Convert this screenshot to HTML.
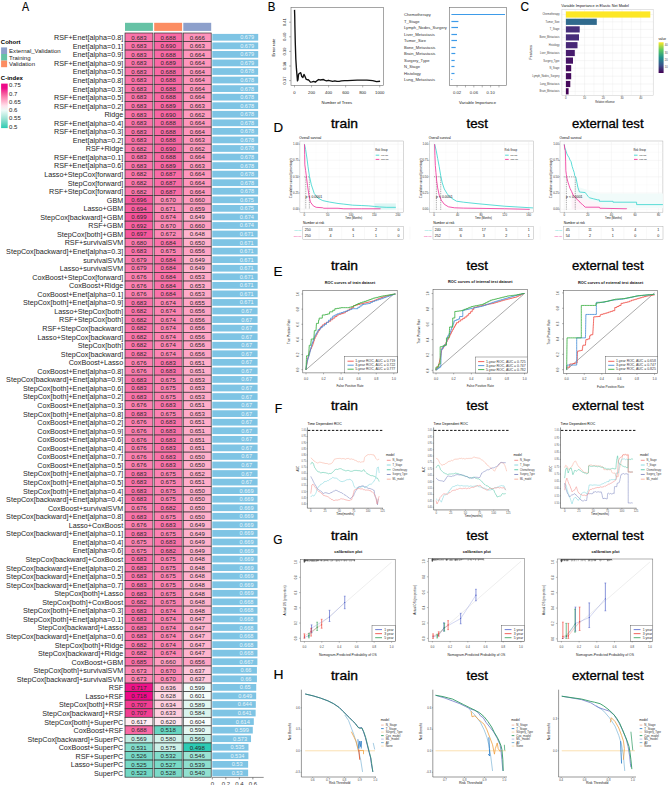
<!DOCTYPE html><html><head><meta charset="utf-8"><style>html,body{margin:0;padding:0;background:#fff;width:669px;height:785px;overflow:hidden}svg{display:block;font-family:"Liberation Sans",sans-serif}</style></head><body>
<svg width="669" height="785" viewBox="0 0 669 785">
<rect x="0.00" y="0.00" width="669.00" height="785.00" fill="#ffffff"/>
<text transform="translate(22.00,10.80) scale(0.789,1)" font-size="13.5" fill="#000" stroke="#000" stroke-width="0.15">A</text>
<text x="0.80" y="43.90" font-size="6" font-weight="bold" fill="#000">Cohort</text>
<rect x="1.10" y="47.40" width="6.00" height="6.60" fill="#8da0cb"/>
<rect x="1.10" y="54.00" width="6.00" height="6.60" fill="#66c2a5"/>
<rect x="1.10" y="60.60" width="6.00" height="6.60" fill="#fc8d62"/>
<text x="9.10" y="52.80" font-size="6" fill="#222" textLength="51.60" lengthAdjust="spacingAndGlyphs">External_Validation</text>
<text x="9.10" y="59.50" font-size="6" fill="#222">Training</text>
<text x="9.10" y="66.20" font-size="6" fill="#222">Validation</text>
<text x="0.80" y="80.40" font-size="6" font-weight="bold" fill="#000">C-index</text>
<defs><linearGradient id="cg" x1="0" y1="0" x2="0" y2="1">
<stop offset="0.00" stop-color="#ee0a88"/>
<stop offset="0.10" stop-color="#ee0a88"/>
<stop offset="0.20" stop-color="#f44a97"/>
<stop offset="0.30" stop-color="#fc82b1"/>
<stop offset="0.40" stop-color="#ffb2cd"/>
<stop offset="0.50" stop-color="#ffe2ec"/>
<stop offset="0.60" stop-color="#edfaf7"/>
<stop offset="0.70" stop-color="#c3eee4"/>
<stop offset="0.80" stop-color="#97e1d2"/>
<stop offset="0.90" stop-color="#63d4c0"/>
<stop offset="1.00" stop-color="#2ccbb4"/>
</linearGradient></defs>
<rect x="1.10" y="83.60" width="6.60" height="44.50" fill="url(#cg)"/>
<text x="9.10" y="87.10" font-size="6" fill="#222">0.75</text>
<text x="9.10" y="95.80" font-size="6" fill="#222">0.7</text>
<text x="9.10" y="103.50" font-size="6" fill="#222">0.65</text>
<text x="9.10" y="112.00" font-size="6" fill="#222">0.6</text>
<text x="9.10" y="120.40" font-size="6" fill="#222">0.55</text>
<text x="9.10" y="128.80" font-size="6" fill="#222">0.5</text>
<rect x="125.00" y="22.80" width="27.90" height="8.10" fill="#66c2a5"/>
<rect x="154.20" y="22.80" width="27.90" height="8.10" fill="#fc8d62"/>
<rect x="183.30" y="22.80" width="27.90" height="8.10" fill="#8da0cb"/>
<text x="123.20" y="40.18" font-size="7.2" text-anchor="end" fill="#262626">RSF+Enet[alpha=0.8]</text>
<rect x="125.00" y="33.00" width="27.90" height="8.55" fill="#fa74aa" stroke="#333" stroke-width="0.7"/>
<text x="138.95" y="39.53" font-size="6.1" text-anchor="middle" fill="#2a2a2a">0.683</text>
<rect x="154.20" y="33.00" width="27.90" height="8.55" fill="#f96aa5" stroke="#333" stroke-width="0.7"/>
<text x="168.15" y="39.53" font-size="6.1" text-anchor="middle" fill="#2a2a2a">0.688</text>
<rect x="183.30" y="33.00" width="27.90" height="8.55" fill="#fe93bb" stroke="#333" stroke-width="0.7"/>
<text x="197.25" y="39.53" font-size="6.1" text-anchor="middle" fill="#2a2a2a">0.666</text>
<rect x="212.30" y="33.90" width="45.90" height="6.75" fill="#7ec4e4"/>
<text x="247.20" y="39.28" font-size="5.6" text-anchor="middle" fill="#eaf6fb">0.679</text>
<text x="123.20" y="48.73" font-size="7.2" text-anchor="end" fill="#262626">Enet[alpha=0.1]</text>
<rect x="125.00" y="41.55" width="27.90" height="8.55" fill="#fa74aa" stroke="#333" stroke-width="0.7"/>
<text x="138.95" y="48.08" font-size="6.1" text-anchor="middle" fill="#2a2a2a">0.683</text>
<rect x="154.20" y="41.55" width="27.90" height="8.55" fill="#f866a3" stroke="#333" stroke-width="0.7"/>
<text x="168.15" y="48.08" font-size="6.1" text-anchor="middle" fill="#2a2a2a">0.690</text>
<rect x="183.30" y="41.55" width="27.90" height="8.55" fill="#ff99be" stroke="#333" stroke-width="0.7"/>
<text x="197.25" y="48.08" font-size="6.1" text-anchor="middle" fill="#2a2a2a">0.663</text>
<rect x="212.30" y="42.45" width="45.90" height="6.75" fill="#7ec4e4"/>
<text x="247.20" y="47.83" font-size="5.6" text-anchor="middle" fill="#eaf6fb">0.679</text>
<text x="123.20" y="57.29" font-size="7.2" text-anchor="end" fill="#262626">Enet[alpha=0.9]</text>
<rect x="125.00" y="50.11" width="27.90" height="8.55" fill="#fa74aa" stroke="#333" stroke-width="0.7"/>
<text x="138.95" y="56.64" font-size="6.1" text-anchor="middle" fill="#2a2a2a">0.683</text>
<rect x="154.20" y="50.11" width="27.90" height="8.55" fill="#f96aa5" stroke="#333" stroke-width="0.7"/>
<text x="168.15" y="56.64" font-size="6.1" text-anchor="middle" fill="#2a2a2a">0.688</text>
<rect x="183.30" y="50.11" width="27.90" height="8.55" fill="#ff97bd" stroke="#333" stroke-width="0.7"/>
<text x="197.25" y="56.64" font-size="6.1" text-anchor="middle" fill="#2a2a2a">0.664</text>
<rect x="212.30" y="51.01" width="45.90" height="6.75" fill="#7ec4e4"/>
<text x="247.20" y="56.39" font-size="5.6" text-anchor="middle" fill="#eaf6fb">0.679</text>
<text x="123.20" y="65.84" font-size="7.2" text-anchor="end" fill="#262626">RSF+Enet[alpha=0.9]</text>
<rect x="125.00" y="58.66" width="27.90" height="8.55" fill="#fa74aa" stroke="#333" stroke-width="0.7"/>
<text x="138.95" y="65.19" font-size="6.1" text-anchor="middle" fill="#2a2a2a">0.683</text>
<rect x="154.20" y="58.66" width="27.90" height="8.55" fill="#f968a4" stroke="#333" stroke-width="0.7"/>
<text x="168.15" y="65.19" font-size="6.1" text-anchor="middle" fill="#2a2a2a">0.689</text>
<rect x="183.30" y="58.66" width="27.90" height="8.55" fill="#ff97bd" stroke="#333" stroke-width="0.7"/>
<text x="197.25" y="65.19" font-size="6.1" text-anchor="middle" fill="#2a2a2a">0.664</text>
<rect x="212.30" y="59.56" width="45.90" height="6.75" fill="#7ec4e4"/>
<text x="247.20" y="64.94" font-size="5.6" text-anchor="middle" fill="#eaf6fb">0.679</text>
<text x="123.20" y="74.39" font-size="7.2" text-anchor="end" fill="#262626">Enet[alpha=0.5]</text>
<rect x="125.00" y="67.22" width="27.90" height="8.55" fill="#fa74aa" stroke="#333" stroke-width="0.7"/>
<text x="138.95" y="73.74" font-size="6.1" text-anchor="middle" fill="#2a2a2a">0.683</text>
<rect x="154.20" y="67.22" width="27.90" height="8.55" fill="#f96aa5" stroke="#333" stroke-width="0.7"/>
<text x="168.15" y="73.74" font-size="6.1" text-anchor="middle" fill="#2a2a2a">0.688</text>
<rect x="183.30" y="67.22" width="27.90" height="8.55" fill="#ff97bd" stroke="#333" stroke-width="0.7"/>
<text x="197.25" y="73.74" font-size="6.1" text-anchor="middle" fill="#2a2a2a">0.664</text>
<rect x="212.30" y="68.12" width="45.83" height="6.75" fill="#7ec4e4"/>
<text x="247.13" y="73.49" font-size="5.6" text-anchor="middle" fill="#eaf6fb">0.678</text>
<text x="123.20" y="82.95" font-size="7.2" text-anchor="end" fill="#262626">Enet[alpha=0.8]</text>
<rect x="125.00" y="75.77" width="27.90" height="8.55" fill="#fa74aa" stroke="#333" stroke-width="0.7"/>
<text x="138.95" y="82.30" font-size="6.1" text-anchor="middle" fill="#2a2a2a">0.683</text>
<rect x="154.20" y="75.77" width="27.90" height="8.55" fill="#f96aa5" stroke="#333" stroke-width="0.7"/>
<text x="168.15" y="82.30" font-size="6.1" text-anchor="middle" fill="#2a2a2a">0.688</text>
<rect x="183.30" y="75.77" width="27.90" height="8.55" fill="#ff97bd" stroke="#333" stroke-width="0.7"/>
<text x="197.25" y="82.30" font-size="6.1" text-anchor="middle" fill="#2a2a2a">0.664</text>
<rect x="212.30" y="76.67" width="45.83" height="6.75" fill="#7ec4e4"/>
<text x="247.13" y="82.05" font-size="5.6" text-anchor="middle" fill="#eaf6fb">0.678</text>
<text x="123.20" y="91.50" font-size="7.2" text-anchor="end" fill="#262626">Enet[alpha=0.3]</text>
<rect x="125.00" y="84.32" width="27.90" height="8.55" fill="#fa74aa" stroke="#333" stroke-width="0.7"/>
<text x="138.95" y="90.85" font-size="6.1" text-anchor="middle" fill="#2a2a2a">0.683</text>
<rect x="154.20" y="84.32" width="27.90" height="8.55" fill="#f96aa5" stroke="#333" stroke-width="0.7"/>
<text x="168.15" y="90.85" font-size="6.1" text-anchor="middle" fill="#2a2a2a">0.688</text>
<rect x="183.30" y="84.32" width="27.90" height="8.55" fill="#ff97bd" stroke="#333" stroke-width="0.7"/>
<text x="197.25" y="90.85" font-size="6.1" text-anchor="middle" fill="#2a2a2a">0.664</text>
<rect x="212.30" y="85.22" width="45.83" height="6.75" fill="#7ec4e4"/>
<text x="247.13" y="90.60" font-size="5.6" text-anchor="middle" fill="#eaf6fb">0.678</text>
<text x="123.20" y="100.06" font-size="7.2" text-anchor="end" fill="#262626">RSF+Enet[alpha=0.5]</text>
<rect x="125.00" y="92.88" width="27.90" height="8.55" fill="#fa74aa" stroke="#333" stroke-width="0.7"/>
<text x="138.95" y="99.41" font-size="6.1" text-anchor="middle" fill="#2a2a2a">0.683</text>
<rect x="154.20" y="92.88" width="27.90" height="8.55" fill="#f96aa5" stroke="#333" stroke-width="0.7"/>
<text x="168.15" y="99.41" font-size="6.1" text-anchor="middle" fill="#2a2a2a">0.688</text>
<rect x="183.30" y="92.88" width="27.90" height="8.55" fill="#ff97bd" stroke="#333" stroke-width="0.7"/>
<text x="197.25" y="99.41" font-size="6.1" text-anchor="middle" fill="#2a2a2a">0.664</text>
<rect x="212.30" y="93.78" width="45.83" height="6.75" fill="#7ec4e4"/>
<text x="247.13" y="99.16" font-size="5.6" text-anchor="middle" fill="#eaf6fb">0.678</text>
<text x="123.20" y="108.61" font-size="7.2" text-anchor="end" fill="#262626">RSF+Enet[alpha=0.2]</text>
<rect x="125.00" y="101.43" width="27.90" height="8.55" fill="#fa74aa" stroke="#333" stroke-width="0.7"/>
<text x="138.95" y="107.96" font-size="6.1" text-anchor="middle" fill="#2a2a2a">0.683</text>
<rect x="154.20" y="101.43" width="27.90" height="8.55" fill="#f968a4" stroke="#333" stroke-width="0.7"/>
<text x="168.15" y="107.96" font-size="6.1" text-anchor="middle" fill="#2a2a2a">0.689</text>
<rect x="183.30" y="101.43" width="27.90" height="8.55" fill="#ff99be" stroke="#333" stroke-width="0.7"/>
<text x="197.25" y="107.96" font-size="6.1" text-anchor="middle" fill="#2a2a2a">0.663</text>
<rect x="212.30" y="102.33" width="45.83" height="6.75" fill="#7ec4e4"/>
<text x="247.13" y="107.71" font-size="5.6" text-anchor="middle" fill="#eaf6fb">0.678</text>
<text x="123.20" y="117.16" font-size="7.2" text-anchor="end" fill="#262626">Ridge</text>
<rect x="125.00" y="109.99" width="27.90" height="8.55" fill="#fa74aa" stroke="#333" stroke-width="0.7"/>
<text x="138.95" y="116.51" font-size="6.1" text-anchor="middle" fill="#2a2a2a">0.683</text>
<rect x="154.20" y="109.99" width="27.90" height="8.55" fill="#f866a3" stroke="#333" stroke-width="0.7"/>
<text x="168.15" y="116.51" font-size="6.1" text-anchor="middle" fill="#2a2a2a">0.690</text>
<rect x="183.30" y="109.99" width="27.90" height="8.55" fill="#ff9bbf" stroke="#333" stroke-width="0.7"/>
<text x="197.25" y="116.51" font-size="6.1" text-anchor="middle" fill="#2a2a2a">0.662</text>
<rect x="212.30" y="110.89" width="45.83" height="6.75" fill="#7ec4e4"/>
<text x="247.13" y="116.26" font-size="5.6" text-anchor="middle" fill="#eaf6fb">0.678</text>
<text x="123.20" y="125.72" font-size="7.2" text-anchor="end" fill="#262626">RSF+Enet[alpha=0.4]</text>
<rect x="125.00" y="118.54" width="27.90" height="8.55" fill="#fa74aa" stroke="#333" stroke-width="0.7"/>
<text x="138.95" y="125.07" font-size="6.1" text-anchor="middle" fill="#2a2a2a">0.683</text>
<rect x="154.20" y="118.54" width="27.90" height="8.55" fill="#f96aa5" stroke="#333" stroke-width="0.7"/>
<text x="168.15" y="125.07" font-size="6.1" text-anchor="middle" fill="#2a2a2a">0.688</text>
<rect x="183.30" y="118.54" width="27.90" height="8.55" fill="#ff97bd" stroke="#333" stroke-width="0.7"/>
<text x="197.25" y="125.07" font-size="6.1" text-anchor="middle" fill="#2a2a2a">0.664</text>
<rect x="212.30" y="119.44" width="45.83" height="6.75" fill="#7ec4e4"/>
<text x="247.13" y="124.82" font-size="5.6" text-anchor="middle" fill="#eaf6fb">0.678</text>
<text x="123.20" y="134.27" font-size="7.2" text-anchor="end" fill="#262626">RSF+Enet[alpha=0.3]</text>
<rect x="125.00" y="127.09" width="27.90" height="8.55" fill="#fa74aa" stroke="#333" stroke-width="0.7"/>
<text x="138.95" y="133.62" font-size="6.1" text-anchor="middle" fill="#2a2a2a">0.683</text>
<rect x="154.20" y="127.09" width="27.90" height="8.55" fill="#f96aa5" stroke="#333" stroke-width="0.7"/>
<text x="168.15" y="133.62" font-size="6.1" text-anchor="middle" fill="#2a2a2a">0.688</text>
<rect x="183.30" y="127.09" width="27.90" height="8.55" fill="#ff97bd" stroke="#333" stroke-width="0.7"/>
<text x="197.25" y="133.62" font-size="6.1" text-anchor="middle" fill="#2a2a2a">0.664</text>
<rect x="212.30" y="127.99" width="45.83" height="6.75" fill="#7ec4e4"/>
<text x="247.13" y="133.37" font-size="5.6" text-anchor="middle" fill="#eaf6fb">0.678</text>
<text x="123.20" y="142.83" font-size="7.2" text-anchor="end" fill="#262626">Enet[alpha=0.2]</text>
<rect x="125.00" y="135.65" width="27.90" height="8.55" fill="#fa74aa" stroke="#333" stroke-width="0.7"/>
<text x="138.95" y="142.18" font-size="6.1" text-anchor="middle" fill="#2a2a2a">0.683</text>
<rect x="154.20" y="135.65" width="27.90" height="8.55" fill="#f96aa5" stroke="#333" stroke-width="0.7"/>
<text x="168.15" y="142.18" font-size="6.1" text-anchor="middle" fill="#2a2a2a">0.688</text>
<rect x="183.30" y="135.65" width="27.90" height="8.55" fill="#ff99be" stroke="#333" stroke-width="0.7"/>
<text x="197.25" y="142.18" font-size="6.1" text-anchor="middle" fill="#2a2a2a">0.663</text>
<rect x="212.30" y="136.55" width="45.83" height="6.75" fill="#7ec4e4"/>
<text x="247.13" y="141.93" font-size="5.6" text-anchor="middle" fill="#eaf6fb">0.678</text>
<text x="123.20" y="151.38" font-size="7.2" text-anchor="end" fill="#262626">RSF+Ridge</text>
<rect x="125.00" y="144.20" width="27.90" height="8.55" fill="#fb76ab" stroke="#333" stroke-width="0.7"/>
<text x="138.95" y="150.73" font-size="6.1" text-anchor="middle" fill="#2a2a2a">0.682</text>
<rect x="154.20" y="144.20" width="27.90" height="8.55" fill="#f866a3" stroke="#333" stroke-width="0.7"/>
<text x="168.15" y="150.73" font-size="6.1" text-anchor="middle" fill="#2a2a2a">0.690</text>
<rect x="183.30" y="144.20" width="27.90" height="8.55" fill="#ff9bbf" stroke="#333" stroke-width="0.7"/>
<text x="197.25" y="150.73" font-size="6.1" text-anchor="middle" fill="#2a2a2a">0.662</text>
<rect x="212.30" y="145.10" width="45.83" height="6.75" fill="#7ec4e4"/>
<text x="247.13" y="150.48" font-size="5.6" text-anchor="middle" fill="#eaf6fb">0.678</text>
<text x="123.20" y="159.93" font-size="7.2" text-anchor="end" fill="#262626">RSF+Enet[alpha=0.1]</text>
<rect x="125.00" y="152.76" width="27.90" height="8.55" fill="#fa74aa" stroke="#333" stroke-width="0.7"/>
<text x="138.95" y="159.28" font-size="6.1" text-anchor="middle" fill="#2a2a2a">0.683</text>
<rect x="154.20" y="152.76" width="27.90" height="8.55" fill="#f96aa5" stroke="#333" stroke-width="0.7"/>
<text x="168.15" y="159.28" font-size="6.1" text-anchor="middle" fill="#2a2a2a">0.688</text>
<rect x="183.30" y="152.76" width="27.90" height="8.55" fill="#ff97bd" stroke="#333" stroke-width="0.7"/>
<text x="197.25" y="159.28" font-size="6.1" text-anchor="middle" fill="#2a2a2a">0.664</text>
<rect x="212.30" y="153.66" width="45.83" height="6.75" fill="#7ec4e4"/>
<text x="247.13" y="159.03" font-size="5.6" text-anchor="middle" fill="#eaf6fb">0.678</text>
<text x="123.20" y="168.49" font-size="7.2" text-anchor="end" fill="#262626">RSF+Enet[alpha=0.6]</text>
<rect x="125.00" y="161.31" width="27.90" height="8.55" fill="#fa74aa" stroke="#333" stroke-width="0.7"/>
<text x="138.95" y="167.84" font-size="6.1" text-anchor="middle" fill="#2a2a2a">0.683</text>
<rect x="154.20" y="161.31" width="27.90" height="8.55" fill="#f968a4" stroke="#333" stroke-width="0.7"/>
<text x="168.15" y="167.84" font-size="6.1" text-anchor="middle" fill="#2a2a2a">0.689</text>
<rect x="183.30" y="161.31" width="27.90" height="8.55" fill="#ff99be" stroke="#333" stroke-width="0.7"/>
<text x="197.25" y="167.84" font-size="6.1" text-anchor="middle" fill="#2a2a2a">0.663</text>
<rect x="212.30" y="162.21" width="45.83" height="6.75" fill="#7ec4e4"/>
<text x="247.13" y="167.59" font-size="5.6" text-anchor="middle" fill="#eaf6fb">0.678</text>
<text x="123.20" y="177.04" font-size="7.2" text-anchor="end" fill="#262626">Lasso+StepCox[forward]</text>
<rect x="125.00" y="169.86" width="27.90" height="8.55" fill="#fb76ab" stroke="#333" stroke-width="0.7"/>
<text x="138.95" y="176.39" font-size="6.1" text-anchor="middle" fill="#2a2a2a">0.682</text>
<rect x="154.20" y="169.86" width="27.90" height="8.55" fill="#f96ca6" stroke="#333" stroke-width="0.7"/>
<text x="168.15" y="176.39" font-size="6.1" text-anchor="middle" fill="#2a2a2a">0.687</text>
<rect x="183.30" y="169.86" width="27.90" height="8.55" fill="#ff97bd" stroke="#333" stroke-width="0.7"/>
<text x="197.25" y="176.39" font-size="6.1" text-anchor="middle" fill="#2a2a2a">0.664</text>
<rect x="212.30" y="170.76" width="45.83" height="6.75" fill="#7ec4e4"/>
<text x="247.13" y="176.14" font-size="5.6" text-anchor="middle" fill="#eaf6fb">0.678</text>
<text x="123.20" y="185.60" font-size="7.2" text-anchor="end" fill="#262626">StepCox[forward]</text>
<rect x="125.00" y="178.42" width="27.90" height="8.55" fill="#fb76ab" stroke="#333" stroke-width="0.7"/>
<text x="138.95" y="184.95" font-size="6.1" text-anchor="middle" fill="#2a2a2a">0.682</text>
<rect x="154.20" y="178.42" width="27.90" height="8.55" fill="#f96ca6" stroke="#333" stroke-width="0.7"/>
<text x="168.15" y="184.95" font-size="6.1" text-anchor="middle" fill="#2a2a2a">0.687</text>
<rect x="183.30" y="178.42" width="27.90" height="8.55" fill="#ff97bd" stroke="#333" stroke-width="0.7"/>
<text x="197.25" y="184.95" font-size="6.1" text-anchor="middle" fill="#2a2a2a">0.664</text>
<rect x="212.30" y="179.32" width="45.83" height="6.75" fill="#7ec4e4"/>
<text x="247.13" y="184.70" font-size="5.6" text-anchor="middle" fill="#eaf6fb">0.678</text>
<text x="123.20" y="194.15" font-size="7.2" text-anchor="end" fill="#262626">RSF+StepCox[forward]</text>
<rect x="125.00" y="186.97" width="27.90" height="8.55" fill="#fb76ab" stroke="#333" stroke-width="0.7"/>
<text x="138.95" y="193.50" font-size="6.1" text-anchor="middle" fill="#2a2a2a">0.682</text>
<rect x="154.20" y="186.97" width="27.90" height="8.55" fill="#f96ca6" stroke="#333" stroke-width="0.7"/>
<text x="168.15" y="193.50" font-size="6.1" text-anchor="middle" fill="#2a2a2a">0.687</text>
<rect x="183.30" y="186.97" width="27.90" height="8.55" fill="#ff97bd" stroke="#333" stroke-width="0.7"/>
<text x="197.25" y="193.50" font-size="6.1" text-anchor="middle" fill="#2a2a2a">0.664</text>
<rect x="212.30" y="187.87" width="45.83" height="6.75" fill="#7ec4e4"/>
<text x="247.13" y="193.25" font-size="5.6" text-anchor="middle" fill="#eaf6fb">0.678</text>
<text x="123.20" y="202.70" font-size="7.2" text-anchor="end" fill="#262626">GBM</text>
<rect x="125.00" y="195.53" width="27.90" height="8.55" fill="#f6599d" stroke="#333" stroke-width="0.7"/>
<text x="138.95" y="202.05" font-size="6.1" text-anchor="middle" fill="#2a2a2a">0.696</text>
<rect x="154.20" y="195.53" width="27.90" height="8.55" fill="#fe8cb7" stroke="#333" stroke-width="0.7"/>
<text x="168.15" y="202.05" font-size="6.1" text-anchor="middle" fill="#2a2a2a">0.670</text>
<rect x="183.30" y="195.53" width="27.90" height="8.55" fill="#ff9ec1" stroke="#333" stroke-width="0.7"/>
<text x="197.25" y="202.05" font-size="6.1" text-anchor="middle" fill="#2a2a2a">0.660</text>
<rect x="212.30" y="196.43" width="45.63" height="6.75" fill="#7ec4e4"/>
<text x="246.93" y="201.80" font-size="5.6" text-anchor="middle" fill="#eaf6fb">0.675</text>
<text x="123.20" y="211.26" font-size="7.2" text-anchor="end" fill="#262626">Lasso+GBM</text>
<rect x="125.00" y="204.08" width="27.90" height="8.55" fill="#f75d9f" stroke="#333" stroke-width="0.7"/>
<text x="138.95" y="210.61" font-size="6.1" text-anchor="middle" fill="#2a2a2a">0.694</text>
<rect x="154.20" y="204.08" width="27.90" height="8.55" fill="#fd8ab6" stroke="#333" stroke-width="0.7"/>
<text x="168.15" y="210.61" font-size="6.1" text-anchor="middle" fill="#2a2a2a">0.671</text>
<rect x="183.30" y="204.08" width="27.90" height="8.55" fill="#ffa0c2" stroke="#333" stroke-width="0.7"/>
<text x="197.25" y="210.61" font-size="6.1" text-anchor="middle" fill="#2a2a2a">0.659</text>
<rect x="212.30" y="204.98" width="45.63" height="6.75" fill="#7ec4e4"/>
<text x="246.93" y="210.36" font-size="5.6" text-anchor="middle" fill="#eaf6fb">0.675</text>
<text x="123.20" y="219.81" font-size="7.2" text-anchor="end" fill="#262626">StepCox[backward]+GBM</text>
<rect x="125.00" y="212.63" width="27.90" height="8.55" fill="#f5529a" stroke="#333" stroke-width="0.7"/>
<text x="138.95" y="219.16" font-size="6.1" text-anchor="middle" fill="#2a2a2a">0.699</text>
<rect x="154.20" y="212.63" width="27.90" height="8.55" fill="#fd85b3" stroke="#333" stroke-width="0.7"/>
<text x="168.15" y="219.16" font-size="6.1" text-anchor="middle" fill="#2a2a2a">0.674</text>
<rect x="183.30" y="212.63" width="27.90" height="8.55" fill="#ffb2cd" stroke="#333" stroke-width="0.7"/>
<text x="197.25" y="219.16" font-size="6.1" text-anchor="middle" fill="#2a2a2a">0.649</text>
<rect x="212.30" y="213.53" width="45.56" height="6.75" fill="#7ec4e4"/>
<text x="246.86" y="218.91" font-size="5.6" text-anchor="middle" fill="#eaf6fb">0.674</text>
<text x="123.20" y="228.37" font-size="7.2" text-anchor="end" fill="#262626">RSF+GBM</text>
<rect x="125.00" y="221.19" width="27.90" height="8.55" fill="#f861a1" stroke="#333" stroke-width="0.7"/>
<text x="138.95" y="227.72" font-size="6.1" text-anchor="middle" fill="#2a2a2a">0.692</text>
<rect x="154.20" y="221.19" width="27.90" height="8.55" fill="#fe8cb7" stroke="#333" stroke-width="0.7"/>
<text x="168.15" y="227.72" font-size="6.1" text-anchor="middle" fill="#2a2a2a">0.670</text>
<rect x="183.30" y="221.19" width="27.90" height="8.55" fill="#ff9ec1" stroke="#333" stroke-width="0.7"/>
<text x="197.25" y="227.72" font-size="6.1" text-anchor="middle" fill="#2a2a2a">0.660</text>
<rect x="212.30" y="222.09" width="45.56" height="6.75" fill="#7ec4e4"/>
<text x="246.86" y="227.47" font-size="5.6" text-anchor="middle" fill="#eaf6fb">0.674</text>
<text x="123.20" y="236.92" font-size="7.2" text-anchor="end" fill="#262626">StepCox[both]+GBM</text>
<rect x="125.00" y="229.74" width="27.90" height="8.55" fill="#f6569c" stroke="#333" stroke-width="0.7"/>
<text x="138.95" y="236.27" font-size="6.1" text-anchor="middle" fill="#2a2a2a">0.697</text>
<rect x="154.20" y="229.74" width="27.90" height="8.55" fill="#fd88b5" stroke="#333" stroke-width="0.7"/>
<text x="168.15" y="236.27" font-size="6.1" text-anchor="middle" fill="#2a2a2a">0.672</text>
<rect x="183.30" y="229.74" width="27.90" height="8.55" fill="#ffb4ce" stroke="#333" stroke-width="0.7"/>
<text x="197.25" y="236.27" font-size="6.1" text-anchor="middle" fill="#2a2a2a">0.648</text>
<rect x="212.30" y="230.64" width="45.36" height="6.75" fill="#7ec4e4"/>
<text x="246.66" y="236.02" font-size="5.6" text-anchor="middle" fill="#eaf6fb">0.671</text>
<text x="123.20" y="245.47" font-size="7.2" text-anchor="end" fill="#262626">RSF+survivalSVM</text>
<rect x="125.00" y="238.30" width="27.90" height="8.55" fill="#fb79ad" stroke="#333" stroke-width="0.7"/>
<text x="138.95" y="244.82" font-size="6.1" text-anchor="middle" fill="#2a2a2a">0.680</text>
<rect x="154.20" y="238.30" width="27.90" height="8.55" fill="#fa72a9" stroke="#333" stroke-width="0.7"/>
<text x="168.15" y="244.82" font-size="6.1" text-anchor="middle" fill="#2a2a2a">0.684</text>
<rect x="183.30" y="238.30" width="27.90" height="8.55" fill="#ffb0cc" stroke="#333" stroke-width="0.7"/>
<text x="197.25" y="244.82" font-size="6.1" text-anchor="middle" fill="#2a2a2a">0.650</text>
<rect x="212.30" y="239.20" width="45.36" height="6.75" fill="#7ec4e4"/>
<text x="246.66" y="244.57" font-size="5.6" text-anchor="middle" fill="#eaf6fb">0.671</text>
<text x="123.20" y="254.03" font-size="7.2" text-anchor="end" fill="#262626">StepCox[backward]+Enet[alpha=0.3]</text>
<rect x="125.00" y="246.85" width="27.90" height="8.55" fill="#fa74aa" stroke="#333" stroke-width="0.7"/>
<text x="138.95" y="253.38" font-size="6.1" text-anchor="middle" fill="#2a2a2a">0.683</text>
<rect x="154.20" y="246.85" width="27.90" height="8.55" fill="#fc83b2" stroke="#333" stroke-width="0.7"/>
<text x="168.15" y="253.38" font-size="6.1" text-anchor="middle" fill="#2a2a2a">0.675</text>
<rect x="183.30" y="246.85" width="27.90" height="8.55" fill="#ffa5c6" stroke="#333" stroke-width="0.7"/>
<text x="197.25" y="253.38" font-size="6.1" text-anchor="middle" fill="#2a2a2a">0.656</text>
<rect x="212.30" y="247.75" width="45.36" height="6.75" fill="#7ec4e4"/>
<text x="246.66" y="253.13" font-size="5.6" text-anchor="middle" fill="#eaf6fb">0.671</text>
<text x="123.20" y="262.58" font-size="7.2" text-anchor="end" fill="#262626">survivalSVM</text>
<rect x="125.00" y="255.40" width="27.90" height="8.55" fill="#fb7bae" stroke="#333" stroke-width="0.7"/>
<text x="138.95" y="261.93" font-size="6.1" text-anchor="middle" fill="#2a2a2a">0.679</text>
<rect x="154.20" y="255.40" width="27.90" height="8.55" fill="#fa72a9" stroke="#333" stroke-width="0.7"/>
<text x="168.15" y="261.93" font-size="6.1" text-anchor="middle" fill="#2a2a2a">0.684</text>
<rect x="183.30" y="255.40" width="27.90" height="8.55" fill="#ffb2cd" stroke="#333" stroke-width="0.7"/>
<text x="197.25" y="261.93" font-size="6.1" text-anchor="middle" fill="#2a2a2a">0.649</text>
<rect x="212.30" y="256.30" width="45.36" height="6.75" fill="#7ec4e4"/>
<text x="246.66" y="261.68" font-size="5.6" text-anchor="middle" fill="#eaf6fb">0.671</text>
<text x="123.20" y="271.14" font-size="7.2" text-anchor="end" fill="#262626">Lasso+survivalSVM</text>
<rect x="125.00" y="263.96" width="27.90" height="8.55" fill="#fb7bae" stroke="#333" stroke-width="0.7"/>
<text x="138.95" y="270.49" font-size="6.1" text-anchor="middle" fill="#2a2a2a">0.679</text>
<rect x="154.20" y="263.96" width="27.90" height="8.55" fill="#fa72a9" stroke="#333" stroke-width="0.7"/>
<text x="168.15" y="270.49" font-size="6.1" text-anchor="middle" fill="#2a2a2a">0.684</text>
<rect x="183.30" y="263.96" width="27.90" height="8.55" fill="#ffb2cd" stroke="#333" stroke-width="0.7"/>
<text x="197.25" y="270.49" font-size="6.1" text-anchor="middle" fill="#2a2a2a">0.649</text>
<rect x="212.30" y="264.86" width="45.36" height="6.75" fill="#7ec4e4"/>
<text x="246.66" y="270.24" font-size="5.6" text-anchor="middle" fill="#eaf6fb">0.671</text>
<text x="123.20" y="279.69" font-size="7.2" text-anchor="end" fill="#262626">CoxBoost+StepCox[forward]</text>
<rect x="125.00" y="272.51" width="27.90" height="8.55" fill="#fc81b1" stroke="#333" stroke-width="0.7"/>
<text x="138.95" y="279.04" font-size="6.1" text-anchor="middle" fill="#2a2a2a">0.676</text>
<rect x="154.20" y="272.51" width="27.90" height="8.55" fill="#fa72a9" stroke="#333" stroke-width="0.7"/>
<text x="168.15" y="279.04" font-size="6.1" text-anchor="middle" fill="#2a2a2a">0.684</text>
<rect x="183.30" y="272.51" width="27.90" height="8.55" fill="#ffabc9" stroke="#333" stroke-width="0.7"/>
<text x="197.25" y="279.04" font-size="6.1" text-anchor="middle" fill="#2a2a2a">0.653</text>
<rect x="212.30" y="273.41" width="45.36" height="6.75" fill="#7ec4e4"/>
<text x="246.66" y="278.79" font-size="5.6" text-anchor="middle" fill="#eaf6fb">0.671</text>
<text x="123.20" y="288.24" font-size="7.2" text-anchor="end" fill="#262626">CoxBoost+Ridge</text>
<rect x="125.00" y="281.07" width="27.90" height="8.55" fill="#fc81b1" stroke="#333" stroke-width="0.7"/>
<text x="138.95" y="287.59" font-size="6.1" text-anchor="middle" fill="#2a2a2a">0.676</text>
<rect x="154.20" y="281.07" width="27.90" height="8.55" fill="#fa72a9" stroke="#333" stroke-width="0.7"/>
<text x="168.15" y="287.59" font-size="6.1" text-anchor="middle" fill="#2a2a2a">0.684</text>
<rect x="183.30" y="281.07" width="27.90" height="8.55" fill="#ffabc9" stroke="#333" stroke-width="0.7"/>
<text x="197.25" y="287.59" font-size="6.1" text-anchor="middle" fill="#2a2a2a">0.653</text>
<rect x="212.30" y="281.97" width="45.36" height="6.75" fill="#7ec4e4"/>
<text x="246.66" y="287.34" font-size="5.6" text-anchor="middle" fill="#eaf6fb">0.671</text>
<text x="123.20" y="296.80" font-size="7.2" text-anchor="end" fill="#262626">CoxBoost+Enet[alpha=0.1]</text>
<rect x="125.00" y="289.62" width="27.90" height="8.55" fill="#fc81b1" stroke="#333" stroke-width="0.7"/>
<text x="138.95" y="296.15" font-size="6.1" text-anchor="middle" fill="#2a2a2a">0.676</text>
<rect x="154.20" y="289.62" width="27.90" height="8.55" fill="#fa72a9" stroke="#333" stroke-width="0.7"/>
<text x="168.15" y="296.15" font-size="6.1" text-anchor="middle" fill="#2a2a2a">0.684</text>
<rect x="183.30" y="289.62" width="27.90" height="8.55" fill="#ffabc9" stroke="#333" stroke-width="0.7"/>
<text x="197.25" y="296.15" font-size="6.1" text-anchor="middle" fill="#2a2a2a">0.653</text>
<rect x="212.30" y="290.52" width="45.36" height="6.75" fill="#7ec4e4"/>
<text x="246.66" y="295.90" font-size="5.6" text-anchor="middle" fill="#eaf6fb">0.671</text>
<text x="123.20" y="305.35" font-size="7.2" text-anchor="end" fill="#262626">StepCox[both]+Enet[alpha=0.9]</text>
<rect x="125.00" y="298.17" width="27.90" height="8.55" fill="#fa74aa" stroke="#333" stroke-width="0.7"/>
<text x="138.95" y="304.70" font-size="6.1" text-anchor="middle" fill="#2a2a2a">0.683</text>
<rect x="154.20" y="298.17" width="27.90" height="8.55" fill="#fd85b3" stroke="#333" stroke-width="0.7"/>
<text x="168.15" y="304.70" font-size="6.1" text-anchor="middle" fill="#2a2a2a">0.674</text>
<rect x="183.30" y="298.17" width="27.90" height="8.55" fill="#ffa7c7" stroke="#333" stroke-width="0.7"/>
<text x="197.25" y="304.70" font-size="6.1" text-anchor="middle" fill="#2a2a2a">0.655</text>
<rect x="212.30" y="299.07" width="45.36" height="6.75" fill="#7ec4e4"/>
<text x="246.66" y="304.45" font-size="5.6" text-anchor="middle" fill="#eaf6fb">0.671</text>
<text x="123.20" y="313.91" font-size="7.2" text-anchor="end" fill="#262626">Lasso+StepCox[both]</text>
<rect x="125.00" y="306.73" width="27.90" height="8.55" fill="#fb76ab" stroke="#333" stroke-width="0.7"/>
<text x="138.95" y="313.26" font-size="6.1" text-anchor="middle" fill="#2a2a2a">0.682</text>
<rect x="154.20" y="306.73" width="27.90" height="8.55" fill="#fd85b3" stroke="#333" stroke-width="0.7"/>
<text x="168.15" y="313.26" font-size="6.1" text-anchor="middle" fill="#2a2a2a">0.674</text>
<rect x="183.30" y="306.73" width="27.90" height="8.55" fill="#ffa5c6" stroke="#333" stroke-width="0.7"/>
<text x="197.25" y="313.26" font-size="6.1" text-anchor="middle" fill="#2a2a2a">0.656</text>
<rect x="212.30" y="307.63" width="45.29" height="6.75" fill="#7ec4e4"/>
<text x="246.59" y="313.01" font-size="5.6" text-anchor="middle" fill="#eaf6fb">0.67</text>
<text x="123.20" y="322.46" font-size="7.2" text-anchor="end" fill="#262626">RSF+StepCox[both]</text>
<rect x="125.00" y="315.28" width="27.90" height="8.55" fill="#fb76ab" stroke="#333" stroke-width="0.7"/>
<text x="138.95" y="321.81" font-size="6.1" text-anchor="middle" fill="#2a2a2a">0.682</text>
<rect x="154.20" y="315.28" width="27.90" height="8.55" fill="#fd85b3" stroke="#333" stroke-width="0.7"/>
<text x="168.15" y="321.81" font-size="6.1" text-anchor="middle" fill="#2a2a2a">0.674</text>
<rect x="183.30" y="315.28" width="27.90" height="8.55" fill="#ffa5c6" stroke="#333" stroke-width="0.7"/>
<text x="197.25" y="321.81" font-size="6.1" text-anchor="middle" fill="#2a2a2a">0.656</text>
<rect x="212.30" y="316.18" width="45.29" height="6.75" fill="#7ec4e4"/>
<text x="246.59" y="321.56" font-size="5.6" text-anchor="middle" fill="#eaf6fb">0.67</text>
<text x="123.20" y="331.01" font-size="7.2" text-anchor="end" fill="#262626">RSF+StepCox[backward]</text>
<rect x="125.00" y="323.84" width="27.90" height="8.55" fill="#fb76ab" stroke="#333" stroke-width="0.7"/>
<text x="138.95" y="330.36" font-size="6.1" text-anchor="middle" fill="#2a2a2a">0.682</text>
<rect x="154.20" y="323.84" width="27.90" height="8.55" fill="#fd85b3" stroke="#333" stroke-width="0.7"/>
<text x="168.15" y="330.36" font-size="6.1" text-anchor="middle" fill="#2a2a2a">0.674</text>
<rect x="183.30" y="323.84" width="27.90" height="8.55" fill="#ffa5c6" stroke="#333" stroke-width="0.7"/>
<text x="197.25" y="330.36" font-size="6.1" text-anchor="middle" fill="#2a2a2a">0.656</text>
<rect x="212.30" y="324.74" width="45.29" height="6.75" fill="#7ec4e4"/>
<text x="246.59" y="330.11" font-size="5.6" text-anchor="middle" fill="#eaf6fb">0.67</text>
<text x="123.20" y="339.57" font-size="7.2" text-anchor="end" fill="#262626">Lasso+StepCox[backward]</text>
<rect x="125.00" y="332.39" width="27.90" height="8.55" fill="#fb76ab" stroke="#333" stroke-width="0.7"/>
<text x="138.95" y="338.92" font-size="6.1" text-anchor="middle" fill="#2a2a2a">0.682</text>
<rect x="154.20" y="332.39" width="27.90" height="8.55" fill="#fd85b3" stroke="#333" stroke-width="0.7"/>
<text x="168.15" y="338.92" font-size="6.1" text-anchor="middle" fill="#2a2a2a">0.674</text>
<rect x="183.30" y="332.39" width="27.90" height="8.55" fill="#ffa5c6" stroke="#333" stroke-width="0.7"/>
<text x="197.25" y="338.92" font-size="6.1" text-anchor="middle" fill="#2a2a2a">0.656</text>
<rect x="212.30" y="333.29" width="45.29" height="6.75" fill="#7ec4e4"/>
<text x="246.59" y="338.67" font-size="5.6" text-anchor="middle" fill="#eaf6fb">0.67</text>
<text x="123.20" y="348.12" font-size="7.2" text-anchor="end" fill="#262626">StepCox[both]</text>
<rect x="125.00" y="340.94" width="27.90" height="8.55" fill="#fb76ab" stroke="#333" stroke-width="0.7"/>
<text x="138.95" y="347.47" font-size="6.1" text-anchor="middle" fill="#2a2a2a">0.682</text>
<rect x="154.20" y="340.94" width="27.90" height="8.55" fill="#fd85b3" stroke="#333" stroke-width="0.7"/>
<text x="168.15" y="347.47" font-size="6.1" text-anchor="middle" fill="#2a2a2a">0.674</text>
<rect x="183.30" y="340.94" width="27.90" height="8.55" fill="#ffa5c6" stroke="#333" stroke-width="0.7"/>
<text x="197.25" y="347.47" font-size="6.1" text-anchor="middle" fill="#2a2a2a">0.656</text>
<rect x="212.30" y="341.84" width="45.29" height="6.75" fill="#7ec4e4"/>
<text x="246.59" y="347.22" font-size="5.6" text-anchor="middle" fill="#eaf6fb">0.67</text>
<text x="123.20" y="356.68" font-size="7.2" text-anchor="end" fill="#262626">StepCox[backward]</text>
<rect x="125.00" y="349.50" width="27.90" height="8.55" fill="#fb76ab" stroke="#333" stroke-width="0.7"/>
<text x="138.95" y="356.03" font-size="6.1" text-anchor="middle" fill="#2a2a2a">0.682</text>
<rect x="154.20" y="349.50" width="27.90" height="8.55" fill="#fd85b3" stroke="#333" stroke-width="0.7"/>
<text x="168.15" y="356.03" font-size="6.1" text-anchor="middle" fill="#2a2a2a">0.674</text>
<rect x="183.30" y="349.50" width="27.90" height="8.55" fill="#ffa5c6" stroke="#333" stroke-width="0.7"/>
<text x="197.25" y="356.03" font-size="6.1" text-anchor="middle" fill="#2a2a2a">0.656</text>
<rect x="212.30" y="350.40" width="45.29" height="6.75" fill="#7ec4e4"/>
<text x="246.59" y="355.78" font-size="5.6" text-anchor="middle" fill="#eaf6fb">0.67</text>
<text x="123.20" y="365.23" font-size="7.2" text-anchor="end" fill="#262626">CoxBoost+Lasso</text>
<rect x="125.00" y="358.05" width="27.90" height="8.55" fill="#fc81b1" stroke="#333" stroke-width="0.7"/>
<text x="138.95" y="364.58" font-size="6.1" text-anchor="middle" fill="#2a2a2a">0.676</text>
<rect x="154.20" y="358.05" width="27.90" height="8.55" fill="#fa74aa" stroke="#333" stroke-width="0.7"/>
<text x="168.15" y="364.58" font-size="6.1" text-anchor="middle" fill="#2a2a2a">0.683</text>
<rect x="183.30" y="358.05" width="27.90" height="8.55" fill="#ffaecb" stroke="#333" stroke-width="0.7"/>
<text x="197.25" y="364.58" font-size="6.1" text-anchor="middle" fill="#2a2a2a">0.651</text>
<rect x="212.30" y="358.95" width="45.29" height="6.75" fill="#7ec4e4"/>
<text x="246.59" y="364.33" font-size="5.6" text-anchor="middle" fill="#eaf6fb">0.67</text>
<text x="123.20" y="373.78" font-size="7.2" text-anchor="end" fill="#262626">CoxBoost+Enet[alpha=0.8]</text>
<rect x="125.00" y="366.61" width="27.90" height="8.55" fill="#fc81b1" stroke="#333" stroke-width="0.7"/>
<text x="138.95" y="373.13" font-size="6.1" text-anchor="middle" fill="#2a2a2a">0.676</text>
<rect x="154.20" y="366.61" width="27.90" height="8.55" fill="#fa74aa" stroke="#333" stroke-width="0.7"/>
<text x="168.15" y="373.13" font-size="6.1" text-anchor="middle" fill="#2a2a2a">0.683</text>
<rect x="183.30" y="366.61" width="27.90" height="8.55" fill="#ffaecb" stroke="#333" stroke-width="0.7"/>
<text x="197.25" y="373.13" font-size="6.1" text-anchor="middle" fill="#2a2a2a">0.651</text>
<rect x="212.30" y="367.51" width="45.29" height="6.75" fill="#7ec4e4"/>
<text x="246.59" y="372.88" font-size="5.6" text-anchor="middle" fill="#eaf6fb">0.67</text>
<text x="123.20" y="382.34" font-size="7.2" text-anchor="end" fill="#262626">StepCox[backward]+Enet[alpha=0.9]</text>
<rect x="125.00" y="375.16" width="27.90" height="8.55" fill="#fa74aa" stroke="#333" stroke-width="0.7"/>
<text x="138.95" y="381.69" font-size="6.1" text-anchor="middle" fill="#2a2a2a">0.683</text>
<rect x="154.20" y="375.16" width="27.90" height="8.55" fill="#fc83b2" stroke="#333" stroke-width="0.7"/>
<text x="168.15" y="381.69" font-size="6.1" text-anchor="middle" fill="#2a2a2a">0.675</text>
<rect x="183.30" y="375.16" width="27.90" height="8.55" fill="#ffabc9" stroke="#333" stroke-width="0.7"/>
<text x="197.25" y="381.69" font-size="6.1" text-anchor="middle" fill="#2a2a2a">0.653</text>
<rect x="212.30" y="376.06" width="45.29" height="6.75" fill="#7ec4e4"/>
<text x="246.59" y="381.44" font-size="5.6" text-anchor="middle" fill="#eaf6fb">0.67</text>
<text x="123.20" y="390.89" font-size="7.2" text-anchor="end" fill="#262626">StepCox[both]+Enet[alpha=0.6]</text>
<rect x="125.00" y="383.71" width="27.90" height="8.55" fill="#fa74aa" stroke="#333" stroke-width="0.7"/>
<text x="138.95" y="390.24" font-size="6.1" text-anchor="middle" fill="#2a2a2a">0.683</text>
<rect x="154.20" y="383.71" width="27.90" height="8.55" fill="#fc83b2" stroke="#333" stroke-width="0.7"/>
<text x="168.15" y="390.24" font-size="6.1" text-anchor="middle" fill="#2a2a2a">0.675</text>
<rect x="183.30" y="383.71" width="27.90" height="8.55" fill="#ffabc9" stroke="#333" stroke-width="0.7"/>
<text x="197.25" y="390.24" font-size="6.1" text-anchor="middle" fill="#2a2a2a">0.653</text>
<rect x="212.30" y="384.61" width="45.29" height="6.75" fill="#7ec4e4"/>
<text x="246.59" y="389.99" font-size="5.6" text-anchor="middle" fill="#eaf6fb">0.67</text>
<text x="123.20" y="399.45" font-size="7.2" text-anchor="end" fill="#262626">StepCox[both]+Enet[alpha=0.2]</text>
<rect x="125.00" y="392.27" width="27.90" height="8.55" fill="#fa74aa" stroke="#333" stroke-width="0.7"/>
<text x="138.95" y="398.80" font-size="6.1" text-anchor="middle" fill="#2a2a2a">0.683</text>
<rect x="154.20" y="392.27" width="27.90" height="8.55" fill="#fc83b2" stroke="#333" stroke-width="0.7"/>
<text x="168.15" y="398.80" font-size="6.1" text-anchor="middle" fill="#2a2a2a">0.675</text>
<rect x="183.30" y="392.27" width="27.90" height="8.55" fill="#ffabc9" stroke="#333" stroke-width="0.7"/>
<text x="197.25" y="398.80" font-size="6.1" text-anchor="middle" fill="#2a2a2a">0.653</text>
<rect x="212.30" y="393.17" width="45.29" height="6.75" fill="#7ec4e4"/>
<text x="246.59" y="398.55" font-size="5.6" text-anchor="middle" fill="#eaf6fb">0.67</text>
<text x="123.20" y="408.00" font-size="7.2" text-anchor="end" fill="#262626">CoxBoost+Enet[alpha=0.3]</text>
<rect x="125.00" y="400.82" width="27.90" height="8.55" fill="#fc81b1" stroke="#333" stroke-width="0.7"/>
<text x="138.95" y="407.35" font-size="6.1" text-anchor="middle" fill="#2a2a2a">0.676</text>
<rect x="154.20" y="400.82" width="27.90" height="8.55" fill="#fa74aa" stroke="#333" stroke-width="0.7"/>
<text x="168.15" y="407.35" font-size="6.1" text-anchor="middle" fill="#2a2a2a">0.683</text>
<rect x="183.30" y="400.82" width="27.90" height="8.55" fill="#ffaecb" stroke="#333" stroke-width="0.7"/>
<text x="197.25" y="407.35" font-size="6.1" text-anchor="middle" fill="#2a2a2a">0.651</text>
<rect x="212.30" y="401.72" width="45.29" height="6.75" fill="#7ec4e4"/>
<text x="246.59" y="407.10" font-size="5.6" text-anchor="middle" fill="#eaf6fb">0.67</text>
<text x="123.20" y="416.55" font-size="7.2" text-anchor="end" fill="#262626">StepCox[both]+Enet[alpha=0.8]</text>
<rect x="125.00" y="409.38" width="27.90" height="8.55" fill="#fa74aa" stroke="#333" stroke-width="0.7"/>
<text x="138.95" y="415.90" font-size="6.1" text-anchor="middle" fill="#2a2a2a">0.683</text>
<rect x="154.20" y="409.38" width="27.90" height="8.55" fill="#fc83b2" stroke="#333" stroke-width="0.7"/>
<text x="168.15" y="415.90" font-size="6.1" text-anchor="middle" fill="#2a2a2a">0.675</text>
<rect x="183.30" y="409.38" width="27.90" height="8.55" fill="#ffabc9" stroke="#333" stroke-width="0.7"/>
<text x="197.25" y="415.90" font-size="6.1" text-anchor="middle" fill="#2a2a2a">0.653</text>
<rect x="212.30" y="410.28" width="45.29" height="6.75" fill="#7ec4e4"/>
<text x="246.59" y="415.65" font-size="5.6" text-anchor="middle" fill="#eaf6fb">0.67</text>
<text x="123.20" y="425.11" font-size="7.2" text-anchor="end" fill="#262626">CoxBoost+Enet[alpha=0.2]</text>
<rect x="125.00" y="417.93" width="27.90" height="8.55" fill="#fc81b1" stroke="#333" stroke-width="0.7"/>
<text x="138.95" y="424.46" font-size="6.1" text-anchor="middle" fill="#2a2a2a">0.676</text>
<rect x="154.20" y="417.93" width="27.90" height="8.55" fill="#fa74aa" stroke="#333" stroke-width="0.7"/>
<text x="168.15" y="424.46" font-size="6.1" text-anchor="middle" fill="#2a2a2a">0.683</text>
<rect x="183.30" y="417.93" width="27.90" height="8.55" fill="#ffaecb" stroke="#333" stroke-width="0.7"/>
<text x="197.25" y="424.46" font-size="6.1" text-anchor="middle" fill="#2a2a2a">0.651</text>
<rect x="212.30" y="418.83" width="45.29" height="6.75" fill="#7ec4e4"/>
<text x="246.59" y="424.21" font-size="5.6" text-anchor="middle" fill="#eaf6fb">0.67</text>
<text x="123.20" y="433.66" font-size="7.2" text-anchor="end" fill="#262626">CoxBoost+Enet[alpha=0.9]</text>
<rect x="125.00" y="426.49" width="27.90" height="8.55" fill="#fc81b1" stroke="#333" stroke-width="0.7"/>
<text x="138.95" y="433.01" font-size="6.1" text-anchor="middle" fill="#2a2a2a">0.676</text>
<rect x="154.20" y="426.49" width="27.90" height="8.55" fill="#fa74aa" stroke="#333" stroke-width="0.7"/>
<text x="168.15" y="433.01" font-size="6.1" text-anchor="middle" fill="#2a2a2a">0.683</text>
<rect x="183.30" y="426.49" width="27.90" height="8.55" fill="#ffaecb" stroke="#333" stroke-width="0.7"/>
<text x="197.25" y="433.01" font-size="6.1" text-anchor="middle" fill="#2a2a2a">0.651</text>
<rect x="212.30" y="427.39" width="45.29" height="6.75" fill="#7ec4e4"/>
<text x="246.59" y="432.76" font-size="5.6" text-anchor="middle" fill="#eaf6fb">0.67</text>
<text x="123.20" y="442.22" font-size="7.2" text-anchor="end" fill="#262626">CoxBoost+Enet[alpha=0.6]</text>
<rect x="125.00" y="435.04" width="27.90" height="8.55" fill="#fc81b1" stroke="#333" stroke-width="0.7"/>
<text x="138.95" y="441.57" font-size="6.1" text-anchor="middle" fill="#2a2a2a">0.676</text>
<rect x="154.20" y="435.04" width="27.90" height="8.55" fill="#fa74aa" stroke="#333" stroke-width="0.7"/>
<text x="168.15" y="441.57" font-size="6.1" text-anchor="middle" fill="#2a2a2a">0.683</text>
<rect x="183.30" y="435.04" width="27.90" height="8.55" fill="#ffaecb" stroke="#333" stroke-width="0.7"/>
<text x="197.25" y="441.57" font-size="6.1" text-anchor="middle" fill="#2a2a2a">0.651</text>
<rect x="212.30" y="435.94" width="45.29" height="6.75" fill="#7ec4e4"/>
<text x="246.59" y="441.32" font-size="5.6" text-anchor="middle" fill="#eaf6fb">0.67</text>
<text x="123.20" y="450.77" font-size="7.2" text-anchor="end" fill="#262626">CoxBoost+Enet[alpha=0.4]</text>
<rect x="125.00" y="443.59" width="27.90" height="8.55" fill="#fc81b1" stroke="#333" stroke-width="0.7"/>
<text x="138.95" y="450.12" font-size="6.1" text-anchor="middle" fill="#2a2a2a">0.676</text>
<rect x="154.20" y="443.59" width="27.90" height="8.55" fill="#fa74aa" stroke="#333" stroke-width="0.7"/>
<text x="168.15" y="450.12" font-size="6.1" text-anchor="middle" fill="#2a2a2a">0.683</text>
<rect x="183.30" y="443.59" width="27.90" height="8.55" fill="#ffaecb" stroke="#333" stroke-width="0.7"/>
<text x="197.25" y="450.12" font-size="6.1" text-anchor="middle" fill="#2a2a2a">0.651</text>
<rect x="212.30" y="444.49" width="45.29" height="6.75" fill="#7ec4e4"/>
<text x="246.59" y="449.87" font-size="5.6" text-anchor="middle" fill="#eaf6fb">0.67</text>
<text x="123.20" y="459.32" font-size="7.2" text-anchor="end" fill="#262626">CoxBoost+Enet[alpha=0.7]</text>
<rect x="125.00" y="452.15" width="27.90" height="8.55" fill="#fc81b1" stroke="#333" stroke-width="0.7"/>
<text x="138.95" y="458.67" font-size="6.1" text-anchor="middle" fill="#2a2a2a">0.676</text>
<rect x="154.20" y="452.15" width="27.90" height="8.55" fill="#fa74aa" stroke="#333" stroke-width="0.7"/>
<text x="168.15" y="458.67" font-size="6.1" text-anchor="middle" fill="#2a2a2a">0.683</text>
<rect x="183.30" y="452.15" width="27.90" height="8.55" fill="#ffb0cc" stroke="#333" stroke-width="0.7"/>
<text x="197.25" y="458.67" font-size="6.1" text-anchor="middle" fill="#2a2a2a">0.650</text>
<rect x="212.30" y="453.05" width="45.29" height="6.75" fill="#7ec4e4"/>
<text x="246.59" y="458.42" font-size="5.6" text-anchor="middle" fill="#eaf6fb">0.67</text>
<text x="123.20" y="467.88" font-size="7.2" text-anchor="end" fill="#262626">CoxBoost+Enet[alpha=0.5]</text>
<rect x="125.00" y="460.70" width="27.90" height="8.55" fill="#fc81b1" stroke="#333" stroke-width="0.7"/>
<text x="138.95" y="467.23" font-size="6.1" text-anchor="middle" fill="#2a2a2a">0.676</text>
<rect x="154.20" y="460.70" width="27.90" height="8.55" fill="#fa74aa" stroke="#333" stroke-width="0.7"/>
<text x="168.15" y="467.23" font-size="6.1" text-anchor="middle" fill="#2a2a2a">0.683</text>
<rect x="183.30" y="460.70" width="27.90" height="8.55" fill="#ffb0cc" stroke="#333" stroke-width="0.7"/>
<text x="197.25" y="467.23" font-size="6.1" text-anchor="middle" fill="#2a2a2a">0.650</text>
<rect x="212.30" y="461.60" width="45.29" height="6.75" fill="#7ec4e4"/>
<text x="246.59" y="466.98" font-size="5.6" text-anchor="middle" fill="#eaf6fb">0.67</text>
<text x="123.20" y="476.43" font-size="7.2" text-anchor="end" fill="#262626">StepCox[both]+Enet[alpha=0.7]</text>
<rect x="125.00" y="469.26" width="27.90" height="8.55" fill="#fa74aa" stroke="#333" stroke-width="0.7"/>
<text x="138.95" y="475.78" font-size="6.1" text-anchor="middle" fill="#2a2a2a">0.683</text>
<rect x="154.20" y="469.26" width="27.90" height="8.55" fill="#fc83b2" stroke="#333" stroke-width="0.7"/>
<text x="168.15" y="475.78" font-size="6.1" text-anchor="middle" fill="#2a2a2a">0.675</text>
<rect x="183.30" y="469.26" width="27.90" height="8.55" fill="#ffadca" stroke="#333" stroke-width="0.7"/>
<text x="197.25" y="475.78" font-size="6.1" text-anchor="middle" fill="#2a2a2a">0.652</text>
<rect x="212.30" y="470.16" width="45.29" height="6.75" fill="#7ec4e4"/>
<text x="246.59" y="475.53" font-size="5.6" text-anchor="middle" fill="#eaf6fb">0.67</text>
<text x="123.20" y="484.99" font-size="7.2" text-anchor="end" fill="#262626">StepCox[both]+Enet[alpha=0.5]</text>
<rect x="125.00" y="477.81" width="27.90" height="8.55" fill="#fa74aa" stroke="#333" stroke-width="0.7"/>
<text x="138.95" y="484.34" font-size="6.1" text-anchor="middle" fill="#2a2a2a">0.683</text>
<rect x="154.20" y="477.81" width="27.90" height="8.55" fill="#fc83b2" stroke="#333" stroke-width="0.7"/>
<text x="168.15" y="484.34" font-size="6.1" text-anchor="middle" fill="#2a2a2a">0.675</text>
<rect x="183.30" y="477.81" width="27.90" height="8.55" fill="#ffaecb" stroke="#333" stroke-width="0.7"/>
<text x="197.25" y="484.34" font-size="6.1" text-anchor="middle" fill="#2a2a2a">0.651</text>
<rect x="212.30" y="478.71" width="45.29" height="6.75" fill="#7ec4e4"/>
<text x="246.59" y="484.09" font-size="5.6" text-anchor="middle" fill="#eaf6fb">0.67</text>
<text x="123.20" y="493.54" font-size="7.2" text-anchor="end" fill="#262626">StepCox[both]+Enet[alpha=0.4]</text>
<rect x="125.00" y="486.36" width="27.90" height="8.55" fill="#fa74aa" stroke="#333" stroke-width="0.7"/>
<text x="138.95" y="492.89" font-size="6.1" text-anchor="middle" fill="#2a2a2a">0.683</text>
<rect x="154.20" y="486.36" width="27.90" height="8.55" fill="#fc83b2" stroke="#333" stroke-width="0.7"/>
<text x="168.15" y="492.89" font-size="6.1" text-anchor="middle" fill="#2a2a2a">0.675</text>
<rect x="183.30" y="486.36" width="27.90" height="8.55" fill="#ffb0cc" stroke="#333" stroke-width="0.7"/>
<text x="197.25" y="492.89" font-size="6.1" text-anchor="middle" fill="#2a2a2a">0.650</text>
<rect x="212.30" y="487.26" width="45.22" height="6.75" fill="#7ec4e4"/>
<text x="246.52" y="492.64" font-size="5.6" text-anchor="middle" fill="#eaf6fb">0.669</text>
<text x="123.20" y="502.09" font-size="7.2" text-anchor="end" fill="#262626">StepCox[backward]+Enet[alpha=0.4]</text>
<rect x="125.00" y="494.92" width="27.90" height="8.55" fill="#fa74aa" stroke="#333" stroke-width="0.7"/>
<text x="138.95" y="501.44" font-size="6.1" text-anchor="middle" fill="#2a2a2a">0.683</text>
<rect x="154.20" y="494.92" width="27.90" height="8.55" fill="#fc83b2" stroke="#333" stroke-width="0.7"/>
<text x="168.15" y="501.44" font-size="6.1" text-anchor="middle" fill="#2a2a2a">0.675</text>
<rect x="183.30" y="494.92" width="27.90" height="8.55" fill="#ffb0cc" stroke="#333" stroke-width="0.7"/>
<text x="197.25" y="501.44" font-size="6.1" text-anchor="middle" fill="#2a2a2a">0.650</text>
<rect x="212.30" y="495.82" width="45.22" height="6.75" fill="#7ec4e4"/>
<text x="246.52" y="501.19" font-size="5.6" text-anchor="middle" fill="#eaf6fb">0.669</text>
<text x="123.20" y="510.65" font-size="7.2" text-anchor="end" fill="#262626">CoxBoost+survivalSVM</text>
<rect x="125.00" y="503.47" width="27.90" height="8.55" fill="#fc81b1" stroke="#333" stroke-width="0.7"/>
<text x="138.95" y="510.00" font-size="6.1" text-anchor="middle" fill="#2a2a2a">0.676</text>
<rect x="154.20" y="503.47" width="27.90" height="8.55" fill="#fb76ab" stroke="#333" stroke-width="0.7"/>
<text x="168.15" y="510.00" font-size="6.1" text-anchor="middle" fill="#2a2a2a">0.682</text>
<rect x="183.30" y="503.47" width="27.90" height="8.55" fill="#ffb0cc" stroke="#333" stroke-width="0.7"/>
<text x="197.25" y="510.00" font-size="6.1" text-anchor="middle" fill="#2a2a2a">0.650</text>
<rect x="212.30" y="504.37" width="45.22" height="6.75" fill="#7ec4e4"/>
<text x="246.52" y="509.75" font-size="5.6" text-anchor="middle" fill="#eaf6fb">0.669</text>
<text x="123.20" y="519.20" font-size="7.2" text-anchor="end" fill="#262626">StepCox[backward]+Enet[alpha=0.8]</text>
<rect x="125.00" y="512.03" width="27.90" height="8.55" fill="#fa74aa" stroke="#333" stroke-width="0.7"/>
<text x="138.95" y="518.55" font-size="6.1" text-anchor="middle" fill="#2a2a2a">0.683</text>
<rect x="154.20" y="512.03" width="27.90" height="8.55" fill="#fc83b2" stroke="#333" stroke-width="0.7"/>
<text x="168.15" y="518.55" font-size="6.1" text-anchor="middle" fill="#2a2a2a">0.675</text>
<rect x="183.30" y="512.03" width="27.90" height="8.55" fill="#ffb0cc" stroke="#333" stroke-width="0.7"/>
<text x="197.25" y="518.55" font-size="6.1" text-anchor="middle" fill="#2a2a2a">0.650</text>
<rect x="212.30" y="512.93" width="45.22" height="6.75" fill="#7ec4e4"/>
<text x="246.52" y="518.30" font-size="5.6" text-anchor="middle" fill="#eaf6fb">0.669</text>
<text x="123.20" y="527.76" font-size="7.2" text-anchor="end" fill="#262626">Lasso+CoxBoost</text>
<rect x="125.00" y="520.58" width="27.90" height="8.55" fill="#fc81b1" stroke="#333" stroke-width="0.7"/>
<text x="138.95" y="527.11" font-size="6.1" text-anchor="middle" fill="#2a2a2a">0.676</text>
<rect x="154.20" y="520.58" width="27.90" height="8.55" fill="#fa74aa" stroke="#333" stroke-width="0.7"/>
<text x="168.15" y="527.11" font-size="6.1" text-anchor="middle" fill="#2a2a2a">0.683</text>
<rect x="183.30" y="520.58" width="27.90" height="8.55" fill="#ffb2cd" stroke="#333" stroke-width="0.7"/>
<text x="197.25" y="527.11" font-size="6.1" text-anchor="middle" fill="#2a2a2a">0.649</text>
<rect x="212.30" y="521.48" width="45.22" height="6.75" fill="#7ec4e4"/>
<text x="246.52" y="526.86" font-size="5.6" text-anchor="middle" fill="#eaf6fb">0.669</text>
<text x="123.20" y="536.31" font-size="7.2" text-anchor="end" fill="#262626">StepCox[backward]+Enet[alpha=0.1]</text>
<rect x="125.00" y="529.13" width="27.90" height="8.55" fill="#fa74aa" stroke="#333" stroke-width="0.7"/>
<text x="138.95" y="535.66" font-size="6.1" text-anchor="middle" fill="#2a2a2a">0.683</text>
<rect x="154.20" y="529.13" width="27.90" height="8.55" fill="#fc83b2" stroke="#333" stroke-width="0.7"/>
<text x="168.15" y="535.66" font-size="6.1" text-anchor="middle" fill="#2a2a2a">0.675</text>
<rect x="183.30" y="529.13" width="27.90" height="8.55" fill="#ffb2cd" stroke="#333" stroke-width="0.7"/>
<text x="197.25" y="535.66" font-size="6.1" text-anchor="middle" fill="#2a2a2a">0.649</text>
<rect x="212.30" y="530.03" width="45.22" height="6.75" fill="#7ec4e4"/>
<text x="246.52" y="535.41" font-size="5.6" text-anchor="middle" fill="#eaf6fb">0.669</text>
<text x="123.20" y="544.86" font-size="7.2" text-anchor="end" fill="#262626">Enet[alpha=0.4]</text>
<rect x="125.00" y="537.69" width="27.90" height="8.55" fill="#fc83b2" stroke="#333" stroke-width="0.7"/>
<text x="138.95" y="544.21" font-size="6.1" text-anchor="middle" fill="#2a2a2a">0.675</text>
<rect x="154.20" y="537.69" width="27.90" height="8.55" fill="#fa74aa" stroke="#333" stroke-width="0.7"/>
<text x="168.15" y="544.21" font-size="6.1" text-anchor="middle" fill="#2a2a2a">0.683</text>
<rect x="183.30" y="537.69" width="27.90" height="8.55" fill="#ffb2cd" stroke="#333" stroke-width="0.7"/>
<text x="197.25" y="544.21" font-size="6.1" text-anchor="middle" fill="#2a2a2a">0.649</text>
<rect x="212.30" y="538.59" width="45.22" height="6.75" fill="#7ec4e4"/>
<text x="246.52" y="543.96" font-size="5.6" text-anchor="middle" fill="#eaf6fb">0.669</text>
<text x="123.20" y="553.42" font-size="7.2" text-anchor="end" fill="#262626">Enet[alpha=0.6]</text>
<rect x="125.00" y="546.24" width="27.90" height="8.55" fill="#fc83b2" stroke="#333" stroke-width="0.7"/>
<text x="138.95" y="552.77" font-size="6.1" text-anchor="middle" fill="#2a2a2a">0.675</text>
<rect x="154.20" y="546.24" width="27.90" height="8.55" fill="#fb76ab" stroke="#333" stroke-width="0.7"/>
<text x="168.15" y="552.77" font-size="6.1" text-anchor="middle" fill="#2a2a2a">0.682</text>
<rect x="183.30" y="546.24" width="27.90" height="8.55" fill="#ffb2cd" stroke="#333" stroke-width="0.7"/>
<text x="197.25" y="552.77" font-size="6.1" text-anchor="middle" fill="#2a2a2a">0.649</text>
<rect x="212.30" y="547.14" width="45.22" height="6.75" fill="#7ec4e4"/>
<text x="246.52" y="552.52" font-size="5.6" text-anchor="middle" fill="#eaf6fb">0.669</text>
<text x="123.20" y="561.97" font-size="7.2" text-anchor="end" fill="#262626">StepCox[backward]+CoxBoost</text>
<rect x="125.00" y="554.80" width="27.90" height="8.55" fill="#fa74aa" stroke="#333" stroke-width="0.7"/>
<text x="138.95" y="561.32" font-size="6.1" text-anchor="middle" fill="#2a2a2a">0.683</text>
<rect x="154.20" y="554.80" width="27.90" height="8.55" fill="#fc83b2" stroke="#333" stroke-width="0.7"/>
<text x="168.15" y="561.32" font-size="6.1" text-anchor="middle" fill="#2a2a2a">0.675</text>
<rect x="183.30" y="554.80" width="27.90" height="8.55" fill="#ffb4ce" stroke="#333" stroke-width="0.7"/>
<text x="197.25" y="561.32" font-size="6.1" text-anchor="middle" fill="#2a2a2a">0.648</text>
<rect x="212.30" y="555.70" width="45.22" height="6.75" fill="#7ec4e4"/>
<text x="246.52" y="561.07" font-size="5.6" text-anchor="middle" fill="#eaf6fb">0.669</text>
<text x="123.20" y="570.53" font-size="7.2" text-anchor="end" fill="#262626">StepCox[backward]+Enet[alpha=0.2]</text>
<rect x="125.00" y="563.35" width="27.90" height="8.55" fill="#fa74aa" stroke="#333" stroke-width="0.7"/>
<text x="138.95" y="569.88" font-size="6.1" text-anchor="middle" fill="#2a2a2a">0.683</text>
<rect x="154.20" y="563.35" width="27.90" height="8.55" fill="#fc83b2" stroke="#333" stroke-width="0.7"/>
<text x="168.15" y="569.88" font-size="6.1" text-anchor="middle" fill="#2a2a2a">0.675</text>
<rect x="183.30" y="563.35" width="27.90" height="8.55" fill="#ffb4ce" stroke="#333" stroke-width="0.7"/>
<text x="197.25" y="569.88" font-size="6.1" text-anchor="middle" fill="#2a2a2a">0.648</text>
<rect x="212.30" y="564.25" width="45.22" height="6.75" fill="#7ec4e4"/>
<text x="246.52" y="569.63" font-size="5.6" text-anchor="middle" fill="#eaf6fb">0.669</text>
<text x="123.20" y="579.08" font-size="7.2" text-anchor="end" fill="#262626">StepCox[backward]+Enet[alpha=0.5]</text>
<rect x="125.00" y="571.90" width="27.90" height="8.55" fill="#fa74aa" stroke="#333" stroke-width="0.7"/>
<text x="138.95" y="578.43" font-size="6.1" text-anchor="middle" fill="#2a2a2a">0.683</text>
<rect x="154.20" y="571.90" width="27.90" height="8.55" fill="#fc83b2" stroke="#333" stroke-width="0.7"/>
<text x="168.15" y="578.43" font-size="6.1" text-anchor="middle" fill="#2a2a2a">0.675</text>
<rect x="183.30" y="571.90" width="27.90" height="8.55" fill="#ffb4ce" stroke="#333" stroke-width="0.7"/>
<text x="197.25" y="578.43" font-size="6.1" text-anchor="middle" fill="#2a2a2a">0.648</text>
<rect x="212.30" y="572.80" width="45.22" height="6.75" fill="#7ec4e4"/>
<text x="246.52" y="578.18" font-size="5.6" text-anchor="middle" fill="#eaf6fb">0.669</text>
<text x="123.20" y="587.63" font-size="7.2" text-anchor="end" fill="#262626">StepCox[backward]+Enet[alpha=0.7]</text>
<rect x="125.00" y="580.46" width="27.90" height="8.55" fill="#fa74aa" stroke="#333" stroke-width="0.7"/>
<text x="138.95" y="586.98" font-size="6.1" text-anchor="middle" fill="#2a2a2a">0.683</text>
<rect x="154.20" y="580.46" width="27.90" height="8.55" fill="#fc83b2" stroke="#333" stroke-width="0.7"/>
<text x="168.15" y="586.98" font-size="6.1" text-anchor="middle" fill="#2a2a2a">0.675</text>
<rect x="183.30" y="580.46" width="27.90" height="8.55" fill="#ffb4ce" stroke="#333" stroke-width="0.7"/>
<text x="197.25" y="586.98" font-size="6.1" text-anchor="middle" fill="#2a2a2a">0.648</text>
<rect x="212.30" y="581.36" width="45.22" height="6.75" fill="#7ec4e4"/>
<text x="246.52" y="586.73" font-size="5.6" text-anchor="middle" fill="#eaf6fb">0.669</text>
<text x="123.20" y="596.19" font-size="7.2" text-anchor="end" fill="#262626">StepCox[both]+Lasso</text>
<rect x="125.00" y="589.01" width="27.90" height="8.55" fill="#fa74aa" stroke="#333" stroke-width="0.7"/>
<text x="138.95" y="595.54" font-size="6.1" text-anchor="middle" fill="#2a2a2a">0.683</text>
<rect x="154.20" y="589.01" width="27.90" height="8.55" fill="#fc83b2" stroke="#333" stroke-width="0.7"/>
<text x="168.15" y="595.54" font-size="6.1" text-anchor="middle" fill="#2a2a2a">0.675</text>
<rect x="183.30" y="589.01" width="27.90" height="8.55" fill="#ffb4ce" stroke="#333" stroke-width="0.7"/>
<text x="197.25" y="595.54" font-size="6.1" text-anchor="middle" fill="#2a2a2a">0.648</text>
<rect x="212.30" y="589.91" width="45.22" height="6.75" fill="#7ec4e4"/>
<text x="246.52" y="595.29" font-size="5.6" text-anchor="middle" fill="#eaf6fb">0.669</text>
<text x="123.20" y="604.74" font-size="7.2" text-anchor="end" fill="#262626">StepCox[both]+CoxBoost</text>
<rect x="125.00" y="597.57" width="27.90" height="8.55" fill="#fb76ab" stroke="#333" stroke-width="0.7"/>
<text x="138.95" y="604.09" font-size="6.1" text-anchor="middle" fill="#2a2a2a">0.682</text>
<rect x="154.20" y="597.57" width="27.90" height="8.55" fill="#fc83b2" stroke="#333" stroke-width="0.7"/>
<text x="168.15" y="604.09" font-size="6.1" text-anchor="middle" fill="#2a2a2a">0.675</text>
<rect x="183.30" y="597.57" width="27.90" height="8.55" fill="#ffb4ce" stroke="#333" stroke-width="0.7"/>
<text x="197.25" y="604.09" font-size="6.1" text-anchor="middle" fill="#2a2a2a">0.648</text>
<rect x="212.30" y="598.47" width="45.16" height="6.75" fill="#7ec4e4"/>
<text x="246.46" y="603.84" font-size="5.6" text-anchor="middle" fill="#eaf6fb">0.668</text>
<text x="123.20" y="613.30" font-size="7.2" text-anchor="end" fill="#262626">StepCox[both]+Enet[alpha=0.3]</text>
<rect x="125.00" y="606.12" width="27.90" height="8.55" fill="#fa74aa" stroke="#333" stroke-width="0.7"/>
<text x="138.95" y="612.65" font-size="6.1" text-anchor="middle" fill="#2a2a2a">0.683</text>
<rect x="154.20" y="606.12" width="27.90" height="8.55" fill="#fd85b3" stroke="#333" stroke-width="0.7"/>
<text x="168.15" y="612.65" font-size="6.1" text-anchor="middle" fill="#2a2a2a">0.674</text>
<rect x="183.30" y="606.12" width="27.90" height="8.55" fill="#ffb4ce" stroke="#333" stroke-width="0.7"/>
<text x="197.25" y="612.65" font-size="6.1" text-anchor="middle" fill="#2a2a2a">0.648</text>
<rect x="212.30" y="607.02" width="45.16" height="6.75" fill="#7ec4e4"/>
<text x="246.46" y="612.40" font-size="5.6" text-anchor="middle" fill="#eaf6fb">0.668</text>
<text x="123.20" y="621.85" font-size="7.2" text-anchor="end" fill="#262626">StepCox[both]+Enet[alpha=0.1]</text>
<rect x="125.00" y="614.67" width="27.90" height="8.55" fill="#fa74aa" stroke="#333" stroke-width="0.7"/>
<text x="138.95" y="621.20" font-size="6.1" text-anchor="middle" fill="#2a2a2a">0.683</text>
<rect x="154.20" y="614.67" width="27.90" height="8.55" fill="#fd85b3" stroke="#333" stroke-width="0.7"/>
<text x="168.15" y="621.20" font-size="6.1" text-anchor="middle" fill="#2a2a2a">0.674</text>
<rect x="183.30" y="614.67" width="27.90" height="8.55" fill="#ffb5cf" stroke="#333" stroke-width="0.7"/>
<text x="197.25" y="621.20" font-size="6.1" text-anchor="middle" fill="#2a2a2a">0.647</text>
<rect x="212.30" y="615.57" width="45.16" height="6.75" fill="#7ec4e4"/>
<text x="246.46" y="620.95" font-size="5.6" text-anchor="middle" fill="#eaf6fb">0.668</text>
<text x="123.20" y="630.40" font-size="7.2" text-anchor="end" fill="#262626">StepCox[backward]+Lasso</text>
<rect x="125.00" y="623.23" width="27.90" height="8.55" fill="#fa74aa" stroke="#333" stroke-width="0.7"/>
<text x="138.95" y="629.75" font-size="6.1" text-anchor="middle" fill="#2a2a2a">0.683</text>
<rect x="154.20" y="623.23" width="27.90" height="8.55" fill="#fd85b3" stroke="#333" stroke-width="0.7"/>
<text x="168.15" y="629.75" font-size="6.1" text-anchor="middle" fill="#2a2a2a">0.674</text>
<rect x="183.30" y="623.23" width="27.90" height="8.55" fill="#ffb5cf" stroke="#333" stroke-width="0.7"/>
<text x="197.25" y="629.75" font-size="6.1" text-anchor="middle" fill="#2a2a2a">0.647</text>
<rect x="212.30" y="624.13" width="45.16" height="6.75" fill="#7ec4e4"/>
<text x="246.46" y="629.50" font-size="5.6" text-anchor="middle" fill="#eaf6fb">0.668</text>
<text x="123.20" y="638.96" font-size="7.2" text-anchor="end" fill="#262626">StepCox[backward]+Enet[alpha=0.6]</text>
<rect x="125.00" y="631.78" width="27.90" height="8.55" fill="#fa74aa" stroke="#333" stroke-width="0.7"/>
<text x="138.95" y="638.31" font-size="6.1" text-anchor="middle" fill="#2a2a2a">0.683</text>
<rect x="154.20" y="631.78" width="27.90" height="8.55" fill="#fd85b3" stroke="#333" stroke-width="0.7"/>
<text x="168.15" y="638.31" font-size="6.1" text-anchor="middle" fill="#2a2a2a">0.674</text>
<rect x="183.30" y="631.78" width="27.90" height="8.55" fill="#ffb5cf" stroke="#333" stroke-width="0.7"/>
<text x="197.25" y="638.31" font-size="6.1" text-anchor="middle" fill="#2a2a2a">0.647</text>
<rect x="212.30" y="632.68" width="45.16" height="6.75" fill="#7ec4e4"/>
<text x="246.46" y="638.06" font-size="5.6" text-anchor="middle" fill="#eaf6fb">0.668</text>
<text x="123.20" y="647.51" font-size="7.2" text-anchor="end" fill="#262626">StepCox[both]+Ridge</text>
<rect x="125.00" y="640.34" width="27.90" height="8.55" fill="#fb76ab" stroke="#333" stroke-width="0.7"/>
<text x="138.95" y="646.86" font-size="6.1" text-anchor="middle" fill="#2a2a2a">0.682</text>
<rect x="154.20" y="640.34" width="27.90" height="8.55" fill="#fd85b3" stroke="#333" stroke-width="0.7"/>
<text x="168.15" y="646.86" font-size="6.1" text-anchor="middle" fill="#2a2a2a">0.674</text>
<rect x="183.30" y="640.34" width="27.90" height="8.55" fill="#ffb5cf" stroke="#333" stroke-width="0.7"/>
<text x="197.25" y="646.86" font-size="6.1" text-anchor="middle" fill="#2a2a2a">0.647</text>
<rect x="212.30" y="641.24" width="45.16" height="6.75" fill="#7ec4e4"/>
<text x="246.46" y="646.61" font-size="5.6" text-anchor="middle" fill="#eaf6fb">0.668</text>
<text x="123.20" y="656.07" font-size="7.2" text-anchor="end" fill="#262626">StepCox[backward]+Ridge</text>
<rect x="125.00" y="648.89" width="27.90" height="8.55" fill="#fb76ab" stroke="#333" stroke-width="0.7"/>
<text x="138.95" y="655.42" font-size="6.1" text-anchor="middle" fill="#2a2a2a">0.682</text>
<rect x="154.20" y="648.89" width="27.90" height="8.55" fill="#fd85b3" stroke="#333" stroke-width="0.7"/>
<text x="168.15" y="655.42" font-size="6.1" text-anchor="middle" fill="#2a2a2a">0.674</text>
<rect x="183.30" y="648.89" width="27.90" height="8.55" fill="#ffb5cf" stroke="#333" stroke-width="0.7"/>
<text x="197.25" y="655.42" font-size="6.1" text-anchor="middle" fill="#2a2a2a">0.647</text>
<rect x="212.30" y="649.79" width="45.16" height="6.75" fill="#7ec4e4"/>
<text x="246.46" y="655.17" font-size="5.6" text-anchor="middle" fill="#eaf6fb">0.668</text>
<text x="123.20" y="664.62" font-size="7.2" text-anchor="end" fill="#262626">CoxBoost+GBM</text>
<rect x="125.00" y="657.44" width="27.90" height="8.55" fill="#fa70a8" stroke="#333" stroke-width="0.7"/>
<text x="138.95" y="663.97" font-size="6.1" text-anchor="middle" fill="#2a2a2a">0.685</text>
<rect x="154.20" y="657.44" width="27.90" height="8.55" fill="#ff9ec1" stroke="#333" stroke-width="0.7"/>
<text x="168.15" y="663.97" font-size="6.1" text-anchor="middle" fill="#2a2a2a">0.660</text>
<rect x="183.30" y="657.44" width="27.90" height="8.55" fill="#ffa5c6" stroke="#333" stroke-width="0.7"/>
<text x="197.25" y="663.97" font-size="6.1" text-anchor="middle" fill="#2a2a2a">0.656</text>
<rect x="212.30" y="658.34" width="45.09" height="6.75" fill="#7ec4e4"/>
<text x="246.39" y="663.72" font-size="5.6" text-anchor="middle" fill="#eaf6fb">0.667</text>
<text x="123.20" y="673.17" font-size="7.2" text-anchor="end" fill="#262626">StepCox[both]+survivalSVM</text>
<rect x="125.00" y="666.00" width="27.90" height="8.55" fill="#fd87b4" stroke="#333" stroke-width="0.7"/>
<text x="138.95" y="672.52" font-size="6.1" text-anchor="middle" fill="#2a2a2a">0.673</text>
<rect x="154.20" y="666.00" width="27.90" height="8.55" fill="#fe8cb7" stroke="#333" stroke-width="0.7"/>
<text x="168.15" y="672.52" font-size="6.1" text-anchor="middle" fill="#2a2a2a">0.670</text>
<rect x="183.30" y="666.00" width="27.90" height="8.55" fill="#ffc7db" stroke="#333" stroke-width="0.7"/>
<text x="197.25" y="672.52" font-size="6.1" text-anchor="middle" fill="#2a2a2a">0.637</text>
<rect x="212.30" y="666.90" width="44.62" height="6.75" fill="#7ec4e4"/>
<text x="245.92" y="672.27" font-size="5.6" text-anchor="middle" fill="#eaf6fb">0.66</text>
<text x="123.20" y="681.73" font-size="7.2" text-anchor="end" fill="#262626">StepCox[backward]+survivalSVM</text>
<rect x="125.00" y="674.55" width="27.90" height="8.55" fill="#fd87b4" stroke="#333" stroke-width="0.7"/>
<text x="138.95" y="681.08" font-size="6.1" text-anchor="middle" fill="#2a2a2a">0.673</text>
<rect x="154.20" y="674.55" width="27.90" height="8.55" fill="#fe8cb7" stroke="#333" stroke-width="0.7"/>
<text x="168.15" y="681.08" font-size="6.1" text-anchor="middle" fill="#2a2a2a">0.670</text>
<rect x="183.30" y="674.55" width="27.90" height="8.55" fill="#ffc7db" stroke="#333" stroke-width="0.7"/>
<text x="197.25" y="681.08" font-size="6.1" text-anchor="middle" fill="#2a2a2a">0.637</text>
<rect x="212.30" y="675.45" width="44.62" height="6.75" fill="#7ec4e4"/>
<text x="245.92" y="680.83" font-size="5.6" text-anchor="middle" fill="#eaf6fb">0.66</text>
<text x="123.20" y="690.28" font-size="7.2" text-anchor="end" fill="#262626">RSF</text>
<rect x="125.00" y="683.11" width="27.90" height="8.55" fill="#ee1389" stroke="#333" stroke-width="0.7"/>
<text x="138.95" y="689.63" font-size="6.1" text-anchor="middle" fill="#2a2a2a">0.717</text>
<rect x="154.20" y="683.11" width="27.90" height="8.55" fill="#ffc9dc" stroke="#333" stroke-width="0.7"/>
<text x="168.15" y="689.63" font-size="6.1" text-anchor="middle" fill="#2a2a2a">0.636</text>
<rect x="183.30" y="683.11" width="27.90" height="8.55" fill="#f1fbf9" stroke="#333" stroke-width="0.7"/>
<text x="197.25" y="689.63" font-size="6.1" text-anchor="middle" fill="#2a2a2a">0.599</text>
<rect x="212.30" y="684.01" width="43.94" height="6.75" fill="#7ec4e4"/>
<text x="245.24" y="689.38" font-size="5.6" text-anchor="middle" fill="#eaf6fb">0.65</text>
<text x="123.20" y="698.84" font-size="7.2" text-anchor="end" fill="#262626">Lasso+RSF</text>
<rect x="125.00" y="691.66" width="27.90" height="8.55" fill="#ee0a88" stroke="#333" stroke-width="0.7"/>
<text x="138.95" y="698.19" font-size="6.1" text-anchor="middle" fill="#2a2a2a">0.718</text>
<rect x="154.20" y="691.66" width="27.90" height="8.55" fill="#ffd8e5" stroke="#333" stroke-width="0.7"/>
<text x="168.15" y="698.19" font-size="6.1" text-anchor="middle" fill="#2a2a2a">0.628</text>
<rect x="183.30" y="691.66" width="27.90" height="8.55" fill="#f4fcfa" stroke="#333" stroke-width="0.7"/>
<text x="197.25" y="698.19" font-size="6.1" text-anchor="middle" fill="#2a2a2a">0.601</text>
<rect x="212.30" y="692.56" width="43.87" height="6.75" fill="#7ec4e4"/>
<text x="245.17" y="697.94" font-size="5.6" text-anchor="middle" fill="#eaf6fb">0.649</text>
<text x="123.20" y="707.39" font-size="7.2" text-anchor="end" fill="#262626">StepCox[both]+RSF</text>
<rect x="125.00" y="700.21" width="27.90" height="8.55" fill="#f23d92" stroke="#333" stroke-width="0.7"/>
<text x="138.95" y="706.74" font-size="6.1" text-anchor="middle" fill="#2a2a2a">0.707</text>
<rect x="154.20" y="700.21" width="27.90" height="8.55" fill="#ffcdde" stroke="#333" stroke-width="0.7"/>
<text x="168.15" y="706.74" font-size="6.1" text-anchor="middle" fill="#2a2a2a">0.634</text>
<rect x="183.30" y="700.21" width="27.90" height="8.55" fill="#e2f7f2" stroke="#333" stroke-width="0.7"/>
<text x="197.25" y="706.74" font-size="6.1" text-anchor="middle" fill="#2a2a2a">0.589</text>
<rect x="212.30" y="701.11" width="43.53" height="6.75" fill="#7ec4e4"/>
<text x="244.83" y="706.49" font-size="5.6" text-anchor="middle" fill="#eaf6fb">0.644</text>
<text x="123.20" y="715.94" font-size="7.2" text-anchor="end" fill="#262626">StepCox[backward]+RSF</text>
<rect x="125.00" y="708.77" width="27.90" height="8.55" fill="#f23d92" stroke="#333" stroke-width="0.7"/>
<text x="138.95" y="715.29" font-size="6.1" text-anchor="middle" fill="#2a2a2a">0.707</text>
<rect x="154.20" y="708.77" width="27.90" height="8.55" fill="#ffcedf" stroke="#333" stroke-width="0.7"/>
<text x="168.15" y="715.29" font-size="6.1" text-anchor="middle" fill="#2a2a2a">0.633</text>
<rect x="183.30" y="708.77" width="27.90" height="8.55" fill="#daf4ee" stroke="#333" stroke-width="0.7"/>
<text x="197.25" y="715.29" font-size="6.1" text-anchor="middle" fill="#2a2a2a">0.584</text>
<rect x="212.30" y="709.67" width="43.33" height="6.75" fill="#7ec4e4"/>
<text x="244.63" y="715.04" font-size="5.6" text-anchor="middle" fill="#eaf6fb">0.641</text>
<text x="123.20" y="724.50" font-size="7.2" text-anchor="end" fill="#262626">StepCox[both]+SuperPC</text>
<rect x="125.00" y="717.32" width="27.90" height="8.55" fill="#ffecf2" stroke="#333" stroke-width="0.7"/>
<text x="138.95" y="723.85" font-size="6.1" text-anchor="middle" fill="#2a2a2a">0.617</text>
<rect x="154.20" y="717.32" width="27.90" height="8.55" fill="#ffe6ef" stroke="#333" stroke-width="0.7"/>
<text x="168.15" y="723.85" font-size="6.1" text-anchor="middle" fill="#2a2a2a">0.620</text>
<rect x="183.30" y="717.32" width="27.90" height="8.55" fill="#f9fdfc" stroke="#333" stroke-width="0.7"/>
<text x="197.25" y="723.85" font-size="6.1" text-anchor="middle" fill="#2a2a2a">0.604</text>
<rect x="212.30" y="718.22" width="41.51" height="6.75" fill="#7ec4e4"/>
<text x="242.81" y="723.60" font-size="5.6" text-anchor="middle" fill="#eaf6fb">0.614</text>
<text x="123.20" y="733.05" font-size="7.2" text-anchor="end" fill="#262626">CoxBoost+RSF</text>
<rect x="125.00" y="725.88" width="27.90" height="8.55" fill="#f96aa5" stroke="#333" stroke-width="0.7"/>
<text x="138.95" y="732.40" font-size="6.1" text-anchor="middle" fill="#2a2a2a">0.688</text>
<rect x="154.20" y="725.88" width="27.90" height="8.55" fill="#66d5c1" stroke="#333" stroke-width="0.7"/>
<text x="168.15" y="732.40" font-size="6.1" text-anchor="middle" fill="#2a2a2a">0.518</text>
<rect x="183.30" y="725.88" width="27.90" height="8.55" fill="#e3f7f2" stroke="#333" stroke-width="0.7"/>
<text x="197.25" y="732.40" font-size="6.1" text-anchor="middle" fill="#2a2a2a">0.590</text>
<rect x="212.30" y="726.78" width="40.49" height="6.75" fill="#7ec4e4"/>
<text x="241.79" y="732.15" font-size="5.6" text-anchor="middle" fill="#eaf6fb">0.599</text>
<text x="123.20" y="741.61" font-size="7.2" text-anchor="end" fill="#262626">StepCox[backward]+SuperPC</text>
<rect x="125.00" y="734.43" width="27.90" height="8.55" fill="#c2ede4" stroke="#333" stroke-width="0.7"/>
<text x="138.95" y="740.96" font-size="6.1" text-anchor="middle" fill="#2a2a2a">0.569</text>
<rect x="154.20" y="734.43" width="27.90" height="8.55" fill="#d4f3eb" stroke="#333" stroke-width="0.7"/>
<text x="168.15" y="740.96" font-size="6.1" text-anchor="middle" fill="#2a2a2a">0.580</text>
<rect x="183.30" y="734.43" width="27.90" height="8.55" fill="#c2ede4" stroke="#333" stroke-width="0.7"/>
<text x="197.25" y="740.96" font-size="6.1" text-anchor="middle" fill="#2a2a2a">0.569</text>
<rect x="212.30" y="735.33" width="38.73" height="6.75" fill="#7ec4e4"/>
<text x="240.03" y="740.71" font-size="5.6" text-anchor="middle" fill="#eaf6fb">0.573</text>
<text x="123.20" y="750.16" font-size="7.2" text-anchor="end" fill="#262626">CoxBoost+SuperPC</text>
<rect x="125.00" y="742.98" width="27.90" height="8.55" fill="#81dbca" stroke="#333" stroke-width="0.7"/>
<text x="138.95" y="749.51" font-size="6.1" text-anchor="middle" fill="#2a2a2a">0.531</text>
<rect x="154.20" y="742.98" width="27.90" height="8.55" fill="#ccf0e8" stroke="#333" stroke-width="0.7"/>
<text x="168.15" y="749.51" font-size="6.1" text-anchor="middle" fill="#2a2a2a">0.575</text>
<rect x="183.30" y="742.98" width="27.90" height="8.55" fill="#2ccbb4" stroke="#333" stroke-width="0.7"/>
<text x="197.25" y="749.51" font-size="6.1" text-anchor="middle" fill="#2a2a2a">0.498</text>
<rect x="212.30" y="743.88" width="36.17" height="6.75" fill="#7ec4e4"/>
<text x="237.47" y="749.26" font-size="5.6" text-anchor="middle" fill="#eaf6fb">0.535</text>
<text x="123.20" y="758.71" font-size="7.2" text-anchor="end" fill="#262626">RSF+SuperPC</text>
<rect x="125.00" y="751.54" width="27.90" height="8.55" fill="#77d9c7" stroke="#333" stroke-width="0.7"/>
<text x="138.95" y="758.06" font-size="6.1" text-anchor="middle" fill="#2a2a2a">0.526</text>
<rect x="154.20" y="751.54" width="27.90" height="8.55" fill="#82dccb" stroke="#333" stroke-width="0.7"/>
<text x="168.15" y="758.06" font-size="6.1" text-anchor="middle" fill="#2a2a2a">0.532</text>
<rect x="183.30" y="751.54" width="27.90" height="8.55" fill="#9ce3d4" stroke="#333" stroke-width="0.7"/>
<text x="197.25" y="758.06" font-size="6.1" text-anchor="middle" fill="#2a2a2a">0.546</text>
<rect x="212.30" y="752.44" width="36.10" height="6.75" fill="#7ec4e4"/>
<text x="237.40" y="757.81" font-size="5.6" text-anchor="middle" fill="#eaf6fb">0.534</text>
<text x="123.20" y="767.27" font-size="7.2" text-anchor="end" fill="#262626">Lasso+SuperPC</text>
<rect x="125.00" y="760.09" width="27.90" height="8.55" fill="#75d9c6" stroke="#333" stroke-width="0.7"/>
<text x="138.95" y="766.62" font-size="6.1" text-anchor="middle" fill="#2a2a2a">0.525</text>
<rect x="154.20" y="760.09" width="27.90" height="8.55" fill="#79dac7" stroke="#333" stroke-width="0.7"/>
<text x="168.15" y="766.62" font-size="6.1" text-anchor="middle" fill="#2a2a2a">0.527</text>
<rect x="183.30" y="760.09" width="27.90" height="8.55" fill="#8fdfcf" stroke="#333" stroke-width="0.7"/>
<text x="197.25" y="766.62" font-size="6.1" text-anchor="middle" fill="#2a2a2a">0.539</text>
<rect x="212.30" y="760.99" width="35.83" height="6.75" fill="#7ec4e4"/>
<text x="237.13" y="766.37" font-size="5.6" text-anchor="middle" fill="#eaf6fb">0.53</text>
<text x="123.20" y="775.82" font-size="7.2" text-anchor="end" fill="#262626">SuperPC</text>
<rect x="125.00" y="768.65" width="27.90" height="8.55" fill="#71d8c5" stroke="#333" stroke-width="0.7"/>
<text x="138.95" y="775.17" font-size="6.1" text-anchor="middle" fill="#2a2a2a">0.523</text>
<rect x="154.20" y="768.65" width="27.90" height="8.55" fill="#7bdac8" stroke="#333" stroke-width="0.7"/>
<text x="168.15" y="775.17" font-size="6.1" text-anchor="middle" fill="#2a2a2a">0.528</text>
<rect x="183.30" y="768.65" width="27.90" height="8.55" fill="#91e0d0" stroke="#333" stroke-width="0.7"/>
<text x="197.25" y="775.17" font-size="6.1" text-anchor="middle" fill="#2a2a2a">0.540</text>
<rect x="212.30" y="769.55" width="35.83" height="6.75" fill="#7ec4e4"/>
<text x="237.13" y="774.92" font-size="5.6" text-anchor="middle" fill="#eaf6fb">0.53</text>
<line x1="212.30" y1="777.40" x2="263.70" y2="777.40" stroke="#444" stroke-width="0.6"/>
<line x1="212.30" y1="777.40" x2="212.30" y2="779.40" stroke="#444" stroke-width="0.6"/>
<text x="212.30" y="785.50" font-size="6" text-anchor="middle" fill="#333">0</text>
<line x1="225.82" y1="777.40" x2="225.82" y2="779.40" stroke="#444" stroke-width="0.6"/>
<text x="225.82" y="785.50" font-size="6" text-anchor="middle" fill="#333">0.2</text>
<line x1="239.34" y1="777.40" x2="239.34" y2="779.40" stroke="#444" stroke-width="0.6"/>
<text x="239.34" y="785.50" font-size="6" text-anchor="middle" fill="#333">0.4</text>
<line x1="252.86" y1="777.40" x2="252.86" y2="779.40" stroke="#444" stroke-width="0.6"/>
<text x="252.86" y="785.50" font-size="6" text-anchor="middle" fill="#333">0.6</text>
<text transform="translate(267.87,10.50) scale(0.850,1)" font-size="13.5" fill="#000" stroke="#000" stroke-width="0.15">B</text>
<rect x="291.00" y="7.40" width="92.40" height="78.00" fill="none" stroke="#6a6a6a" stroke-width="0.6"/>
<line x1="294.50" y1="85.40" x2="294.50" y2="87.40" stroke="#6a6a6a" stroke-width="0.5"/>
<text x="294.50" y="94.40" font-size="4.2" text-anchor="middle" fill="#222">0</text>
<line x1="311.55" y1="85.40" x2="311.55" y2="87.40" stroke="#6a6a6a" stroke-width="0.5"/>
<text x="311.55" y="94.40" font-size="4.2" text-anchor="middle" fill="#222">200</text>
<line x1="328.60" y1="85.40" x2="328.60" y2="87.40" stroke="#6a6a6a" stroke-width="0.5"/>
<text x="328.60" y="94.40" font-size="4.2" text-anchor="middle" fill="#222">400</text>
<line x1="345.65" y1="85.40" x2="345.65" y2="87.40" stroke="#6a6a6a" stroke-width="0.5"/>
<text x="345.65" y="94.40" font-size="4.2" text-anchor="middle" fill="#222">600</text>
<line x1="362.70" y1="85.40" x2="362.70" y2="87.40" stroke="#6a6a6a" stroke-width="0.5"/>
<text x="362.70" y="94.40" font-size="4.2" text-anchor="middle" fill="#222">800</text>
<line x1="379.75" y1="85.40" x2="379.75" y2="87.40" stroke="#6a6a6a" stroke-width="0.5"/>
<text x="379.75" y="94.40" font-size="4.2" text-anchor="middle" fill="#222">1000</text>
<line x1="291.00" y1="80.60" x2="289.00" y2="80.60" stroke="#6a6a6a" stroke-width="0.5"/>
<text x="285.60" y="80.60" font-size="4.2" text-anchor="middle" fill="#222" transform="rotate(-90 285.60 80.60)">0.37</text>
<line x1="291.00" y1="66.00" x2="289.00" y2="66.00" stroke="#6a6a6a" stroke-width="0.5"/>
<text x="285.60" y="66.00" font-size="4.2" text-anchor="middle" fill="#222" transform="rotate(-90 285.60 66.00)">0.38</text>
<line x1="291.00" y1="51.40" x2="289.00" y2="51.40" stroke="#6a6a6a" stroke-width="0.5"/>
<text x="285.60" y="51.40" font-size="4.2" text-anchor="middle" fill="#222" transform="rotate(-90 285.60 51.40)">0.39</text>
<line x1="291.00" y1="36.80" x2="289.00" y2="36.80" stroke="#6a6a6a" stroke-width="0.5"/>
<text x="285.60" y="36.80" font-size="4.2" text-anchor="middle" fill="#222" transform="rotate(-90 285.60 36.80)">0.40</text>
<line x1="291.00" y1="22.20" x2="289.00" y2="22.20" stroke="#6a6a6a" stroke-width="0.5"/>
<text x="285.60" y="22.20" font-size="4.2" text-anchor="middle" fill="#222" transform="rotate(-90 285.60 22.20)">0.41</text>
<text x="336.80" y="104.00" font-size="4.3" text-anchor="middle" fill="#111" textLength="30.50" lengthAdjust="spacingAndGlyphs">Number of Trees</text>
<text x="275.30" y="47.60" font-size="4.3" text-anchor="middle" fill="#111" textLength="18.00" lengthAdjust="spacingAndGlyphs" transform="rotate(-90 275.30 47.60)">Error rate</text>
<polyline points="294.53,9.88 294.75,16.92 294.86,24.50 295.29,42.92 295.83,59.17 296.38,67.84 296.92,74.34 297.46,80.84 298.00,79.76 298.54,74.34 299.63,73.26 300.71,72.71 301.79,76.51 302.88,77.59 303.96,74.34 305.04,76.51 306.13,79.21 307.21,79.76 308.29,79.76 309.38,80.84 310.46,82.14 312.09,81.92 313.71,81.38 315.34,82.14 316.96,80.84 318.59,79.54 320.21,79.97 321.84,79.76 323.46,79.54 325.09,80.30 326.71,80.84 328.34,80.30 330.50,80.84 332.67,81.38 334.84,80.84 337.00,81.38 339.17,81.38 341.34,80.84 344.59,80.62 347.45,80.65 357.16,80.06 366.88,80.06 372.71,80.65 376.60,81.62 380.09,81.23" fill="none" stroke="#111" stroke-width="1.35" stroke-linejoin="round"/>
<rect x="449.30" y="7.40" width="57.30" height="78.00" fill="none" stroke="#6a6a6a" stroke-width="0.6"/>
<line x1="451.40" y1="14.50" x2="505.00" y2="14.50" stroke="#3d9be9" stroke-width="1.2"/>
<text x="404.00" y="16.00" font-size="4.1" fill="#333">Chemotherapy</text>
<line x1="451.40" y1="21.50" x2="458.40" y2="21.50" stroke="#3d9be9" stroke-width="1.2"/>
<text x="404.00" y="23.00" font-size="4.1" fill="#333">T_Stage</text>
<line x1="451.40" y1="27.50" x2="458.00" y2="27.50" stroke="#3d9be9" stroke-width="1.2"/>
<text x="404.00" y="29.00" font-size="4.1" fill="#333">Lymph_Nodes_Surgery</text>
<line x1="451.40" y1="34.50" x2="457.00" y2="34.50" stroke="#3d9be9" stroke-width="1.2"/>
<text x="404.00" y="36.00" font-size="4.1" fill="#333">Liver_Metastasis</text>
<line x1="451.40" y1="40.50" x2="457.00" y2="40.50" stroke="#3d9be9" stroke-width="1.2"/>
<text x="404.00" y="42.00" font-size="4.1" fill="#333">Tumor_Size</text>
<line x1="451.40" y1="47.50" x2="455.70" y2="47.50" stroke="#3d9be9" stroke-width="1.2"/>
<text x="404.00" y="49.00" font-size="4.1" fill="#333">Bone_Metastasis</text>
<line x1="451.40" y1="53.50" x2="455.30" y2="53.50" stroke="#3d9be9" stroke-width="1.2"/>
<text x="404.00" y="55.00" font-size="4.1" fill="#333">Brain_Metastasis</text>
<line x1="451.40" y1="60.50" x2="454.70" y2="60.50" stroke="#3d9be9" stroke-width="1.2"/>
<text x="404.00" y="62.00" font-size="4.1" fill="#333">Surgery_Type</text>
<line x1="451.40" y1="66.50" x2="454.50" y2="66.50" stroke="#3d9be9" stroke-width="1.2"/>
<text x="404.00" y="68.00" font-size="4.1" fill="#333">N_Stage</text>
<line x1="451.40" y1="73.50" x2="454.50" y2="73.50" stroke="#3d9be9" stroke-width="1.2"/>
<text x="404.00" y="75.00" font-size="4.1" fill="#333">Histology</text>
<line x1="451.40" y1="79.50" x2="452.20" y2="79.50" stroke="#3d9be9" stroke-width="1.2"/>
<text x="404.00" y="81.00" font-size="4.1" fill="#333">Lung_Metastasis</text>
<line x1="457.08" y1="85.40" x2="457.08" y2="87.40" stroke="#6a6a6a" stroke-width="0.5"/>
<line x1="465.46" y1="85.40" x2="465.46" y2="87.40" stroke="#6a6a6a" stroke-width="0.5"/>
<line x1="473.84" y1="85.40" x2="473.84" y2="87.40" stroke="#6a6a6a" stroke-width="0.5"/>
<line x1="482.22" y1="85.40" x2="482.22" y2="87.40" stroke="#6a6a6a" stroke-width="0.5"/>
<line x1="490.60" y1="85.40" x2="490.60" y2="87.40" stroke="#6a6a6a" stroke-width="0.5"/>
<line x1="498.98" y1="85.40" x2="498.98" y2="87.40" stroke="#6a6a6a" stroke-width="0.5"/>
<text x="457.10" y="94.40" font-size="4.2" text-anchor="middle" fill="#333">0.02</text>
<text x="473.90" y="94.40" font-size="4.2" text-anchor="middle" fill="#333">0.06</text>
<text x="490.70" y="94.40" font-size="4.2" text-anchor="middle" fill="#333">0.10</text>
<text x="477.50" y="104.00" font-size="4.2" text-anchor="middle" fill="#222" textLength="36.90" lengthAdjust="spacingAndGlyphs">Variable Importance</text>
<text transform="translate(520.48,10.60) scale(0.872,1)" font-size="13.5" fill="#000" stroke="#000" stroke-width="0.15">C</text>
<rect x="561.90" y="9.40" width="91.30" height="85.90" fill="#ffffff" stroke="#c8c8c8" stroke-width="0.5"/>
<line x1="565.90" y1="9.40" x2="565.90" y2="95.30" stroke="#e2e2e2" stroke-width="0.35"/>
<line x1="575.25" y1="9.40" x2="575.25" y2="95.30" stroke="#ececec" stroke-width="0.35"/>
<line x1="584.60" y1="9.40" x2="584.60" y2="95.30" stroke="#e2e2e2" stroke-width="0.35"/>
<line x1="593.95" y1="9.40" x2="593.95" y2="95.30" stroke="#ececec" stroke-width="0.35"/>
<line x1="603.30" y1="9.40" x2="603.30" y2="95.30" stroke="#e2e2e2" stroke-width="0.35"/>
<line x1="612.65" y1="9.40" x2="612.65" y2="95.30" stroke="#ececec" stroke-width="0.35"/>
<line x1="622.00" y1="9.40" x2="622.00" y2="95.30" stroke="#e2e2e2" stroke-width="0.35"/>
<line x1="631.35" y1="9.40" x2="631.35" y2="95.30" stroke="#ececec" stroke-width="0.35"/>
<line x1="640.70" y1="9.40" x2="640.70" y2="95.30" stroke="#e2e2e2" stroke-width="0.35"/>
<line x1="561.90" y1="14.50" x2="653.20" y2="14.50" stroke="#e6e6e6" stroke-width="0.35"/>
<line x1="561.90" y1="21.80" x2="653.20" y2="21.80" stroke="#e6e6e6" stroke-width="0.35"/>
<line x1="561.90" y1="29.40" x2="653.20" y2="29.40" stroke="#e6e6e6" stroke-width="0.35"/>
<line x1="561.90" y1="37.40" x2="653.20" y2="37.40" stroke="#e6e6e6" stroke-width="0.35"/>
<line x1="561.90" y1="45.20" x2="653.20" y2="45.20" stroke="#e6e6e6" stroke-width="0.35"/>
<line x1="561.90" y1="53.00" x2="653.20" y2="53.00" stroke="#e6e6e6" stroke-width="0.35"/>
<line x1="561.90" y1="60.60" x2="653.20" y2="60.60" stroke="#e6e6e6" stroke-width="0.35"/>
<line x1="561.90" y1="68.20" x2="653.20" y2="68.20" stroke="#e6e6e6" stroke-width="0.35"/>
<line x1="561.90" y1="76.20" x2="653.20" y2="76.20" stroke="#e6e6e6" stroke-width="0.35"/>
<line x1="561.90" y1="84.00" x2="653.20" y2="84.00" stroke="#e6e6e6" stroke-width="0.35"/>
<line x1="561.90" y1="91.30" x2="653.20" y2="91.30" stroke="#e6e6e6" stroke-width="0.35"/>
<rect x="565.90" y="11.40" width="84.40" height="6.20" fill="#fde725"/>
<text x="559.50" y="15.40" font-size="2.6" text-anchor="end" fill="#444">Chemotherapy</text>
<rect x="565.90" y="18.70" width="30.90" height="6.20" fill="#306a8d"/>
<text x="559.50" y="22.70" font-size="2.6" text-anchor="end" fill="#444">Tumor_Size</text>
<rect x="565.90" y="26.30" width="13.80" height="6.20" fill="#462f7b"/>
<text x="559.50" y="30.30" font-size="2.6" text-anchor="end" fill="#444">T_Stage</text>
<rect x="565.90" y="34.30" width="13.10" height="6.20" fill="#462c7a"/>
<text x="559.50" y="38.30" font-size="2.6" text-anchor="end" fill="#444">Bone_Metastasis</text>
<rect x="565.90" y="42.10" width="11.60" height="6.20" fill="#472776"/>
<text x="559.50" y="46.10" font-size="2.6" text-anchor="end" fill="#444">Histology</text>
<rect x="565.90" y="49.90" width="8.90" height="6.20" fill="#471b6d"/>
<text x="559.50" y="53.90" font-size="2.6" text-anchor="end" fill="#444">Liver_Metastasis</text>
<rect x="565.90" y="57.50" width="7.10" height="6.20" fill="#461365"/>
<text x="559.50" y="61.50" font-size="2.6" text-anchor="end" fill="#444">Surgery_Type</text>
<rect x="565.90" y="65.10" width="5.30" height="6.20" fill="#450c5e"/>
<text x="559.50" y="69.10" font-size="2.6" text-anchor="end" fill="#444">N_Stage</text>
<rect x="565.90" y="73.10" width="5.30" height="6.20" fill="#450c5e"/>
<text x="559.50" y="77.10" font-size="2.6" text-anchor="end" fill="#444">Lymph_Nodes_Surgery</text>
<rect x="565.90" y="80.90" width="4.40" height="6.20" fill="#45085a"/>
<text x="559.50" y="84.90" font-size="2.6" text-anchor="end" fill="#444">Lung_Metastasis</text>
<rect x="565.90" y="88.20" width="2.70" height="6.20" fill="#440154"/>
<text x="559.50" y="92.20" font-size="2.6" text-anchor="end" fill="#444">Brain_Metastasis</text>
<line x1="565.90" y1="95.30" x2="565.90" y2="96.30" stroke="#333" stroke-width="0.3"/>
<text x="565.90" y="98.80" font-size="2.8" text-anchor="middle" fill="#444">0</text>
<line x1="584.60" y1="95.30" x2="584.60" y2="96.30" stroke="#333" stroke-width="0.3"/>
<text x="584.60" y="98.80" font-size="2.8" text-anchor="middle" fill="#444">10</text>
<line x1="603.30" y1="95.30" x2="603.30" y2="96.30" stroke="#333" stroke-width="0.3"/>
<text x="603.30" y="98.80" font-size="2.8" text-anchor="middle" fill="#444">20</text>
<line x1="622.00" y1="95.30" x2="622.00" y2="96.30" stroke="#333" stroke-width="0.3"/>
<text x="622.00" y="98.80" font-size="2.8" text-anchor="middle" fill="#444">30</text>
<line x1="640.70" y1="95.30" x2="640.70" y2="96.30" stroke="#333" stroke-width="0.3"/>
<text x="640.70" y="98.80" font-size="2.8" text-anchor="middle" fill="#444">40</text>
<text x="605.00" y="103.40" font-size="3.6" text-anchor="middle" fill="#111" textLength="19.50" lengthAdjust="spacingAndGlyphs">Relative influence</text>
<text x="531.60" y="52.30" font-size="3.6" text-anchor="middle" fill="#111" transform="rotate(-90 531.60 52.30)">Features</text>
<text x="561.20" y="6.70" font-size="3.9" fill="#111" textLength="67.70" lengthAdjust="spacingAndGlyphs">Variable Importance in Elastic Net Model</text>
<defs><linearGradient id="vg" x1="0" y1="1" x2="0" y2="0"><stop offset="0" stop-color="#440154"/><stop offset="0.25" stop-color="#3b528b"/><stop offset="0.5" stop-color="#21908c"/><stop offset="0.75" stop-color="#5dc963"/><stop offset="1" stop-color="#fde725"/></linearGradient></defs>
<text x="658.50" y="40.40" font-size="3.2" fill="#111">value</text>
<rect x="658.60" y="42.30" width="5.00" height="30.70" fill="url(#vg)"/>
<text x="664.80" y="46.40" font-size="2.7" fill="#444">40</text>
<text x="664.80" y="53.50" font-size="2.7" fill="#444">30</text>
<text x="664.80" y="60.60" font-size="2.7" fill="#444">20</text>
<text x="664.80" y="67.70" font-size="2.7" fill="#444">10</text>
<text x="331.00" y="127.50" font-size="13" fill="#000" textLength="27.00" lengthAdjust="spacingAndGlyphs" stroke="#000" stroke-width="0.32">train</text>
<text x="466.50" y="127.50" font-size="13" fill="#000" textLength="21.40" lengthAdjust="spacingAndGlyphs" stroke="#000" stroke-width="0.32">test</text>
<text x="571.90" y="127.50" font-size="13" fill="#000" textLength="71.70" lengthAdjust="spacingAndGlyphs" stroke="#000" stroke-width="0.32">external test</text>
<text transform="translate(273.61,132.10) scale(0.988,1)" font-size="13.5" fill="#000" stroke="#000" stroke-width="0.15">D</text>
<text x="331.00" y="270.30" font-size="13" fill="#000" textLength="27.00" lengthAdjust="spacingAndGlyphs" stroke="#000" stroke-width="0.32">train</text>
<text x="466.50" y="270.30" font-size="13" fill="#000" textLength="21.40" lengthAdjust="spacingAndGlyphs" stroke="#000" stroke-width="0.32">test</text>
<text x="571.90" y="270.30" font-size="13" fill="#000" textLength="71.70" lengthAdjust="spacingAndGlyphs" stroke="#000" stroke-width="0.32">external test</text>
<text transform="translate(273.50,276.00) scale(1.000,1)" font-size="13.5" fill="#000" stroke="#000" stroke-width="0.15">E</text>
<text x="331.00" y="409.50" font-size="13" fill="#000" textLength="27.00" lengthAdjust="spacingAndGlyphs" stroke="#000" stroke-width="0.32">train</text>
<text x="466.50" y="409.50" font-size="13" fill="#000" textLength="21.40" lengthAdjust="spacingAndGlyphs" stroke="#000" stroke-width="0.32">test</text>
<text x="571.90" y="409.50" font-size="13" fill="#000" textLength="71.70" lengthAdjust="spacingAndGlyphs" stroke="#000" stroke-width="0.32">external test</text>
<text transform="translate(274.70,412.90) scale(0.909,1)" font-size="13.5" fill="#000" stroke="#000" stroke-width="0.15">F</text>
<text x="331.00" y="540.30" font-size="13" fill="#000" textLength="27.00" lengthAdjust="spacingAndGlyphs" stroke="#000" stroke-width="0.32">train</text>
<text x="466.50" y="540.30" font-size="13" fill="#000" textLength="21.40" lengthAdjust="spacingAndGlyphs" stroke="#000" stroke-width="0.32">test</text>
<text x="571.90" y="540.30" font-size="13" fill="#000" textLength="71.70" lengthAdjust="spacingAndGlyphs" stroke="#000" stroke-width="0.32">external test</text>
<text transform="translate(273.37,544.10) scale(0.880,1)" font-size="13.5" fill="#000" stroke="#000" stroke-width="0.15">G</text>
<text x="331.00" y="679.90" font-size="13" fill="#000" textLength="27.00" lengthAdjust="spacingAndGlyphs" stroke="#000" stroke-width="0.32">train</text>
<text x="466.50" y="679.90" font-size="13" fill="#000" textLength="21.40" lengthAdjust="spacingAndGlyphs" stroke="#000" stroke-width="0.32">test</text>
<text x="571.90" y="679.90" font-size="13" fill="#000" textLength="71.70" lengthAdjust="spacingAndGlyphs" stroke="#000" stroke-width="0.32">external test</text>
<text transform="translate(273.47,678.70) scale(1.026,1)" font-size="13.5" fill="#000" stroke="#000" stroke-width="0.15">H</text>
<rect x="299.90" y="141.00" width="103.50" height="71.40" fill="#ffffff" stroke="#a8a8a8" stroke-width="0.45"/>
<line x1="304.30" y1="141.00" x2="304.30" y2="212.40" stroke="#ebebeb" stroke-width="0.4"/>
<line x1="316.00" y1="141.00" x2="316.00" y2="212.40" stroke="#f4f4f4" stroke-width="0.3"/>
<line x1="327.70" y1="141.00" x2="327.70" y2="212.40" stroke="#ebebeb" stroke-width="0.4"/>
<line x1="339.35" y1="141.00" x2="339.35" y2="212.40" stroke="#f4f4f4" stroke-width="0.3"/>
<line x1="351.00" y1="141.00" x2="351.00" y2="212.40" stroke="#ebebeb" stroke-width="0.4"/>
<line x1="362.65" y1="141.00" x2="362.65" y2="212.40" stroke="#f4f4f4" stroke-width="0.3"/>
<line x1="374.30" y1="141.00" x2="374.30" y2="212.40" stroke="#ebebeb" stroke-width="0.4"/>
<line x1="386.15" y1="141.00" x2="386.15" y2="212.40" stroke="#f4f4f4" stroke-width="0.3"/>
<line x1="398.00" y1="141.00" x2="398.00" y2="212.40" stroke="#ebebeb" stroke-width="0.4"/>
<line x1="299.90" y1="144.20" x2="403.40" y2="144.20" stroke="#ebebeb" stroke-width="0.4"/>
<line x1="299.90" y1="152.25" x2="403.40" y2="152.25" stroke="#f4f4f4" stroke-width="0.3"/>
<line x1="299.90" y1="160.30" x2="403.40" y2="160.30" stroke="#ebebeb" stroke-width="0.4"/>
<line x1="299.90" y1="168.55" x2="403.40" y2="168.55" stroke="#f4f4f4" stroke-width="0.3"/>
<line x1="299.90" y1="176.80" x2="403.40" y2="176.80" stroke="#ebebeb" stroke-width="0.4"/>
<line x1="299.90" y1="184.90" x2="403.40" y2="184.90" stroke="#f4f4f4" stroke-width="0.3"/>
<line x1="299.90" y1="193.00" x2="403.40" y2="193.00" stroke="#ebebeb" stroke-width="0.4"/>
<line x1="299.90" y1="201.05" x2="403.40" y2="201.05" stroke="#f4f4f4" stroke-width="0.3"/>
<line x1="299.90" y1="209.10" x2="403.40" y2="209.10" stroke="#ebebeb" stroke-width="0.4"/>
<polygon points="374.30,203.39 395.83,203.39 395.83,209.49 374.30,209.49" fill="#dcf6f4" stroke="none"/>
<polyline points="305.78,176.84 305.78,209.13" fill="none" stroke="#222" stroke-width="0.45" stroke-linejoin="round" stroke-dasharray="0.9,0.9"/>
<polyline points="309.37,176.84 309.37,209.13" fill="none" stroke="#222" stroke-width="0.45" stroke-linejoin="round" stroke-dasharray="0.9,0.9"/>
<polyline points="304.35,176.84 309.37,176.84" fill="none" stroke="#222" stroke-width="0.45" stroke-linejoin="round" stroke-dasharray="0.9,0.9"/>
<polyline points="304.49,144.30 305.64,149.55 307.07,159.09 308.02,166.73 309.46,176.28 311.37,184.87 314.23,193.46 318.05,198.23 322.82,200.62 329.50,202.05 338.00,203.48 343.81,204.11 352.78,205.18 361.75,205.54 368.92,205.90 374.30,206.44 379.69,206.98 386.86,207.34 395.83,207.34" fill="none" stroke="#3fd6d0" stroke-width="0.85" stroke-linejoin="round"/>
<polyline points="304.49,144.30 304.68,154.32 304.87,164.82 305.64,170.55 306.59,178.19 307.55,185.82 308.98,195.37 310.41,202.05 313.27,205.87 316.14,207.30 322.82,207.78 323.78,208.26 338.00,208.26 343.81,208.77 361.75,208.77 380.58,208.77" fill="none" stroke="#f0389c" stroke-width="0.85" stroke-linejoin="round"/>
<text x="299.30" y="139.00" font-size="3.9" fill="#000" textLength="22.00" lengthAdjust="spacingAndGlyphs">Overall survival</text>
<line x1="299.00" y1="209.10" x2="299.90" y2="209.10" stroke="#333" stroke-width="0.35"/>
<text x="298.70" y="210.10" font-size="2.9" text-anchor="end" fill="#333">0.00</text>
<line x1="299.00" y1="193.00" x2="299.90" y2="193.00" stroke="#333" stroke-width="0.35"/>
<text x="298.70" y="194.00" font-size="2.9" text-anchor="end" fill="#333">0.25</text>
<line x1="299.00" y1="176.80" x2="299.90" y2="176.80" stroke="#333" stroke-width="0.35"/>
<text x="298.70" y="177.80" font-size="2.9" text-anchor="end" fill="#333">0.50</text>
<line x1="299.00" y1="160.30" x2="299.90" y2="160.30" stroke="#333" stroke-width="0.35"/>
<text x="298.70" y="161.30" font-size="2.9" text-anchor="end" fill="#333">0.75</text>
<line x1="299.00" y1="144.20" x2="299.90" y2="144.20" stroke="#333" stroke-width="0.35"/>
<text x="298.70" y="145.20" font-size="2.9" text-anchor="end" fill="#333">1.00</text>
<line x1="304.30" y1="212.40" x2="304.30" y2="213.30" stroke="#333" stroke-width="0.35"/>
<text x="304.30" y="215.80" font-size="2.9" text-anchor="middle" fill="#333">0</text>
<line x1="327.70" y1="212.40" x2="327.70" y2="213.30" stroke="#333" stroke-width="0.35"/>
<text x="327.70" y="215.80" font-size="2.9" text-anchor="middle" fill="#333">50</text>
<line x1="351.00" y1="212.40" x2="351.00" y2="213.30" stroke="#333" stroke-width="0.35"/>
<text x="351.00" y="215.80" font-size="2.9" text-anchor="middle" fill="#333">100</text>
<line x1="374.30" y1="212.40" x2="374.30" y2="213.30" stroke="#333" stroke-width="0.35"/>
<text x="374.30" y="215.80" font-size="2.9" text-anchor="middle" fill="#333">150</text>
<line x1="398.00" y1="212.40" x2="398.00" y2="213.30" stroke="#333" stroke-width="0.35"/>
<text x="398.00" y="215.80" font-size="2.9" text-anchor="middle" fill="#333">200</text>
<text x="353.65" y="218.70" font-size="3.1" text-anchor="middle" fill="#111" textLength="17.00" lengthAdjust="spacingAndGlyphs">Time (Months)</text>
<text x="292.30" y="178.20" font-size="3.1" text-anchor="middle" fill="#111" textLength="39.70" lengthAdjust="spacingAndGlyphs" transform="rotate(-90 292.30 178.20)">Cumulative survival (percentage)</text>
<text x="305.60" y="198.20" font-size="4.0" fill="#111" textLength="16.50" lengthAdjust="spacingAndGlyphs">p &lt; 0.0001</text>
<text x="375.20" y="151.00" font-size="2.9" fill="#111" textLength="12.50" lengthAdjust="spacingAndGlyphs">Risk Group</text>
<line x1="375.70" y1="155.20" x2="379.30" y2="155.20" stroke="#3fd6d0" stroke-width="0.9"/>
<text x="381.00" y="156.10" font-size="2.4" fill="#222" textLength="7.00" lengthAdjust="spacingAndGlyphs">low risk</text>
<line x1="375.70" y1="159.40" x2="379.30" y2="159.40" stroke="#f0389c" stroke-width="0.9"/>
<text x="381.00" y="160.30" font-size="2.4" fill="#222" textLength="7.60" lengthAdjust="spacingAndGlyphs">high risk</text>
<text x="303.00" y="224.40" font-size="3.6" fill="#000" textLength="21.20" lengthAdjust="spacingAndGlyphs">Number at risk</text>
<rect x="302.80" y="226.40" width="100.90" height="13.10" fill="#ffffff" stroke="#a8a8a8" stroke-width="0.45"/>
<line x1="319.10" y1="226.40" x2="319.10" y2="239.50" stroke="#e8e8e8" stroke-width="0.3"/>
<line x1="341.70" y1="226.40" x2="341.70" y2="239.50" stroke="#e8e8e8" stroke-width="0.3"/>
<line x1="364.50" y1="226.40" x2="364.50" y2="239.50" stroke="#e8e8e8" stroke-width="0.3"/>
<line x1="387.30" y1="226.40" x2="387.30" y2="239.50" stroke="#e8e8e8" stroke-width="0.3"/>
<line x1="409.90" y1="226.40" x2="409.90" y2="239.50" stroke="#e8e8e8" stroke-width="0.3"/>
<text x="307.80" y="231.00" font-size="3.6" text-anchor="middle" fill="#111">250</text>
<text x="307.80" y="237.20" font-size="3.6" text-anchor="middle" fill="#111">250</text>
<text x="330.40" y="231.00" font-size="3.6" text-anchor="middle" fill="#111">33</text>
<text x="330.40" y="237.20" font-size="3.6" text-anchor="middle" fill="#111">4</text>
<text x="353.20" y="231.00" font-size="3.6" text-anchor="middle" fill="#111">6</text>
<text x="353.20" y="237.20" font-size="3.6" text-anchor="middle" fill="#111">1</text>
<text x="376.00" y="231.00" font-size="3.6" text-anchor="middle" fill="#111">2</text>
<text x="376.00" y="237.20" font-size="3.6" text-anchor="middle" fill="#111">1</text>
<text x="398.60" y="231.00" font-size="3.6" text-anchor="middle" fill="#111">0</text>
<text x="398.60" y="237.20" font-size="3.6" text-anchor="middle" fill="#111">0</text>
<text x="301.30" y="230.60" font-size="2.4" text-anchor="end" fill="#3fd6d0" textLength="7.00" lengthAdjust="spacingAndGlyphs">low risk</text>
<text x="301.30" y="236.80" font-size="2.4" text-anchor="end" fill="#f0389c" textLength="7.60" lengthAdjust="spacingAndGlyphs">high risk</text>
<rect x="429.30" y="141.00" width="104.20" height="71.20" fill="#ffffff" stroke="#a8a8a8" stroke-width="0.45"/>
<line x1="434.00" y1="141.00" x2="434.00" y2="212.20" stroke="#ebebeb" stroke-width="0.4"/>
<line x1="445.75" y1="141.00" x2="445.75" y2="212.20" stroke="#f4f4f4" stroke-width="0.3"/>
<line x1="457.50" y1="141.00" x2="457.50" y2="212.20" stroke="#ebebeb" stroke-width="0.4"/>
<line x1="469.25" y1="141.00" x2="469.25" y2="212.20" stroke="#f4f4f4" stroke-width="0.3"/>
<line x1="481.00" y1="141.00" x2="481.00" y2="212.20" stroke="#ebebeb" stroke-width="0.4"/>
<line x1="492.80" y1="141.00" x2="492.80" y2="212.20" stroke="#f4f4f4" stroke-width="0.3"/>
<line x1="504.60" y1="141.00" x2="504.60" y2="212.20" stroke="#ebebeb" stroke-width="0.4"/>
<line x1="516.65" y1="141.00" x2="516.65" y2="212.20" stroke="#f4f4f4" stroke-width="0.3"/>
<line x1="528.70" y1="141.00" x2="528.70" y2="212.20" stroke="#ebebeb" stroke-width="0.4"/>
<line x1="429.30" y1="144.20" x2="533.50" y2="144.20" stroke="#ebebeb" stroke-width="0.4"/>
<line x1="429.30" y1="152.30" x2="533.50" y2="152.30" stroke="#f4f4f4" stroke-width="0.3"/>
<line x1="429.30" y1="160.40" x2="533.50" y2="160.40" stroke="#ebebeb" stroke-width="0.4"/>
<line x1="429.30" y1="168.60" x2="533.50" y2="168.60" stroke="#f4f4f4" stroke-width="0.3"/>
<line x1="429.30" y1="176.80" x2="533.50" y2="176.80" stroke="#ebebeb" stroke-width="0.4"/>
<line x1="429.30" y1="184.90" x2="533.50" y2="184.90" stroke="#f4f4f4" stroke-width="0.3"/>
<line x1="429.30" y1="193.00" x2="533.50" y2="193.00" stroke="#ebebeb" stroke-width="0.4"/>
<line x1="429.30" y1="201.10" x2="533.50" y2="201.10" stroke="#f4f4f4" stroke-width="0.3"/>
<line x1="429.30" y1="209.20" x2="533.50" y2="209.20" stroke="#ebebeb" stroke-width="0.4"/>
<polyline points="436.35,176.75 436.35,209.85" fill="none" stroke="#222" stroke-width="0.45" stroke-linejoin="round" stroke-dasharray="0.9,0.9"/>
<polyline points="440.73,176.75 440.73,209.85" fill="none" stroke="#222" stroke-width="0.45" stroke-linejoin="round" stroke-dasharray="0.9,0.9"/>
<polyline points="434.11,176.75 440.73,176.75" fill="none" stroke="#222" stroke-width="0.45" stroke-linejoin="round" stroke-dasharray="0.9,0.9"/>
<polyline points="434.62,144.16 436.15,150.27 437.67,158.42 439.20,166.57 440.73,175.73 442.26,182.86 444.29,188.97 447.35,194.06 451.42,198.14 456.51,201.19 463.64,202.21 478.00,203.74 504.60,206.23 533.05,207.91" fill="none" stroke="#3fd6d0" stroke-width="0.85" stroke-linejoin="round"/>
<polyline points="434.62,144.16 434.92,155.37 435.33,165.55 435.94,172.68 436.66,180.82 437.67,187.95 439.20,195.08 441.24,200.17 444.29,204.25 448.37,206.79 454.48,207.81 463.64,208.12 478.00,208.32 504.60,208.74 529.71,209.37" fill="none" stroke="#f0389c" stroke-width="0.85" stroke-linejoin="round"/>
<text x="428.70" y="139.00" font-size="3.9" fill="#000" textLength="22.00" lengthAdjust="spacingAndGlyphs">Overall survival</text>
<line x1="428.40" y1="209.20" x2="429.30" y2="209.20" stroke="#333" stroke-width="0.35"/>
<text x="428.10" y="210.20" font-size="2.9" text-anchor="end" fill="#333">0.00</text>
<line x1="428.40" y1="193.00" x2="429.30" y2="193.00" stroke="#333" stroke-width="0.35"/>
<text x="428.10" y="194.00" font-size="2.9" text-anchor="end" fill="#333">0.25</text>
<line x1="428.40" y1="176.80" x2="429.30" y2="176.80" stroke="#333" stroke-width="0.35"/>
<text x="428.10" y="177.80" font-size="2.9" text-anchor="end" fill="#333">0.50</text>
<line x1="428.40" y1="160.40" x2="429.30" y2="160.40" stroke="#333" stroke-width="0.35"/>
<text x="428.10" y="161.40" font-size="2.9" text-anchor="end" fill="#333">0.75</text>
<line x1="428.40" y1="144.20" x2="429.30" y2="144.20" stroke="#333" stroke-width="0.35"/>
<text x="428.10" y="145.20" font-size="2.9" text-anchor="end" fill="#333">1.00</text>
<line x1="434.00" y1="212.20" x2="434.00" y2="213.10" stroke="#333" stroke-width="0.35"/>
<text x="434.00" y="215.60" font-size="2.9" text-anchor="middle" fill="#333">0</text>
<line x1="457.50" y1="212.20" x2="457.50" y2="213.10" stroke="#333" stroke-width="0.35"/>
<text x="457.50" y="215.60" font-size="2.9" text-anchor="middle" fill="#333">40</text>
<line x1="481.00" y1="212.20" x2="481.00" y2="213.10" stroke="#333" stroke-width="0.35"/>
<text x="481.00" y="215.60" font-size="2.9" text-anchor="middle" fill="#333">80</text>
<line x1="504.60" y1="212.20" x2="504.60" y2="213.10" stroke="#333" stroke-width="0.35"/>
<text x="504.60" y="215.60" font-size="2.9" text-anchor="middle" fill="#333">120</text>
<line x1="528.70" y1="212.20" x2="528.70" y2="213.10" stroke="#333" stroke-width="0.35"/>
<text x="528.70" y="215.60" font-size="2.9" text-anchor="middle" fill="#333">160</text>
<text x="483.40" y="218.50" font-size="3.1" text-anchor="middle" fill="#111" textLength="17.00" lengthAdjust="spacingAndGlyphs">Time (Months)</text>
<text x="421.70" y="178.10" font-size="3.1" text-anchor="middle" fill="#111" textLength="39.70" lengthAdjust="spacingAndGlyphs" transform="rotate(-90 421.70 178.10)">Cumulative survival (percentage)</text>
<text x="436.10" y="197.60" font-size="4.0" fill="#111" textLength="16.50" lengthAdjust="spacingAndGlyphs">p &lt; 0.0001</text>
<text x="504.60" y="151.00" font-size="2.9" fill="#111" textLength="12.50" lengthAdjust="spacingAndGlyphs">Risk Group</text>
<line x1="505.10" y1="155.20" x2="508.70" y2="155.20" stroke="#3fd6d0" stroke-width="0.9"/>
<text x="510.40" y="156.10" font-size="2.4" fill="#222" textLength="7.00" lengthAdjust="spacingAndGlyphs">low risk</text>
<line x1="505.10" y1="159.40" x2="508.70" y2="159.40" stroke="#f0389c" stroke-width="0.9"/>
<text x="510.40" y="160.30" font-size="2.4" fill="#222" textLength="7.60" lengthAdjust="spacingAndGlyphs">high risk</text>
<text x="433.20" y="224.40" font-size="3.6" fill="#000" textLength="21.20" lengthAdjust="spacingAndGlyphs">Number at risk</text>
<rect x="433.00" y="226.40" width="100.50" height="13.10" fill="#ffffff" stroke="#a8a8a8" stroke-width="0.45"/>
<line x1="449.20" y1="226.40" x2="449.20" y2="239.50" stroke="#e8e8e8" stroke-width="0.3"/>
<line x1="472.20" y1="226.40" x2="472.20" y2="239.50" stroke="#e8e8e8" stroke-width="0.3"/>
<line x1="495.20" y1="226.40" x2="495.20" y2="239.50" stroke="#e8e8e8" stroke-width="0.3"/>
<line x1="517.80" y1="226.40" x2="517.80" y2="239.50" stroke="#e8e8e8" stroke-width="0.3"/>
<line x1="540.20" y1="226.40" x2="540.20" y2="239.50" stroke="#e8e8e8" stroke-width="0.3"/>
<text x="437.70" y="231.00" font-size="3.6" text-anchor="middle" fill="#111">240</text>
<text x="437.70" y="237.20" font-size="3.6" text-anchor="middle" fill="#111">252</text>
<text x="460.70" y="231.00" font-size="3.6" text-anchor="middle" fill="#111">31</text>
<text x="460.70" y="237.20" font-size="3.6" text-anchor="middle" fill="#111">6</text>
<text x="483.70" y="231.00" font-size="3.6" text-anchor="middle" fill="#111">17</text>
<text x="483.70" y="237.20" font-size="3.6" text-anchor="middle" fill="#111">3</text>
<text x="506.30" y="231.00" font-size="3.6" text-anchor="middle" fill="#111">5</text>
<text x="506.30" y="237.20" font-size="3.6" text-anchor="middle" fill="#111">2</text>
<text x="528.70" y="231.00" font-size="3.6" text-anchor="middle" fill="#111">1</text>
<text x="528.70" y="237.20" font-size="3.6" text-anchor="middle" fill="#111">1</text>
<text x="431.50" y="230.60" font-size="2.4" text-anchor="end" fill="#3fd6d0" textLength="7.00" lengthAdjust="spacingAndGlyphs">low risk</text>
<text x="431.50" y="236.80" font-size="2.4" text-anchor="end" fill="#f0389c" textLength="7.60" lengthAdjust="spacingAndGlyphs">high risk</text>
<rect x="560.00" y="141.00" width="102.90" height="71.20" fill="#ffffff" stroke="#a8a8a8" stroke-width="0.45"/>
<line x1="564.30" y1="141.00" x2="564.30" y2="212.20" stroke="#ebebeb" stroke-width="0.4"/>
<line x1="576.05" y1="141.00" x2="576.05" y2="212.20" stroke="#f4f4f4" stroke-width="0.3"/>
<line x1="587.80" y1="141.00" x2="587.80" y2="212.20" stroke="#ebebeb" stroke-width="0.4"/>
<line x1="599.60" y1="141.00" x2="599.60" y2="212.20" stroke="#f4f4f4" stroke-width="0.3"/>
<line x1="611.40" y1="141.00" x2="611.40" y2="212.20" stroke="#ebebeb" stroke-width="0.4"/>
<line x1="623.20" y1="141.00" x2="623.20" y2="212.20" stroke="#f4f4f4" stroke-width="0.3"/>
<line x1="635.00" y1="141.00" x2="635.00" y2="212.20" stroke="#ebebeb" stroke-width="0.4"/>
<line x1="646.80" y1="141.00" x2="646.80" y2="212.20" stroke="#f4f4f4" stroke-width="0.3"/>
<line x1="658.60" y1="141.00" x2="658.60" y2="212.20" stroke="#ebebeb" stroke-width="0.4"/>
<line x1="560.00" y1="144.20" x2="662.90" y2="144.20" stroke="#ebebeb" stroke-width="0.4"/>
<line x1="560.00" y1="152.30" x2="662.90" y2="152.30" stroke="#f4f4f4" stroke-width="0.3"/>
<line x1="560.00" y1="160.40" x2="662.90" y2="160.40" stroke="#ebebeb" stroke-width="0.4"/>
<line x1="560.00" y1="168.60" x2="662.90" y2="168.60" stroke="#f4f4f4" stroke-width="0.3"/>
<line x1="560.00" y1="176.80" x2="662.90" y2="176.80" stroke="#ebebeb" stroke-width="0.4"/>
<line x1="560.00" y1="184.90" x2="662.90" y2="184.90" stroke="#f4f4f4" stroke-width="0.3"/>
<line x1="560.00" y1="193.00" x2="662.90" y2="193.00" stroke="#ebebeb" stroke-width="0.4"/>
<line x1="560.00" y1="201.10" x2="662.90" y2="201.10" stroke="#f4f4f4" stroke-width="0.3"/>
<line x1="560.00" y1="209.20" x2="662.90" y2="209.20" stroke="#ebebeb" stroke-width="0.4"/>
<polygon points="574.74,178.95 578.93,187.32 586.25,189.41 599.85,193.60 662.90,193.60 662.90,208.20 574.74,208.24" fill="#f1fbfa" stroke="none"/>
<polygon points="571.60,190.46 578.93,197.78 599.85,203.01 601.95,203.54 601.95,209.50 571.60,209.50" fill="#fdf3f8" stroke="none"/>
<polyline points="566.37,176.85 566.37,209.81" fill="none" stroke="#222" stroke-width="0.45" stroke-linejoin="round" stroke-dasharray="0.9,0.9"/>
<polyline points="575.26,176.85 575.26,209.81" fill="none" stroke="#222" stroke-width="0.45" stroke-linejoin="round" stroke-dasharray="0.9,0.9"/>
<polyline points="563.75,176.85 575.26,176.85" fill="none" stroke="#222" stroke-width="0.45" stroke-linejoin="round" stroke-dasharray="0.9,0.9"/>
<polyline points="564.28,144.42 564.80,147.56 565.32,148.60 565.85,150.70 566.89,153.83 567.94,155.93 568.99,157.50 570.03,160.11 571.08,161.68 572.13,166.39 573.17,169.53 574.22,172.67 574.74,175.81 575.79,176.85 576.83,182.09 577.88,187.32 579.45,192.03 585.21,192.55 586.77,194.64 588.34,196.73 589.39,197.78 593.58,198.83 597.76,199.87 599.40,199.90 599.40,201.30 613.00,201.30 613.00,202.20 636.60,202.20 636.60,204.60 662.90,204.60" fill="none" stroke="#3fd6d0" stroke-width="0.85" stroke-linejoin="round"/>
<polyline points="564.28,144.42 564.80,149.65 565.32,150.70 565.64,161.16 565.85,170.58 566.37,174.76 566.89,177.90 567.94,182.09 568.99,185.22 570.03,188.36 571.60,191.50 573.17,195.17 575.79,197.78 577.36,199.87 578.93,200.92 580.50,203.01 582.59,204.58 585.21,207.20 599.33,207.20 599.85,208.24 626.54,208.77 626.60,208.30" fill="none" stroke="#f0389c" stroke-width="0.85" stroke-linejoin="round"/>
<text x="559.40" y="139.00" font-size="3.9" fill="#000" textLength="22.00" lengthAdjust="spacingAndGlyphs">Overall survival</text>
<line x1="559.10" y1="209.20" x2="560.00" y2="209.20" stroke="#333" stroke-width="0.35"/>
<text x="558.80" y="210.20" font-size="2.9" text-anchor="end" fill="#333">0.00</text>
<line x1="559.10" y1="193.00" x2="560.00" y2="193.00" stroke="#333" stroke-width="0.35"/>
<text x="558.80" y="194.00" font-size="2.9" text-anchor="end" fill="#333">0.25</text>
<line x1="559.10" y1="176.80" x2="560.00" y2="176.80" stroke="#333" stroke-width="0.35"/>
<text x="558.80" y="177.80" font-size="2.9" text-anchor="end" fill="#333">0.50</text>
<line x1="559.10" y1="160.40" x2="560.00" y2="160.40" stroke="#333" stroke-width="0.35"/>
<text x="558.80" y="161.40" font-size="2.9" text-anchor="end" fill="#333">0.75</text>
<line x1="559.10" y1="144.20" x2="560.00" y2="144.20" stroke="#333" stroke-width="0.35"/>
<text x="558.80" y="145.20" font-size="2.9" text-anchor="end" fill="#333">1.00</text>
<line x1="564.30" y1="212.20" x2="564.30" y2="213.10" stroke="#333" stroke-width="0.35"/>
<text x="564.30" y="215.60" font-size="2.9" text-anchor="middle" fill="#333">0</text>
<line x1="587.80" y1="212.20" x2="587.80" y2="213.10" stroke="#333" stroke-width="0.35"/>
<text x="587.80" y="215.60" font-size="2.9" text-anchor="middle" fill="#333">20</text>
<line x1="611.40" y1="212.20" x2="611.40" y2="213.10" stroke="#333" stroke-width="0.35"/>
<text x="611.40" y="215.60" font-size="2.9" text-anchor="middle" fill="#333">40</text>
<line x1="635.00" y1="212.20" x2="635.00" y2="213.10" stroke="#333" stroke-width="0.35"/>
<text x="635.00" y="215.60" font-size="2.9" text-anchor="middle" fill="#333">60</text>
<line x1="658.60" y1="212.20" x2="658.60" y2="213.10" stroke="#333" stroke-width="0.35"/>
<text x="658.60" y="215.60" font-size="2.9" text-anchor="middle" fill="#333">80</text>
<text x="613.45" y="218.50" font-size="3.1" text-anchor="middle" fill="#111" textLength="17.00" lengthAdjust="spacingAndGlyphs">Time (Months)</text>
<text x="552.40" y="178.10" font-size="3.1" text-anchor="middle" fill="#111" textLength="39.70" lengthAdjust="spacingAndGlyphs" transform="rotate(-90 552.40 178.10)">Cumulative survival (percentage)</text>
<text x="566.00" y="197.50" font-size="4.0" fill="#111" textLength="16.50" lengthAdjust="spacingAndGlyphs">p &lt; 0.0001</text>
<text x="633.50" y="151.00" font-size="2.9" fill="#111" textLength="12.50" lengthAdjust="spacingAndGlyphs">Risk Group</text>
<line x1="634.00" y1="155.20" x2="637.60" y2="155.20" stroke="#3fd6d0" stroke-width="0.9"/>
<text x="639.30" y="156.10" font-size="2.4" fill="#222" textLength="7.00" lengthAdjust="spacingAndGlyphs">low risk</text>
<line x1="634.00" y1="159.40" x2="637.60" y2="159.40" stroke="#f0389c" stroke-width="0.9"/>
<text x="639.30" y="160.30" font-size="2.4" fill="#222" textLength="7.60" lengthAdjust="spacingAndGlyphs">high risk</text>
<text x="563.70" y="224.40" font-size="3.6" fill="#000" textLength="21.20" lengthAdjust="spacingAndGlyphs">Number at risk</text>
<rect x="563.50" y="226.40" width="99.50" height="13.10" fill="#ffffff" stroke="#a8a8a8" stroke-width="0.45"/>
<line x1="578.85" y1="226.40" x2="578.85" y2="239.50" stroke="#e8e8e8" stroke-width="0.3"/>
<line x1="601.15" y1="226.40" x2="601.15" y2="239.50" stroke="#e8e8e8" stroke-width="0.3"/>
<line x1="623.85" y1="226.40" x2="623.85" y2="239.50" stroke="#e8e8e8" stroke-width="0.3"/>
<line x1="646.45" y1="226.40" x2="646.45" y2="239.50" stroke="#e8e8e8" stroke-width="0.3"/>
<line x1="669.45" y1="226.40" x2="669.45" y2="239.50" stroke="#e8e8e8" stroke-width="0.3"/>
<text x="567.70" y="231.00" font-size="3.6" text-anchor="middle" fill="#111">45</text>
<text x="567.70" y="237.20" font-size="3.6" text-anchor="middle" fill="#111">54</text>
<text x="590.00" y="231.00" font-size="3.6" text-anchor="middle" fill="#111">11</text>
<text x="590.00" y="237.20" font-size="3.6" text-anchor="middle" fill="#111">2</text>
<text x="612.70" y="231.00" font-size="3.6" text-anchor="middle" fill="#111">5</text>
<text x="612.70" y="237.20" font-size="3.6" text-anchor="middle" fill="#111">1</text>
<text x="635.30" y="231.00" font-size="3.6" text-anchor="middle" fill="#111">4</text>
<text x="635.30" y="237.20" font-size="3.6" text-anchor="middle" fill="#111">0</text>
<text x="658.30" y="231.00" font-size="3.6" text-anchor="middle" fill="#111">1</text>
<text x="658.30" y="237.20" font-size="3.6" text-anchor="middle" fill="#111">0</text>
<text x="562.00" y="230.60" font-size="2.4" text-anchor="end" fill="#3fd6d0" textLength="7.00" lengthAdjust="spacingAndGlyphs">low risk</text>
<text x="562.00" y="236.80" font-size="2.4" text-anchor="end" fill="#f0389c" textLength="7.60" lengthAdjust="spacingAndGlyphs">high risk</text>
<text x="350.00" y="283.90" font-size="3.6" text-anchor="middle" font-weight="bold" fill="#111" textLength="50.40" lengthAdjust="spacingAndGlyphs">ROC curves of train dataset</text>
<line x1="306.00" y1="369.70" x2="393.80" y2="294.00" stroke="#444" stroke-width="0.45"/>
<polyline points="305.98,370.00 305.98,368.33 306.26,368.33 306.26,366.65 306.54,366.65 306.54,364.98 306.82,364.98 306.82,363.31 307.10,363.31 307.10,361.63 307.38,361.63 307.38,359.96 307.66,359.96 307.66,358.13 308.18,358.13 308.18,356.30 308.70,356.30 308.70,354.47 309.23,354.47 309.23,352.64 309.75,352.64 309.75,350.81 310.53,350.81 310.53,348.97 311.32,348.97 311.32,347.14 312.10,347.14 312.10,345.31 312.89,345.31 312.89,343.22 313.58,343.22 313.58,341.13 314.28,341.13 314.28,339.04 314.98,339.04 314.98,336.95 316.03,336.95 316.03,334.85 317.07,334.85 317.07,332.76 318.12,332.76 318.12,330.67 319.51,330.67 319.51,328.58 320.91,328.58 320.91,326.49 322.30,326.49 322.30,324.92 324.39,324.92 324.39,323.35 326.49,323.35 326.49,322.30 328.58,322.30 328.58,321.26 330.67,321.26 330.67,319.69 332.76,319.69 332.76,318.12 334.85,318.12 334.85,316.55 336.95,316.55 336.95,314.98 339.04,314.98 339.04,314.28 341.13,314.28 341.13,313.58 343.22,313.58 343.22,312.89 345.31,312.89 345.31,311.53 347.41,311.53 347.41,310.17 349.50,310.17 349.50,308.91 351.59,308.91 351.59,307.66 353.68,307.66 353.68,305.56 355.77,305.56 355.77,305.01 357.87,305.01 357.87,304.45 359.96,304.45 359.96,303.89 362.05,303.89 362.05,303.40 364.14,303.40 364.14,302.91 366.23,302.91 366.23,302.43 368.33,302.43 368.33,301.94 370.42,301.94 370.42,301.45 372.51,301.45 372.51,300.96 374.60,300.96 374.60,300.06 376.69,300.06 376.69,299.15 378.79,299.15 378.79,298.24 380.88,298.24 380.88,297.55 382.97,297.55 382.97,296.85 385.06,296.85 385.06,296.15 387.15,296.15 387.15,295.73 388.83,295.73 388.83,295.31 390.50,295.31 390.50,294.90 392.18,294.90 392.18,294.48 393.85,294.48 393.85,294.06 395.52,294.06" fill="none" stroke="#f0524a" stroke-width="0.85" stroke-linejoin="round"/>
<polyline points="305.98,370.00 305.98,368.01 306.30,368.01 306.30,366.03 306.61,366.03 306.61,364.04 306.92,364.04 306.92,362.05 307.24,362.05 307.24,360.38 307.74,360.38 307.74,358.70 308.24,358.70 308.24,357.03 308.74,357.03 308.74,355.36 309.25,355.36 309.25,353.68 309.75,353.68 309.75,352.01 310.17,352.01 310.17,350.33 310.59,350.33 310.59,348.66 311.00,348.66 311.00,346.99 311.42,346.99 311.42,345.31 311.84,345.31 311.84,343.64 312.47,343.64 312.47,341.97 313.10,341.97 313.10,340.29 313.72,340.29 313.72,338.62 314.35,338.62 314.35,336.95 314.98,336.95 314.98,335.20 316.03,335.20 316.03,333.46 317.07,333.46 317.07,331.72 318.12,331.72 318.12,329.62 320.21,329.62 320.21,327.53 322.30,327.53 322.30,325.96 324.39,325.96 324.39,324.39 326.49,324.39 326.49,322.30 328.58,322.30 328.58,320.21 330.67,320.21 330.67,318.12 332.76,318.12 332.76,316.03 334.85,316.03 334.85,314.98 336.95,314.98 336.95,313.93 339.04,313.93 339.04,313.24 341.13,313.24 341.13,312.54 343.22,312.54 343.22,311.84 345.31,311.84 345.31,311.21 346.99,311.21 346.99,310.59 348.66,310.59 348.66,309.96 350.33,309.96 350.33,309.33 352.01,309.33 352.01,308.70 353.68,308.70 353.68,308.70 355.77,308.70 355.77,308.70 357.87,308.70 357.87,307.31 359.96,307.31 359.96,305.91 362.05,305.91 362.05,304.52 364.14,304.52 364.14,304.17 366.23,304.17 366.23,303.82 368.33,303.82 368.33,303.47 370.42,303.47 370.42,302.43 372.51,302.43 372.51,301.38 374.60,301.38 374.60,300.68 376.69,300.68 376.69,299.99 378.79,299.99 378.79,299.29 380.88,299.29 380.88,298.71 382.51,298.71 382.51,298.13 384.13,298.13 384.13,297.55 385.76,297.55 385.76,296.96 387.39,296.96 387.39,296.38 389.01,296.38 389.01,295.80 390.64,295.80 390.64,295.22 392.27,295.22 392.27,294.64 393.90,294.64 393.90,294.06 395.52,294.06" fill="none" stroke="#4a90d8" stroke-width="0.85" stroke-linejoin="round"/>
<polyline points="305.98,370.00 305.98,368.22 306.06,368.22 306.06,366.44 306.14,366.44 306.14,364.67 306.22,364.67 306.22,362.89 306.30,362.89 306.30,361.11 306.38,361.11 306.38,359.33 306.45,359.33 306.45,357.55 306.53,357.55 306.53,355.77 306.61,355.77 306.61,355.77 308.70,355.77 308.70,354.03 308.81,354.03 308.81,352.29 308.91,352.29 308.91,350.54 309.02,350.54 309.02,348.80 309.12,348.80 309.12,347.06 309.23,347.06 309.23,345.31 309.33,345.31 309.33,345.31 310.79,345.31 310.79,343.22 311.00,343.22 311.00,341.13 311.21,341.13 311.21,339.04 311.42,339.04 311.42,339.04 313.93,339.04 313.93,337.21 314.04,337.21 314.04,335.38 314.14,335.38 314.14,333.55 314.25,333.55 314.25,331.72 314.35,331.72 314.35,330.67 316.03,330.67 316.03,328.72 316.16,328.72 316.16,326.76 316.30,326.76 316.30,324.81 316.44,324.81 316.44,323.35 318.54,323.35 318.54,320.21 319.16,320.21 319.16,318.12 322.30,318.12 322.30,314.98 325.44,314.98 325.44,314.46 327.53,314.46 327.53,313.93 329.62,313.93 329.62,311.84 332.76,311.84 332.76,310.27 334.85,310.27 334.85,308.70 336.95,308.70 336.95,308.35 339.04,308.35 339.04,308.01 341.13,308.01 341.13,307.66 343.22,307.66 343.22,307.66 345.31,307.66 345.31,307.66 347.41,307.66 347.41,307.66 349.50,307.66 349.50,307.13 351.59,307.13 351.59,306.61 353.68,306.61 353.68,305.56 355.77,305.56 355.77,304.52 357.87,304.52 357.87,303.47 359.96,303.47 359.96,302.78 362.05,302.78 362.05,302.08 364.14,302.08 364.14,301.38 366.23,301.38 366.23,300.75 367.91,300.75 367.91,300.13 369.58,300.13 369.58,299.50 371.26,299.50 371.26,298.87 372.93,298.87 372.93,298.24 374.60,298.24 374.60,297.82 376.28,297.82 376.28,297.41 377.95,297.41 377.95,296.99 379.62,296.99 379.62,296.57 381.30,296.57 381.30,296.15 382.97,296.15 382.97,295.85 384.76,295.85 384.76,295.55 386.56,295.55 386.56,295.25 388.35,295.25 388.35,294.96 390.14,294.96 390.14,294.66 391.94,294.66 391.94,294.36 393.73,294.36 393.73,294.06 395.52,294.06" fill="none" stroke="#3cb043" stroke-width="0.85" stroke-linejoin="round"/>
<rect x="302.80" y="290.30" width="94.40" height="82.60" fill="none" stroke="#444" stroke-width="0.5"/>
<line x1="306.00" y1="372.90" x2="306.00" y2="374.30" stroke="#444" stroke-width="0.4"/>
<text x="306.00" y="379.50" font-size="3.0" text-anchor="middle" fill="#333">0.0</text>
<line x1="302.80" y1="369.70" x2="301.40" y2="369.70" stroke="#444" stroke-width="0.4"/>
<text x="298.80" y="369.70" font-size="3.0" text-anchor="middle" fill="#333" transform="rotate(-90 298.80 369.70)">0.0</text>
<line x1="323.56" y1="372.90" x2="323.56" y2="374.30" stroke="#444" stroke-width="0.4"/>
<text x="323.56" y="379.50" font-size="3.0" text-anchor="middle" fill="#333">0.2</text>
<line x1="302.80" y1="354.56" x2="301.40" y2="354.56" stroke="#444" stroke-width="0.4"/>
<text x="298.80" y="354.56" font-size="3.0" text-anchor="middle" fill="#333" transform="rotate(-90 298.80 354.56)">0.2</text>
<line x1="341.12" y1="372.90" x2="341.12" y2="374.30" stroke="#444" stroke-width="0.4"/>
<text x="341.12" y="379.50" font-size="3.0" text-anchor="middle" fill="#333">0.4</text>
<line x1="302.80" y1="339.42" x2="301.40" y2="339.42" stroke="#444" stroke-width="0.4"/>
<text x="298.80" y="339.42" font-size="3.0" text-anchor="middle" fill="#333" transform="rotate(-90 298.80 339.42)">0.4</text>
<line x1="358.68" y1="372.90" x2="358.68" y2="374.30" stroke="#444" stroke-width="0.4"/>
<text x="358.68" y="379.50" font-size="3.0" text-anchor="middle" fill="#333">0.6</text>
<line x1="302.80" y1="324.28" x2="301.40" y2="324.28" stroke="#444" stroke-width="0.4"/>
<text x="298.80" y="324.28" font-size="3.0" text-anchor="middle" fill="#333" transform="rotate(-90 298.80 324.28)">0.6</text>
<line x1="376.24" y1="372.90" x2="376.24" y2="374.30" stroke="#444" stroke-width="0.4"/>
<text x="376.24" y="379.50" font-size="3.0" text-anchor="middle" fill="#333">0.8</text>
<line x1="302.80" y1="309.14" x2="301.40" y2="309.14" stroke="#444" stroke-width="0.4"/>
<text x="298.80" y="309.14" font-size="3.0" text-anchor="middle" fill="#333" transform="rotate(-90 298.80 309.14)">0.8</text>
<line x1="393.80" y1="372.90" x2="393.80" y2="374.30" stroke="#444" stroke-width="0.4"/>
<text x="393.80" y="379.50" font-size="3.0" text-anchor="middle" fill="#333">1.0</text>
<line x1="302.80" y1="294.00" x2="301.40" y2="294.00" stroke="#444" stroke-width="0.4"/>
<text x="298.80" y="294.00" font-size="3.0" text-anchor="middle" fill="#333" transform="rotate(-90 298.80 294.00)">1.0</text>
<text x="350.00" y="387.10" font-size="3.3" text-anchor="middle" fill="#222" textLength="27.20" lengthAdjust="spacingAndGlyphs">False Positive Rate</text>
<text x="289.80" y="331.60" font-size="3.3" text-anchor="middle" fill="#222" textLength="25.00" lengthAdjust="spacingAndGlyphs" transform="rotate(-90 289.80 331.60)">True Positive Rate</text>
<rect x="344.70" y="356.60" width="52.50" height="16.30" fill="#ffffff" stroke="#444" stroke-width="0.4"/>
<line x1="347.50" y1="361.20" x2="353.70" y2="361.20" stroke="#f0524a" stroke-width="0.9"/>
<text x="355.30" y="362.20" font-size="2.8" fill="#333" textLength="40.00" lengthAdjust="spacingAndGlyphs">1-year ROC, AUC = 0.719</text>
<line x1="347.50" y1="365.20" x2="353.70" y2="365.20" stroke="#4a90d8" stroke-width="0.9"/>
<text x="355.30" y="366.20" font-size="2.8" fill="#333" textLength="40.00" lengthAdjust="spacingAndGlyphs">3-year ROC, AUC = 0.722</text>
<line x1="347.50" y1="369.20" x2="353.70" y2="369.20" stroke="#3cb043" stroke-width="0.9"/>
<text x="355.30" y="370.20" font-size="2.8" fill="#333" textLength="40.00" lengthAdjust="spacingAndGlyphs">5-year ROC, AUC = 0.777</text>
<text x="480.30" y="283.30" font-size="3.6" text-anchor="middle" font-weight="bold" fill="#111" textLength="64.50" lengthAdjust="spacingAndGlyphs">ROC curves of internal test dataset</text>
<line x1="436.00" y1="370.30" x2="524.50" y2="293.50" stroke="#444" stroke-width="0.45"/>
<polyline points="435.98,370.29 435.98,368.20 437.34,368.20 437.34,366.11 438.70,366.11 438.70,364.23 439.12,364.23 439.12,362.34 439.54,362.34 439.54,360.46 439.96,360.46 439.96,358.58 440.38,358.58 440.38,356.69 440.79,356.69 440.79,354.60 441.14,354.60 441.14,352.51 441.49,352.51 441.49,350.42 441.84,350.42 441.84,348.33 443.41,348.33 443.41,346.23 444.98,346.23 444.98,344.14 446.03,344.14 446.03,342.05 447.07,342.05 447.07,339.96 448.12,339.96 448.12,338.28 448.95,338.28 448.95,336.61 449.79,336.61 449.79,334.94 450.63,334.94 450.63,333.26 451.46,333.26 451.46,331.59 452.30,331.59 452.30,329.76 453.35,329.76 453.35,327.93 454.39,327.93 454.39,326.10 455.44,326.10 455.44,324.27 456.49,324.27 456.49,322.70 458.58,322.70 458.58,321.13 460.67,321.13 460.67,319.74 462.76,319.74 462.76,318.34 464.85,318.34 464.85,316.95 466.95,316.95 466.95,315.20 468.69,315.20 468.69,313.46 470.43,313.46 470.43,311.72 472.18,311.72 472.18,309.62 473.74,309.62 473.74,307.53 475.31,307.53 475.31,307.11 476.99,307.11 476.99,306.69 478.66,306.69 478.66,306.28 480.33,306.28 480.33,305.86 482.01,305.86 482.01,305.44 483.68,305.44 483.68,305.09 485.43,305.09 485.43,304.74 487.17,304.74 487.17,304.39 488.91,304.39 488.91,304.04 490.66,304.04 490.66,303.70 492.40,303.70 492.40,303.35 494.14,303.35 494.14,302.82 495.89,302.82 495.89,302.30 497.63,302.30 497.63,301.78 499.37,301.78 499.37,301.26 501.12,301.26 501.12,300.73 502.86,300.73 502.86,300.21 504.60,300.21 504.60,299.76 506.40,299.76 506.40,299.31 508.19,299.31 508.19,298.86 509.98,298.86 509.98,298.42 511.78,298.42 511.78,297.97 513.57,297.97 513.57,297.52 515.36,297.52 515.36,297.07 517.15,297.07 517.15,296.18 518.99,296.18 518.99,295.29 520.82,295.29 520.82,294.40 522.65,294.40 522.65,293.51 524.48,293.51" fill="none" stroke="#f0524a" stroke-width="0.85" stroke-linejoin="round"/>
<polyline points="435.98,370.29 435.98,369.25 437.59,369.25 437.59,368.20 439.19,368.20 439.19,367.15 440.79,367.15 440.79,365.41 440.84,365.41 440.84,363.67 440.89,363.67 440.89,361.92 440.93,361.92 440.93,360.18 440.98,360.18 440.98,358.44 441.03,358.44 441.03,356.69 441.07,356.69 441.07,354.95 441.12,354.95 441.12,353.21 441.17,353.21 441.17,351.46 441.21,351.46 441.21,349.37 442.57,349.37 442.57,347.28 443.93,347.28 443.93,345.19 446.03,345.19 446.03,343.36 446.44,343.36 446.44,341.53 446.86,341.53 446.86,339.70 447.28,339.70 447.28,337.87 447.70,337.87 447.70,335.77 448.95,335.77 448.95,333.68 450.21,333.68 450.21,331.59 450.91,331.59 450.91,329.50 451.60,329.50 451.60,327.41 452.30,327.41 452.30,325.31 453.14,325.31 453.14,323.22 453.97,323.22 453.97,321.13 454.81,321.13 454.81,320.43 456.42,320.43 456.42,319.74 458.02,319.74 458.02,319.04 459.62,319.04 459.62,316.53 462.76,316.53 462.76,314.57 462.76,314.57 462.76,312.62 462.76,312.62 462.76,310.67 462.76,310.67 462.76,310.25 464.64,310.25 464.64,309.83 466.53,309.83 466.53,309.41 468.41,309.41 468.41,309.00 470.29,309.00 470.29,308.58 472.18,308.58 472.18,308.22 473.82,308.22 473.82,307.86 475.46,307.86 475.46,307.50 477.11,307.50 477.11,307.14 478.75,307.14 478.75,306.78 480.39,306.78 480.39,306.43 482.04,306.43 482.04,306.07 483.68,306.07 483.68,305.44 485.43,305.44 485.43,304.81 487.17,304.81 487.17,304.18 488.91,304.18 488.91,303.56 490.66,303.56 490.66,302.93 492.40,302.93 492.40,302.30 494.14,302.30 494.14,301.78 495.89,301.78 495.89,301.26 497.63,301.26 497.63,300.73 499.37,300.73 499.37,300.21 501.12,300.21 501.12,299.69 502.86,299.69 502.86,299.16 504.60,299.16 504.60,298.64 506.35,298.64 506.35,298.12 508.09,298.12 508.09,297.59 509.83,297.59 509.83,297.07 511.58,297.07 511.58,296.55 513.32,296.55 513.32,296.03 515.06,296.03 515.06,295.52 516.95,295.52 516.95,295.02 518.83,295.02 518.83,294.52 520.71,294.52 520.71,294.02 522.59,294.02 522.59,293.51 524.48,293.51" fill="none" stroke="#4a90d8" stroke-width="0.85" stroke-linejoin="round"/>
<polyline points="435.98,370.29 435.98,367.15 438.70,367.15 438.70,364.02 440.17,364.02 440.17,362.34 440.17,362.34 440.17,360.67 440.17,360.67 440.17,359.00 440.17,359.00 440.17,357.32 440.17,357.32 440.17,355.65 440.17,355.65 440.17,353.97 440.17,353.97 440.17,352.30 440.17,352.30 440.17,350.63 440.17,350.63 440.17,348.95 440.17,348.95 440.17,347.28 440.17,347.28 440.17,346.76 442.05,346.76 442.05,346.23 443.93,346.23 443.93,345.19 446.44,345.19 446.44,343.10 446.44,343.10 446.44,341.00 446.44,341.00 446.44,338.91 446.44,338.91 446.44,337.87 449.16,337.87 449.16,335.98 449.25,335.98 449.25,334.10 449.33,334.10 449.33,332.22 449.41,332.22 449.41,330.33 449.50,330.33 449.50,328.45 449.58,328.45 449.58,326.99 452.72,326.99 452.72,325.00 452.72,325.00 452.72,323.01 452.72,323.01 452.72,321.03 452.72,321.03 452.72,319.04 452.72,319.04 452.72,317.99 454.81,317.99 454.81,315.90 454.81,315.90 454.81,313.81 454.81,313.81 454.81,311.72 454.81,311.72 454.81,311.45 456.80,311.45 456.80,311.19 458.79,311.19 458.79,310.93 460.77,310.93 460.77,310.67 462.76,310.67 462.76,309.97 464.50,309.97 464.50,309.27 466.25,309.27 466.25,308.58 467.99,308.58 467.99,307.88 469.74,307.88 469.74,307.18 471.48,307.18 471.48,306.49 473.22,306.49 473.22,306.14 474.97,306.14 474.97,305.79 476.71,305.79 476.71,305.44 478.45,305.44 478.45,305.09 480.20,305.09 480.20,304.74 481.94,304.74 481.94,304.39 483.68,304.39 483.68,303.56 485.36,303.56 485.36,302.72 487.03,302.72 487.03,301.88 488.70,301.88 488.70,301.05 490.38,301.05 490.38,300.21 492.05,300.21 492.05,299.79 493.72,299.79 493.72,299.37 495.40,299.37 495.40,298.95 497.07,298.95 497.07,298.54 498.74,298.54 498.74,298.12 500.42,298.12 500.42,297.70 502.09,297.70 502.09,297.28 503.77,297.28 503.77,296.86 505.44,296.86 505.44,296.44 507.11,296.44 507.11,296.03 508.79,296.03 508.79,295.82 510.46,295.82 510.46,295.61 512.13,295.61 512.13,295.40 513.81,295.40 513.81,295.19 515.48,295.19 515.48,294.98 517.15,294.98 517.15,294.61 518.99,294.61 518.99,294.25 520.82,294.25 520.82,293.88 522.65,293.88 522.65,293.51 524.48,293.51" fill="none" stroke="#3cb043" stroke-width="0.85" stroke-linejoin="round"/>
<rect x="433.00" y="289.70" width="94.60" height="83.30" fill="none" stroke="#444" stroke-width="0.5"/>
<line x1="436.00" y1="373.00" x2="436.00" y2="374.40" stroke="#444" stroke-width="0.4"/>
<text x="436.00" y="379.60" font-size="3.0" text-anchor="middle" fill="#333">0.0</text>
<line x1="433.00" y1="370.30" x2="431.60" y2="370.30" stroke="#444" stroke-width="0.4"/>
<text x="429.00" y="370.30" font-size="3.0" text-anchor="middle" fill="#333" transform="rotate(-90 429.00 370.30)">0.0</text>
<line x1="453.70" y1="373.00" x2="453.70" y2="374.40" stroke="#444" stroke-width="0.4"/>
<text x="453.70" y="379.60" font-size="3.0" text-anchor="middle" fill="#333">0.2</text>
<line x1="433.00" y1="354.94" x2="431.60" y2="354.94" stroke="#444" stroke-width="0.4"/>
<text x="429.00" y="354.94" font-size="3.0" text-anchor="middle" fill="#333" transform="rotate(-90 429.00 354.94)">0.2</text>
<line x1="471.40" y1="373.00" x2="471.40" y2="374.40" stroke="#444" stroke-width="0.4"/>
<text x="471.40" y="379.60" font-size="3.0" text-anchor="middle" fill="#333">0.4</text>
<line x1="433.00" y1="339.58" x2="431.60" y2="339.58" stroke="#444" stroke-width="0.4"/>
<text x="429.00" y="339.58" font-size="3.0" text-anchor="middle" fill="#333" transform="rotate(-90 429.00 339.58)">0.4</text>
<line x1="489.10" y1="373.00" x2="489.10" y2="374.40" stroke="#444" stroke-width="0.4"/>
<text x="489.10" y="379.60" font-size="3.0" text-anchor="middle" fill="#333">0.6</text>
<line x1="433.00" y1="324.22" x2="431.60" y2="324.22" stroke="#444" stroke-width="0.4"/>
<text x="429.00" y="324.22" font-size="3.0" text-anchor="middle" fill="#333" transform="rotate(-90 429.00 324.22)">0.6</text>
<line x1="506.80" y1="373.00" x2="506.80" y2="374.40" stroke="#444" stroke-width="0.4"/>
<text x="506.80" y="379.60" font-size="3.0" text-anchor="middle" fill="#333">0.8</text>
<line x1="433.00" y1="308.86" x2="431.60" y2="308.86" stroke="#444" stroke-width="0.4"/>
<text x="429.00" y="308.86" font-size="3.0" text-anchor="middle" fill="#333" transform="rotate(-90 429.00 308.86)">0.8</text>
<line x1="524.50" y1="373.00" x2="524.50" y2="374.40" stroke="#444" stroke-width="0.4"/>
<text x="524.50" y="379.60" font-size="3.0" text-anchor="middle" fill="#333">1.0</text>
<line x1="433.00" y1="293.50" x2="431.60" y2="293.50" stroke="#444" stroke-width="0.4"/>
<text x="429.00" y="293.50" font-size="3.0" text-anchor="middle" fill="#333" transform="rotate(-90 429.00 293.50)">1.0</text>
<text x="480.30" y="387.20" font-size="3.3" text-anchor="middle" fill="#222" textLength="27.20" lengthAdjust="spacingAndGlyphs">False Positive Rate</text>
<text x="420.00" y="331.35" font-size="3.3" text-anchor="middle" fill="#222" textLength="25.00" lengthAdjust="spacingAndGlyphs" transform="rotate(-90 420.00 331.35)">True Positive Rate</text>
<rect x="475.30" y="357.00" width="52.30" height="16.00" fill="#ffffff" stroke="#444" stroke-width="0.4"/>
<line x1="478.10" y1="361.60" x2="484.30" y2="361.60" stroke="#f0524a" stroke-width="0.9"/>
<text x="485.90" y="362.60" font-size="2.8" fill="#333" textLength="39.80" lengthAdjust="spacingAndGlyphs">1-year ROC, AUC = 0.725</text>
<line x1="478.10" y1="365.60" x2="484.30" y2="365.60" stroke="#4a90d8" stroke-width="0.9"/>
<text x="485.90" y="366.60" font-size="2.8" fill="#333" textLength="39.80" lengthAdjust="spacingAndGlyphs">3-year ROC, AUC = 0.747</text>
<line x1="478.10" y1="369.60" x2="484.30" y2="369.60" stroke="#3cb043" stroke-width="0.9"/>
<text x="485.90" y="370.60" font-size="2.8" fill="#333" textLength="39.80" lengthAdjust="spacingAndGlyphs">5-year ROC, AUC = 0.782</text>
<text x="610.60" y="284.00" font-size="3.6" text-anchor="middle" font-weight="bold" fill="#111" textLength="65.40" lengthAdjust="spacingAndGlyphs">ROC curves of external test dataset</text>
<line x1="566.70" y1="369.70" x2="654.50" y2="292.90" stroke="#444" stroke-width="0.45"/>
<polyline points="566.66,369.67 566.66,367.15 569.79,367.15 569.79,364.02 572.93,364.02 572.93,363.49 575.03,363.49 575.03,362.97 577.12,362.97 577.12,361.33 577.18,361.33 577.18,359.68 577.24,359.68 577.24,358.04 577.30,358.04 577.30,356.40 577.36,356.40 577.36,354.75 577.42,354.75 577.42,353.11 577.48,353.11 577.48,351.46 577.54,351.46 577.54,351.12 579.14,351.12 579.14,350.77 580.74,350.77 580.74,350.42 582.35,350.42 582.35,348.33 582.66,348.33 582.66,346.23 582.97,346.23 582.97,345.19 585.49,345.19 585.49,343.58 585.62,343.58 585.62,341.98 585.76,341.98 585.76,340.38 585.90,340.38 585.90,339.64 587.79,339.64 587.79,338.91 589.67,338.91 589.67,335.77 590.72,335.77 590.72,334.73 592.81,334.73 592.81,333.11 592.90,333.11 592.90,331.49 593.00,331.49 593.00,329.88 593.09,329.88 593.09,328.26 593.19,328.26 593.19,326.65 593.28,326.65 593.28,325.03 593.38,325.03 593.38,323.41 593.47,323.41 593.47,321.80 593.57,321.80 593.57,320.18 593.66,320.18 593.66,318.56 593.76,318.56 593.76,316.95 593.85,316.95 593.85,316.81 595.95,316.81 595.95,316.67 598.04,316.67 598.04,316.53 600.13,316.53 600.13,314.85 601.18,314.85 601.18,314.33 603.01,314.33 603.01,313.81 604.84,313.81 604.84,313.28 606.67,313.28 606.67,312.76 608.50,312.76 608.50,312.06 610.59,312.06 610.59,311.37 612.68,311.37 612.68,310.67 614.77,310.67 614.77,307.53 616.87,307.53 616.87,306.49 618.96,306.49 618.96,305.44 621.05,305.44 621.05,303.35 623.14,303.35 623.14,302.86 625.23,302.86 625.23,302.37 627.33,302.37 627.33,301.88 629.42,301.88 629.42,301.05 631.51,301.05 631.51,300.21 633.60,300.21 633.60,299.71 635.28,299.71 635.28,299.21 636.95,299.21 636.95,298.70 638.62,298.70 638.62,298.20 640.30,298.20 640.30,297.70 641.97,297.70 641.97,297.14 644.06,297.14 644.06,296.58 646.15,296.58 646.15,296.03 648.25,296.03 648.25,295.68 650.34,295.68 650.34,295.33 652.43,295.33 652.43,294.98 654.52,294.98" fill="none" stroke="#f0524a" stroke-width="0.85" stroke-linejoin="round"/>
<polyline points="566.66,369.67 566.66,367.36 566.87,367.36 566.87,365.06 567.08,365.06 567.08,365.06 568.68,365.06 568.68,365.06 570.28,365.06 570.28,365.06 571.89,365.06 571.89,365.06 573.49,365.06 573.49,365.06 575.09,365.06 575.09,365.06 576.70,365.06 576.70,363.36 576.70,363.36 576.70,361.66 576.70,361.66 576.70,359.96 576.70,359.96 576.70,358.26 576.70,358.26 576.70,356.56 576.70,356.56 576.70,354.86 576.70,354.86 576.70,353.16 576.70,353.16 576.70,351.46 576.70,351.46 576.70,349.76 576.70,349.76 576.70,348.06 576.70,348.06 576.70,346.37 576.70,346.37 576.70,344.67 576.70,344.67 576.70,342.97 576.70,342.97 576.70,341.27 576.70,341.27 576.70,339.57 576.70,339.57 576.70,337.87 576.70,337.87 576.70,337.87 578.46,337.87 578.46,337.87 580.21,337.87 580.21,337.87 581.97,337.87 581.97,337.87 583.73,337.87 583.73,337.87 585.49,337.87 585.49,336.19 585.52,336.19 585.52,334.52 585.55,334.52 585.55,332.85 585.58,332.85 585.58,331.17 585.60,331.17 585.60,329.50 585.63,329.50 585.63,327.82 585.66,327.82 585.66,326.15 585.69,326.15 585.69,324.48 585.72,324.48 585.72,322.80 585.75,322.80 585.75,321.13 585.78,321.13 585.78,319.46 585.81,319.46 585.81,317.78 585.84,317.78 585.84,316.11 585.87,316.11 585.87,314.44 585.90,314.44 585.90,314.44 587.65,314.44 587.65,314.44 589.39,314.44 589.39,314.44 591.13,314.44 591.13,314.44 592.88,314.44 592.88,314.44 594.62,314.44 594.62,314.44 596.36,314.44 596.36,312.70 596.36,312.70 596.36,310.97 596.36,310.97 596.36,309.23 596.36,309.23 596.36,307.50 596.36,307.50 596.36,305.77 596.36,305.77 596.36,304.03 596.36,304.03 596.36,302.30 596.36,302.30 596.36,302.30 598.35,302.30 598.35,302.30 600.34,302.30 600.34,302.30 602.33,302.30 602.33,302.30 604.31,302.30 604.31,301.88 605.99,301.88 605.99,301.46 607.66,301.46 607.66,301.05 609.33,301.05 609.33,300.63 611.01,300.63 611.01,300.21 612.68,300.21 612.68,300.03 614.43,300.03 614.43,299.86 616.17,299.86 616.17,299.69 617.91,299.69 617.91,299.51 619.66,299.51 619.66,299.34 621.40,299.34 621.40,299.16 623.14,299.16 623.14,298.81 624.89,298.81 624.89,298.47 626.63,298.47 626.63,298.12 628.37,298.12 628.37,297.77 630.12,297.77 630.12,297.42 631.86,297.42 631.86,297.07 633.60,297.07 633.60,296.55 635.69,296.55 635.69,296.03 637.79,296.03 637.79,295.86 639.46,295.86 639.46,295.69 641.13,295.69 641.13,295.52 642.81,295.52 642.81,295.36 644.48,295.36 644.48,295.19 646.15,295.19 646.15,295.02 647.83,295.02 647.83,294.85 649.50,294.85 649.50,294.69 651.18,294.69 651.18,294.52 652.85,294.52 652.85,294.35 654.52,294.35" fill="none" stroke="#4a90d8" stroke-width="0.85" stroke-linejoin="round"/>
<polyline points="566.66,369.67 566.66,367.99 566.68,367.99 566.68,366.32 566.70,366.32 566.70,364.64 566.72,364.64 566.72,362.97 566.74,362.97 566.74,361.30 566.77,361.30 566.77,359.62 566.79,359.62 566.79,357.95 566.81,357.95 566.81,356.28 566.83,356.28 566.83,354.60 566.86,354.60 566.86,352.93 566.88,352.93 566.88,351.26 566.90,351.26 566.90,349.58 566.92,349.58 566.92,347.91 566.94,347.91 566.94,346.23 566.97,346.23 566.97,344.56 566.99,344.56 566.99,342.89 567.01,342.89 567.01,341.21 567.03,341.21 567.03,339.54 567.05,339.54 567.05,337.87 567.08,337.87 567.08,337.87 568.85,337.87 568.85,337.87 570.63,337.87 570.63,337.87 572.41,337.87 572.41,337.87 574.19,337.87 574.19,337.87 575.97,337.87 575.97,337.87 577.74,337.87 577.74,337.87 579.52,337.87 579.52,337.87 581.30,337.87 581.30,336.24 581.30,336.24 581.30,334.62 581.30,334.62 581.30,333.00 581.30,333.00 581.30,331.38 581.30,331.38 581.30,329.76 581.30,329.76 581.30,328.14 581.30,328.14 581.30,326.52 581.30,326.52 581.30,324.90 581.30,324.90 581.30,323.27 581.30,323.27 581.30,321.65 581.30,321.65 581.30,320.03 581.30,320.03 581.30,318.41 581.30,318.41 581.30,316.79 581.30,316.79 581.30,315.17 581.30,315.17 581.30,313.55 581.30,313.55 581.30,311.92 581.30,311.92 581.30,310.30 581.30,310.30 581.30,308.68 581.30,308.68 581.30,307.06 581.30,307.06 581.30,305.44 581.30,305.44 581.30,305.44 582.93,305.44 582.93,305.44 584.56,305.44 584.56,305.44 586.18,305.44 586.18,305.44 587.81,305.44 587.81,305.44 589.44,305.44 589.44,305.44 591.06,305.44 591.06,305.44 592.69,305.44 592.69,305.44 594.32,305.44 594.32,305.44 595.95,305.44 595.95,303.35 596.36,303.35 596.36,303.05 598.10,303.05 598.10,302.75 599.83,302.75 599.83,302.45 601.56,302.45 601.56,302.15 603.30,302.15 603.30,301.85 605.03,301.85 605.03,301.55 606.76,301.55 606.76,301.26 608.50,301.26 608.50,300.84 610.17,300.84 610.17,300.42 611.85,300.42 611.85,300.00 613.52,300.00 613.52,299.58 615.19,299.58 615.19,299.16 616.87,299.16 616.87,299.04 618.54,299.04 618.54,298.91 620.21,298.91 620.21,298.79 621.89,298.79 621.89,298.66 623.56,298.66 623.56,298.54 625.23,298.54 625.23,298.21 626.86,298.21 626.86,297.88 628.49,297.88 628.49,297.56 630.12,297.56 630.12,297.23 631.74,297.23 631.74,296.91 633.37,296.91 633.37,296.58 635.00,296.58 635.00,296.26 636.62,296.26 636.62,295.93 638.25,295.93 638.25,295.61 639.88,295.61 639.88,295.47 641.51,295.47 641.51,295.33 643.13,295.33 643.13,295.19 644.76,295.19 644.76,295.05 646.39,295.05 646.39,294.91 648.01,294.91 648.01,294.77 649.64,294.77 649.64,294.63 651.27,294.63 651.27,294.49 652.90,294.49 652.90,294.35 654.52,294.35" fill="none" stroke="#3cb043" stroke-width="0.85" stroke-linejoin="round"/>
<rect x="563.50" y="290.40" width="94.20" height="83.00" fill="none" stroke="#444" stroke-width="0.5"/>
<line x1="566.70" y1="373.40" x2="566.70" y2="374.80" stroke="#444" stroke-width="0.4"/>
<text x="566.70" y="380.00" font-size="3.0" text-anchor="middle" fill="#333">0.0</text>
<line x1="563.50" y1="369.70" x2="562.10" y2="369.70" stroke="#444" stroke-width="0.4"/>
<text x="559.50" y="369.70" font-size="3.0" text-anchor="middle" fill="#333" transform="rotate(-90 559.50 369.70)">0.0</text>
<line x1="584.26" y1="373.40" x2="584.26" y2="374.80" stroke="#444" stroke-width="0.4"/>
<text x="584.26" y="380.00" font-size="3.0" text-anchor="middle" fill="#333">0.2</text>
<line x1="563.50" y1="354.34" x2="562.10" y2="354.34" stroke="#444" stroke-width="0.4"/>
<text x="559.50" y="354.34" font-size="3.0" text-anchor="middle" fill="#333" transform="rotate(-90 559.50 354.34)">0.2</text>
<line x1="601.82" y1="373.40" x2="601.82" y2="374.80" stroke="#444" stroke-width="0.4"/>
<text x="601.82" y="380.00" font-size="3.0" text-anchor="middle" fill="#333">0.4</text>
<line x1="563.50" y1="338.98" x2="562.10" y2="338.98" stroke="#444" stroke-width="0.4"/>
<text x="559.50" y="338.98" font-size="3.0" text-anchor="middle" fill="#333" transform="rotate(-90 559.50 338.98)">0.4</text>
<line x1="619.38" y1="373.40" x2="619.38" y2="374.80" stroke="#444" stroke-width="0.4"/>
<text x="619.38" y="380.00" font-size="3.0" text-anchor="middle" fill="#333">0.6</text>
<line x1="563.50" y1="323.62" x2="562.10" y2="323.62" stroke="#444" stroke-width="0.4"/>
<text x="559.50" y="323.62" font-size="3.0" text-anchor="middle" fill="#333" transform="rotate(-90 559.50 323.62)">0.6</text>
<line x1="636.94" y1="373.40" x2="636.94" y2="374.80" stroke="#444" stroke-width="0.4"/>
<text x="636.94" y="380.00" font-size="3.0" text-anchor="middle" fill="#333">0.8</text>
<line x1="563.50" y1="308.26" x2="562.10" y2="308.26" stroke="#444" stroke-width="0.4"/>
<text x="559.50" y="308.26" font-size="3.0" text-anchor="middle" fill="#333" transform="rotate(-90 559.50 308.26)">0.8</text>
<line x1="654.50" y1="373.40" x2="654.50" y2="374.80" stroke="#444" stroke-width="0.4"/>
<text x="654.50" y="380.00" font-size="3.0" text-anchor="middle" fill="#333">1.0</text>
<line x1="563.50" y1="292.90" x2="562.10" y2="292.90" stroke="#444" stroke-width="0.4"/>
<text x="559.50" y="292.90" font-size="3.0" text-anchor="middle" fill="#333" transform="rotate(-90 559.50 292.90)">1.0</text>
<text x="610.60" y="387.60" font-size="3.3" text-anchor="middle" fill="#222" textLength="27.20" lengthAdjust="spacingAndGlyphs">False Positive Rate</text>
<text x="550.50" y="331.90" font-size="3.3" text-anchor="middle" fill="#222" textLength="25.00" lengthAdjust="spacingAndGlyphs" transform="rotate(-90 550.50 331.90)">True Positive Rate</text>
<rect x="605.40" y="356.70" width="52.30" height="16.70" fill="#ffffff" stroke="#444" stroke-width="0.4"/>
<line x1="608.20" y1="361.30" x2="614.40" y2="361.30" stroke="#f0524a" stroke-width="0.9"/>
<text x="616.00" y="362.30" font-size="2.8" fill="#333" textLength="39.80" lengthAdjust="spacingAndGlyphs">1-year ROC, AUC = 0.658</text>
<line x1="608.20" y1="365.30" x2="614.40" y2="365.30" stroke="#4a90d8" stroke-width="0.9"/>
<text x="616.00" y="366.30" font-size="2.8" fill="#333" textLength="39.80" lengthAdjust="spacingAndGlyphs">3-year ROC, AUC = 0.747</text>
<line x1="608.20" y1="369.30" x2="614.40" y2="369.30" stroke="#3cb043" stroke-width="0.9"/>
<text x="616.00" y="370.30" font-size="2.8" fill="#333" textLength="39.80" lengthAdjust="spacingAndGlyphs">5-year ROC, AUC = 0.825</text>
<text x="307.40" y="425.00" font-size="4.4" fill="#000" textLength="34.30" lengthAdjust="spacingAndGlyphs">Time Dependent ROC</text>
<line x1="307.40" y1="427.50" x2="307.40" y2="508.20" stroke="#222" stroke-width="0.5"/>
<line x1="307.40" y1="508.20" x2="383.00" y2="508.20" stroke="#222" stroke-width="0.5"/>
<line x1="306.50" y1="430.40" x2="307.40" y2="430.40" stroke="#333" stroke-width="0.35"/>
<text x="305.90" y="431.30" font-size="2.7" text-anchor="end" fill="#555" textLength="4.40" lengthAdjust="spacingAndGlyphs">1.00</text>
<line x1="306.50" y1="436.53" x2="307.40" y2="436.53" stroke="#333" stroke-width="0.35"/>
<text x="305.90" y="437.43" font-size="2.7" text-anchor="end" fill="#555" textLength="4.40" lengthAdjust="spacingAndGlyphs">0.95</text>
<line x1="306.50" y1="442.66" x2="307.40" y2="442.66" stroke="#333" stroke-width="0.35"/>
<text x="305.90" y="443.56" font-size="2.7" text-anchor="end" fill="#555" textLength="4.40" lengthAdjust="spacingAndGlyphs">0.90</text>
<line x1="306.50" y1="448.79" x2="307.40" y2="448.79" stroke="#333" stroke-width="0.35"/>
<text x="305.90" y="449.69" font-size="2.7" text-anchor="end" fill="#555" textLength="4.40" lengthAdjust="spacingAndGlyphs">0.85</text>
<line x1="306.50" y1="454.92" x2="307.40" y2="454.92" stroke="#333" stroke-width="0.35"/>
<text x="305.90" y="455.82" font-size="2.7" text-anchor="end" fill="#555" textLength="4.40" lengthAdjust="spacingAndGlyphs">0.80</text>
<line x1="306.50" y1="461.05" x2="307.40" y2="461.05" stroke="#333" stroke-width="0.35"/>
<text x="305.90" y="461.95" font-size="2.7" text-anchor="end" fill="#555" textLength="4.40" lengthAdjust="spacingAndGlyphs">0.75</text>
<line x1="306.50" y1="467.18" x2="307.40" y2="467.18" stroke="#333" stroke-width="0.35"/>
<text x="305.90" y="468.08" font-size="2.7" text-anchor="end" fill="#555" textLength="4.40" lengthAdjust="spacingAndGlyphs">0.70</text>
<line x1="306.50" y1="473.31" x2="307.40" y2="473.31" stroke="#333" stroke-width="0.35"/>
<text x="305.90" y="474.21" font-size="2.7" text-anchor="end" fill="#555" textLength="4.40" lengthAdjust="spacingAndGlyphs">0.65</text>
<line x1="306.50" y1="479.44" x2="307.40" y2="479.44" stroke="#333" stroke-width="0.35"/>
<text x="305.90" y="480.34" font-size="2.7" text-anchor="end" fill="#555" textLength="4.40" lengthAdjust="spacingAndGlyphs">0.60</text>
<line x1="306.50" y1="485.57" x2="307.40" y2="485.57" stroke="#333" stroke-width="0.35"/>
<text x="305.90" y="486.47" font-size="2.7" text-anchor="end" fill="#555" textLength="4.40" lengthAdjust="spacingAndGlyphs">0.55</text>
<line x1="306.50" y1="491.70" x2="307.40" y2="491.70" stroke="#333" stroke-width="0.35"/>
<text x="305.90" y="492.60" font-size="2.7" text-anchor="end" fill="#555" textLength="4.40" lengthAdjust="spacingAndGlyphs">0.50</text>
<line x1="306.50" y1="497.83" x2="307.40" y2="497.83" stroke="#333" stroke-width="0.35"/>
<text x="305.90" y="498.73" font-size="2.7" text-anchor="end" fill="#555" textLength="4.40" lengthAdjust="spacingAndGlyphs">0.45</text>
<line x1="306.50" y1="503.96" x2="307.40" y2="503.96" stroke="#333" stroke-width="0.35"/>
<text x="305.90" y="504.86" font-size="2.7" text-anchor="end" fill="#555" textLength="4.40" lengthAdjust="spacingAndGlyphs">0.40</text>
<line x1="310.80" y1="508.20" x2="310.80" y2="509.10" stroke="#333" stroke-width="0.35"/>
<text x="310.80" y="511.80" font-size="2.8" text-anchor="middle" fill="#555">0</text>
<line x1="325.10" y1="508.20" x2="325.10" y2="509.10" stroke="#333" stroke-width="0.35"/>
<text x="325.10" y="511.80" font-size="2.8" text-anchor="middle" fill="#555">25</text>
<line x1="339.30" y1="508.20" x2="339.30" y2="509.10" stroke="#333" stroke-width="0.35"/>
<text x="339.30" y="511.80" font-size="2.8" text-anchor="middle" fill="#555">50</text>
<line x1="353.80" y1="508.20" x2="353.80" y2="509.10" stroke="#333" stroke-width="0.35"/>
<text x="353.80" y="511.80" font-size="2.8" text-anchor="middle" fill="#555">75</text>
<line x1="368.00" y1="508.20" x2="368.00" y2="509.10" stroke="#333" stroke-width="0.35"/>
<text x="368.00" y="511.80" font-size="2.8" text-anchor="middle" fill="#555">100</text>
<line x1="382.60" y1="508.20" x2="382.60" y2="509.10" stroke="#333" stroke-width="0.35"/>
<text x="382.60" y="511.80" font-size="2.8" text-anchor="middle" fill="#555">125</text>
<text x="345.20" y="514.80" font-size="3.3" text-anchor="middle" fill="#111" textLength="18.00" lengthAdjust="spacingAndGlyphs">Time(months)</text>
<text x="299.00" y="468.60" font-size="2.7" text-anchor="middle" fill="#222" transform="rotate(-90 299.00 468.60)">AUC</text>
<line x1="307.90" y1="430.40" x2="383.00" y2="430.40" stroke="#111" stroke-width="1.0" stroke-dasharray="2.4,1.6"/>
<polyline points="310.81,457.86 312.18,458.89 313.04,460.05 313.90,460.96 314.76,461.29 315.62,462.16 316.48,462.52 317.34,463.02 318.48,462.72 319.63,462.13 320.77,462.33 321.85,462.53 322.92,463.04 323.99,462.97 325.07,463.53 326.14,463.52 327.22,463.53 328.29,464.15 329.36,464.05 330.22,463.93 331.08,463.66 331.94,463.02 332.46,462.63 332.97,461.69 333.49,461.08 334.00,459.58 334.52,459.24 335.55,458.92 336.58,458.67 337.61,458.49 338.64,458.46 339.67,458.38 340.70,458.49 341.74,458.89 342.77,458.52 343.80,458.66 344.83,458.89 345.81,459.24 346.79,458.48 347.77,458.46 348.76,458.47 349.74,459.15 350.72,459.13 351.70,458.89 352.56,459.32 353.42,459.32 354.28,460.14 355.14,459.95 356.00,460.87 356.86,460.96 357.71,461.75 358.57,461.91 359.43,461.67 360.29,462.33 361.44,461.97 362.58,461.80 363.73,461.81 363.94,461.11 364.16,459.88 364.37,458.52 364.59,457.52 365.23,456.68 365.88,455.85 366.52,455.79 367.16,454.94 368.31,454.55 369.46,454.72 370.60,454.43 371.75,454.64 372.89,454.82 374.04,454.94 374.47,456.22 374.90,456.26 375.33,457.22 375.76,458.38 376.62,459.34 377.47,460.10 378.33,459.22 379.19,459.24" fill="none" stroke="#f6a590" stroke-width="0.5" stroke-linejoin="round"/>
<polyline points="310.81,464.39 311.32,463.09 311.84,462.33 313.04,463.02 313.38,463.63 313.73,464.49 314.07,466.02 314.42,466.63 314.76,467.83 315.40,468.42 316.05,469.59 316.69,470.36 317.34,471.26 318.20,471.81 319.05,471.83 319.91,472.20 320.77,472.98 321.92,472.64 323.06,472.33 324.21,472.64 325.28,472.70 326.36,473.02 327.43,473.28 328.51,473.84 329.65,473.42 330.80,473.55 331.94,472.98 332.63,472.31 333.32,471.67 334.00,470.66 334.69,470.09 335.38,469.55 336.45,469.24 337.53,469.53 338.60,469.02 339.67,468.69 340.53,468.66 341.39,468.86 342.25,469.49 343.11,469.94 343.97,470.15 344.83,470.41 345.81,470.95 346.79,470.69 347.77,470.36 348.76,470.52 349.74,470.99 350.72,471.30 351.70,471.26 352.73,471.08 353.76,470.57 354.79,470.38 355.82,470.41 356.86,470.41 357.89,470.69 358.92,470.66 359.95,470.78 360.98,471.17 362.01,471.26 362.87,470.70 363.73,469.55 364.16,470.21 364.59,471.26 365.23,471.50 365.88,472.31 366.52,472.93 367.16,473.84 368.02,473.83 368.88,474.65 369.74,474.95 370.60,475.56 371.75,475.70 372.89,475.69 374.04,476.42 374.90,476.46 375.76,477.28 376.62,478.05 377.47,478.14 377.90,479.13 378.33,479.64 378.76,480.56 379.19,481.57" fill="none" stroke="#3dbf9a" stroke-width="0.5" stroke-linejoin="round"/>
<polyline points="310.81,497.04 311.49,495.98 312.18,495.32 313.04,495.41 313.90,496.18 314.47,495.38 315.05,494.41 315.62,493.60 315.90,493.16 316.19,492.32 316.48,491.42 316.76,490.12 317.05,489.55 317.34,488.45 317.91,487.88 318.48,486.95 319.05,486.05 319.63,485.82 320.20,485.23 320.77,484.15 321.63,484.06 322.49,483.50 323.35,482.98 324.21,481.67 325.07,481.57 325.93,481.30 326.79,481.31 327.65,480.53 328.51,480.62 329.36,479.86 330.22,478.96 331.08,478.98 331.94,478.12 332.80,477.28 333.95,478.01 335.09,478.13 336.24,478.14 337.10,478.64 337.96,479.20 338.81,480.28 339.67,480.71 340.82,481.39 341.96,481.59 343.11,481.57 343.97,480.86 344.83,481.10 345.69,480.19 346.55,479.86 347.69,479.61 348.84,479.67 349.98,479.00 350.63,479.89 351.27,480.00 351.92,480.73 352.56,481.57 352.85,482.49 353.13,483.15 353.42,484.33 353.71,485.38 353.99,486.12 354.28,486.73 355.14,487.57 356.00,488.45 356.86,487.97 357.71,487.55 358.57,487.59 359.65,486.98 360.72,487.36 361.80,486.62 362.87,486.38 363.73,486.40 364.59,487.62 365.45,487.59 366.31,486.66 367.16,486.54 368.02,485.23 368.88,485.01 369.74,484.21 370.60,484.19 371.46,484.06 372.32,483.29 372.89,482.40 373.47,481.90 374.04,481.15 374.61,479.87 375.18,479.39 375.76,478.14 375.88,477.18 376.01,476.10 376.13,475.41 376.26,474.31 376.38,473.26 376.51,472.46 376.63,471.92 376.76,470.33 376.88,469.68 377.01,468.42 377.13,467.83 378.33,466.97 378.48,468.11 378.62,469.11 378.76,470.04 378.91,471.01 379.05,471.65 379.19,472.98" fill="none" stroke="#70d0d8" stroke-width="0.5" stroke-linejoin="round"/>
<polyline points="310.81,476.42 311.27,477.41 311.72,478.37 312.18,479.00 312.61,479.82 313.04,480.94 313.47,481.80 313.90,482.55 314.33,483.58 314.76,484.15 315.27,485.29 315.79,485.59 316.31,486.59 316.82,488.01 317.34,488.45 318.20,489.47 319.05,490.04 319.91,490.57 320.77,491.02 321.42,491.46 322.06,492.05 322.71,493.28 323.35,493.60 324.21,493.04 325.07,492.69 325.93,492.74 327.07,493.03 328.22,493.48 329.36,493.60 330.22,492.89 331.08,493.00 331.94,491.96 332.80,491.88 333.66,491.09 334.52,491.16 335.38,490.16 336.24,490.16 337.10,491.03 337.96,490.89 338.81,491.79 339.67,491.88 340.53,492.47 341.39,492.60 342.25,493.35 343.11,493.60 343.97,494.53 344.83,494.97 345.69,495.31 346.55,496.18 347.41,496.61 348.26,497.40 349.12,497.79 349.98,498.76 350.84,498.21 351.70,497.48 352.56,496.43 353.42,496.18 353.76,495.30 354.11,494.18 354.45,493.24 354.79,492.78 355.14,491.88 355.71,490.76 356.28,490.20 356.86,489.65 357.43,488.20 358.00,487.89 358.57,486.73 359.72,486.65 360.86,486.38 362.01,485.87 363.16,485.85 364.30,486.78 365.45,486.73 366.31,486.91 367.16,487.79 368.02,488.41 368.88,488.45 370.03,488.48 371.17,489.06 372.32,489.31 373.18,490.13 374.04,490.16 374.21,490.88 374.38,491.95 374.55,493.64 374.73,494.59 374.90,495.32 375.18,496.41 375.47,497.34 375.76,497.84 376.04,498.45 376.33,499.18 376.62,500.47 376.83,501.91 377.04,502.81 377.26,503.66 377.47,504.77 377.62,503.72 377.76,502.84 377.90,501.80 378.05,500.39 378.19,499.33 378.33,498.76" fill="none" stroke="#6e78b8" stroke-width="0.5" stroke-linejoin="round"/>
<polyline points="310.81,493.60 310.92,492.33 311.04,491.94 311.15,490.77 311.27,490.12 311.38,489.06 311.49,487.99 311.61,487.13 311.72,485.53 311.84,485.01 313.04,484.15 313.61,485.00 314.19,485.80 314.76,486.73 315.40,487.58 316.05,488.32 316.69,489.28 317.34,490.16 318.20,490.91 319.05,491.90 319.91,491.85 320.77,492.74 321.42,493.07 322.06,494.00 322.71,494.38 323.35,495.32 324.21,495.56 325.07,495.69 325.93,496.18 326.79,496.25 327.65,496.68 328.51,497.10 329.36,497.90 330.22,498.32 331.08,499.20 331.94,499.62 332.80,499.75 333.66,500.54 334.52,500.47 335.66,500.04 336.81,500.08 337.96,500.13 338.81,499.67 339.67,499.62 340.53,498.90 341.39,498.76 342.54,499.03 343.68,499.10 344.83,499.62 345.97,499.93 347.12,500.15 348.26,500.47 349.41,500.59 350.56,499.93 351.70,499.62 351.96,498.75 352.22,497.40 352.47,496.65 352.73,496.18 352.99,495.06 353.25,494.38 353.51,493.13 353.76,492.41 354.02,491.04 354.28,490.16 355.14,489.73 356.00,489.21 356.86,489.45 357.71,488.57 358.57,488.45 359.72,488.63 360.86,489.02 362.01,488.79 362.87,489.05 363.73,489.80 364.59,489.68 365.45,490.16 366.59,490.04 367.74,490.13 368.88,490.16 369.74,490.66 370.60,490.66 371.46,491.90 372.32,491.88 373.18,492.78 374.04,493.60 374.47,494.77 374.90,494.89 375.33,496.52 375.76,497.04 375.95,497.57 376.15,498.91 376.35,500.14 376.54,501.40 376.74,502.11 376.93,502.76 377.13,503.91 377.37,502.78 377.61,501.79 377.85,501.06 378.09,500.23 378.33,498.76 378.62,497.87 378.91,496.97 379.19,496.18" fill="none" stroke="#f07f7a" stroke-width="0.5" stroke-linejoin="round"/>
<text x="386.00" y="456.00" font-size="3.1" fill="#111">model</text>
<line x1="386.80" y1="460.30" x2="390.70" y2="460.30" stroke="#f07f7a" stroke-width="0.8"/>
<text x="392.60" y="461.30" font-size="2.9" fill="#333" textLength="10.00" lengthAdjust="spacingAndGlyphs">N_Stage</text>
<line x1="386.80" y1="465.02" x2="390.70" y2="465.02" stroke="#70d0d8" stroke-width="0.8"/>
<text x="392.60" y="466.02" font-size="2.9" fill="#333" textLength="9.50" lengthAdjust="spacingAndGlyphs">T_Stage</text>
<line x1="386.80" y1="469.74" x2="390.70" y2="469.74" stroke="#3dbf9a" stroke-width="0.8"/>
<text x="392.60" y="470.74" font-size="2.9" fill="#333" textLength="14.60" lengthAdjust="spacingAndGlyphs">Chemotherapy</text>
<line x1="386.80" y1="474.46" x2="390.70" y2="474.46" stroke="#6e78b8" stroke-width="0.8"/>
<text x="392.60" y="475.46" font-size="2.9" fill="#333" textLength="14.60" lengthAdjust="spacingAndGlyphs">Surgery_Type</text>
<line x1="386.80" y1="479.18" x2="390.70" y2="479.18" stroke="#f6a590" stroke-width="0.8"/>
<text x="392.60" y="480.18" font-size="2.9" fill="#333" textLength="11.20" lengthAdjust="spacingAndGlyphs">ML_model</text>
<text x="433.60" y="425.00" font-size="4.4" fill="#000" textLength="34.40" lengthAdjust="spacingAndGlyphs">Time Dependent ROC</text>
<line x1="433.60" y1="427.50" x2="433.60" y2="509.90" stroke="#222" stroke-width="0.5"/>
<line x1="433.60" y1="509.90" x2="509.20" y2="509.90" stroke="#222" stroke-width="0.5"/>
<line x1="432.70" y1="430.40" x2="433.60" y2="430.40" stroke="#333" stroke-width="0.35"/>
<text x="432.10" y="431.30" font-size="2.7" text-anchor="end" fill="#555" textLength="4.40" lengthAdjust="spacingAndGlyphs">1.00</text>
<line x1="432.70" y1="436.81" x2="433.60" y2="436.81" stroke="#333" stroke-width="0.35"/>
<text x="432.10" y="437.71" font-size="2.7" text-anchor="end" fill="#555" textLength="4.40" lengthAdjust="spacingAndGlyphs">0.95</text>
<line x1="432.70" y1="443.22" x2="433.60" y2="443.22" stroke="#333" stroke-width="0.35"/>
<text x="432.10" y="444.12" font-size="2.7" text-anchor="end" fill="#555" textLength="4.40" lengthAdjust="spacingAndGlyphs">0.90</text>
<line x1="432.70" y1="449.63" x2="433.60" y2="449.63" stroke="#333" stroke-width="0.35"/>
<text x="432.10" y="450.53" font-size="2.7" text-anchor="end" fill="#555" textLength="4.40" lengthAdjust="spacingAndGlyphs">0.85</text>
<line x1="432.70" y1="456.04" x2="433.60" y2="456.04" stroke="#333" stroke-width="0.35"/>
<text x="432.10" y="456.94" font-size="2.7" text-anchor="end" fill="#555" textLength="4.40" lengthAdjust="spacingAndGlyphs">0.80</text>
<line x1="432.70" y1="462.45" x2="433.60" y2="462.45" stroke="#333" stroke-width="0.35"/>
<text x="432.10" y="463.35" font-size="2.7" text-anchor="end" fill="#555" textLength="4.40" lengthAdjust="spacingAndGlyphs">0.75</text>
<line x1="432.70" y1="468.86" x2="433.60" y2="468.86" stroke="#333" stroke-width="0.35"/>
<text x="432.10" y="469.76" font-size="2.7" text-anchor="end" fill="#555" textLength="4.40" lengthAdjust="spacingAndGlyphs">0.70</text>
<line x1="432.70" y1="475.27" x2="433.60" y2="475.27" stroke="#333" stroke-width="0.35"/>
<text x="432.10" y="476.17" font-size="2.7" text-anchor="end" fill="#555" textLength="4.40" lengthAdjust="spacingAndGlyphs">0.65</text>
<line x1="432.70" y1="481.68" x2="433.60" y2="481.68" stroke="#333" stroke-width="0.35"/>
<text x="432.10" y="482.58" font-size="2.7" text-anchor="end" fill="#555" textLength="4.40" lengthAdjust="spacingAndGlyphs">0.60</text>
<line x1="432.70" y1="488.09" x2="433.60" y2="488.09" stroke="#333" stroke-width="0.35"/>
<text x="432.10" y="488.99" font-size="2.7" text-anchor="end" fill="#555" textLength="4.40" lengthAdjust="spacingAndGlyphs">0.55</text>
<line x1="432.70" y1="494.50" x2="433.60" y2="494.50" stroke="#333" stroke-width="0.35"/>
<text x="432.10" y="495.40" font-size="2.7" text-anchor="end" fill="#555" textLength="4.40" lengthAdjust="spacingAndGlyphs">0.50</text>
<line x1="432.70" y1="500.91" x2="433.60" y2="500.91" stroke="#333" stroke-width="0.35"/>
<text x="432.10" y="501.81" font-size="2.7" text-anchor="end" fill="#555" textLength="4.40" lengthAdjust="spacingAndGlyphs">0.45</text>
<line x1="432.70" y1="507.32" x2="433.60" y2="507.32" stroke="#333" stroke-width="0.35"/>
<text x="432.10" y="508.22" font-size="2.7" text-anchor="end" fill="#555" textLength="4.40" lengthAdjust="spacingAndGlyphs">0.40</text>
<line x1="436.20" y1="509.90" x2="436.20" y2="510.80" stroke="#333" stroke-width="0.35"/>
<text x="436.20" y="513.50" font-size="2.8" text-anchor="middle" fill="#555">0</text>
<line x1="450.80" y1="509.90" x2="450.80" y2="510.80" stroke="#333" stroke-width="0.35"/>
<text x="450.80" y="513.50" font-size="2.8" text-anchor="middle" fill="#555">25</text>
<line x1="465.40" y1="509.90" x2="465.40" y2="510.80" stroke="#333" stroke-width="0.35"/>
<text x="465.40" y="513.50" font-size="2.8" text-anchor="middle" fill="#555">50</text>
<line x1="479.60" y1="509.90" x2="479.60" y2="510.80" stroke="#333" stroke-width="0.35"/>
<text x="479.60" y="513.50" font-size="2.8" text-anchor="middle" fill="#555">75</text>
<line x1="493.70" y1="509.90" x2="493.70" y2="510.80" stroke="#333" stroke-width="0.35"/>
<text x="493.70" y="513.50" font-size="2.8" text-anchor="middle" fill="#555">100</text>
<line x1="508.30" y1="509.90" x2="508.30" y2="510.80" stroke="#333" stroke-width="0.35"/>
<text x="508.30" y="513.50" font-size="2.8" text-anchor="middle" fill="#555">125</text>
<text x="473.50" y="516.50" font-size="3.3" text-anchor="middle" fill="#111" textLength="18.00" lengthAdjust="spacingAndGlyphs">Time(months)</text>
<text x="425.20" y="469.45" font-size="2.7" text-anchor="middle" fill="#222" transform="rotate(-90 425.20 469.45)">AUC</text>
<line x1="434.10" y1="430.40" x2="509.20" y2="430.40" stroke="#111" stroke-width="1.0" stroke-dasharray="2.4,1.6"/>
<polyline points="436.17,458.38 437.03,458.54 437.89,459.24 438.32,460.09 438.75,460.54 439.18,461.92 439.60,462.67 440.25,463.67 440.89,464.36 441.54,464.87 442.18,465.25 443.04,464.62 443.90,464.44 444.76,464.39 445.62,463.47 446.48,463.27 447.34,462.29 448.20,461.81 449.05,461.09 449.91,461.45 450.77,460.96 451.63,460.31 452.49,460.78 453.35,460.10 454.21,459.48 455.07,459.08 455.93,459.24 457.07,459.08 458.22,459.06 459.36,458.38 460.40,458.53 461.43,458.22 462.46,458.80 463.49,458.44 464.52,458.89 465.55,458.87 466.58,458.38 467.61,458.55 468.64,458.38 469.67,458.38 470.70,458.30 471.74,458.35 472.77,457.80 473.80,457.06 474.83,457.18 475.86,457.83 476.89,457.73 477.92,458.07 478.95,458.14 479.98,458.38 480.84,459.22 481.70,459.95 482.56,460.19 483.42,460.96 484.11,461.45 484.79,462.36 485.48,462.79 486.17,464.00 486.86,464.39 487.54,465.40 488.23,465.53 488.92,466.41 489.60,467.13 490.29,467.83 491.15,468.26 492.01,468.67 492.87,469.55 493.73,470.35 494.59,471.26 495.02,470.40 495.45,469.40 495.88,468.51 496.31,467.83 497.16,467.02 498.02,466.11 498.67,465.48 499.31,464.15 499.96,463.24 500.60,462.67 501.75,462.66 502.89,462.83 504.04,463.53 504.38,464.68 504.73,465.11 505.07,465.97 505.41,467.16 505.76,467.83 506.04,469.31 506.33,469.71 506.62,471.26" fill="none" stroke="#f6a590" stroke-width="0.5" stroke-linejoin="round"/>
<polyline points="436.17,467.83 436.60,466.63 437.03,466.11 437.89,465.30 438.75,465.25 439.09,465.93 439.43,466.78 439.78,467.56 440.12,468.29 440.46,469.55 441.15,470.28 441.84,470.98 442.53,471.70 443.21,472.42 443.90,472.98 444.76,473.17 445.62,473.75 446.48,473.90 447.34,474.70 448.37,474.30 449.40,474.00 450.43,474.00 451.46,473.92 452.49,473.84 453.64,473.87 454.78,473.48 455.93,472.98 456.79,473.52 457.65,473.47 458.51,473.79 459.36,473.96 460.22,474.84 461.08,474.70 461.94,475.43 462.80,475.30 463.66,475.74 464.52,475.75 465.38,476.06 466.24,476.42 467.10,476.51 467.96,476.95 468.81,478.07 469.67,478.14 470.82,478.06 471.96,477.75 473.11,477.28 474.26,477.12 475.40,478.14 476.55,478.14 477.41,479.00 478.26,478.72 479.12,479.22 479.98,479.86 480.67,480.39 481.36,480.90 482.04,481.86 482.73,482.40 483.42,483.29 484.28,484.27 485.14,484.64 486.00,485.57 486.86,485.87 487.71,486.01 488.57,486.56 489.43,487.46 490.29,487.59 491.15,488.46 492.01,489.25 492.87,489.52 493.73,490.16 494.16,490.60 494.59,492.25 495.02,493.18 495.45,493.60 495.88,494.87 496.31,495.01 496.74,495.95 497.16,497.04 498.31,496.58 499.46,496.20 500.60,496.18 501.17,495.49 501.75,494.23 502.32,493.60 503.47,493.89 504.61,493.83 505.76,493.60" fill="none" stroke="#3dbf9a" stroke-width="0.5" stroke-linejoin="round"/>
<polyline points="436.17,498.76 437.03,499.54 437.89,500.47 438.75,500.07 439.60,499.62 440.18,500.56 440.75,501.25 441.32,502.19 441.65,501.46 441.97,500.38 442.29,499.97 442.61,498.42 442.93,498.31 443.26,497.36 443.58,495.80 443.90,495.32 444.76,494.85 445.62,494.84 446.48,494.34 447.34,493.60 447.91,492.56 448.48,492.52 449.05,490.89 449.63,490.60 450.20,489.48 450.77,489.32 451.35,488.02 451.92,487.68 452.49,486.73 453.35,486.58 454.21,486.51 455.07,485.96 455.93,485.51 456.79,485.56 457.65,485.01 458.68,485.38 459.71,485.77 460.74,485.78 461.77,485.45 462.80,485.87 463.78,486.06 464.76,485.94 465.75,485.99 466.73,485.93 467.71,485.92 468.69,486.22 469.67,486.38 470.66,485.89 471.64,486.19 472.62,486.45 473.60,486.28 474.58,486.15 475.56,485.81 476.55,485.87 477.41,485.82 478.26,486.59 479.12,486.63 479.98,487.06 480.84,487.07 481.70,487.59 482.85,488.18 483.99,487.84 485.14,488.45 486.00,488.86 486.86,489.04 487.71,489.91 488.57,490.16 489.72,489.98 490.86,489.91 492.01,489.31 492.87,488.78 493.73,488.52 494.59,487.67 495.45,487.59 496.31,487.58 497.16,487.18 498.02,486.83 498.88,486.75 499.74,486.06 500.60,485.87 501.75,485.48 502.89,485.99 504.04,485.87 504.38,486.83 504.73,487.74 505.07,488.79 505.41,489.74 505.76,490.16" fill="none" stroke="#70d0d8" stroke-width="0.5" stroke-linejoin="round"/>
<polyline points="436.17,478.14 437.03,478.82 437.89,479.86 438.75,480.36 439.60,480.57 440.46,480.71 441.61,480.84 442.75,481.07 443.90,481.57 444.47,480.76 445.05,479.99 445.62,478.78 446.19,478.56 446.76,477.12 447.34,476.42 448.48,476.01 449.63,476.27 450.77,476.42 451.63,476.53 452.49,475.96 453.35,475.94 454.21,475.72 455.07,475.33 455.93,474.70 456.96,474.77 457.99,474.44 459.02,475.12 460.05,474.69 461.08,474.70 461.94,474.75 462.80,475.28 463.66,475.29 464.52,475.94 465.38,476.56 466.24,476.42 467.10,476.63 467.96,477.26 468.81,477.44 469.67,477.69 470.53,477.60 471.39,478.14 472.42,478.22 473.45,477.99 474.48,477.44 475.52,477.24 476.55,477.28 477.69,477.38 478.84,477.71 479.98,477.28 480.33,476.50 480.67,475.31 481.01,475.09 481.36,473.88 481.70,472.98 482.56,472.73 483.42,471.98 484.28,471.51 485.14,471.26 486.00,470.42 486.86,470.00 487.71,469.71 488.57,469.82 489.43,469.41 490.29,468.69 491.44,468.24 492.58,467.85 493.73,467.83 494.59,467.56 495.45,467.00 496.31,466.69 497.16,466.11 497.85,465.66 498.54,464.39 499.23,464.37 499.91,463.07 500.60,462.67 501.75,462.37 502.89,462.75 504.04,462.67 505.76,462.67" fill="none" stroke="#6e78b8" stroke-width="0.5" stroke-linejoin="round"/>
<polyline points="436.17,500.47 436.45,501.82 436.74,503.00 437.03,503.91 437.46,503.11 437.89,502.23 438.32,501.74 438.75,500.47 439.18,499.73 439.60,498.86 440.03,497.53 440.46,497.04 441.15,496.28 441.84,495.66 442.53,494.70 443.21,494.27 443.90,493.60 445.05,494.16 446.19,493.86 447.34,494.46 448.20,493.69 449.05,492.76 449.91,492.75 450.77,491.88 451.63,491.17 452.49,490.63 453.35,490.38 454.21,490.16 455.07,490.29 455.93,489.88 456.79,489.06 457.65,489.39 458.51,488.90 459.36,488.45 460.40,488.31 461.43,488.62 462.46,488.73 463.49,488.35 464.52,488.45 465.55,488.13 466.58,488.75 467.61,488.39 468.64,488.02 469.67,488.45 470.53,487.88 471.39,487.50 472.25,487.22 473.11,487.52 473.97,487.25 474.83,486.73 475.69,486.43 476.55,486.03 477.41,485.65 478.26,485.87 479.12,485.64 479.98,485.01 480.67,485.73 481.36,486.81 482.04,487.30 482.73,487.68 483.42,488.45 484.28,488.74 485.14,489.29 486.00,489.63 486.86,490.16 487.71,490.14 488.57,489.16 489.43,488.62 490.29,488.45 491.44,488.77 492.58,488.44 493.73,488.45 494.87,487.81 496.02,488.17 497.16,487.59 498.31,487.45 499.46,488.00 500.60,487.59 501.75,487.91 502.89,487.98 504.04,487.59 504.61,488.26 505.18,489.37 505.76,490.16" fill="none" stroke="#f07f7a" stroke-width="0.5" stroke-linejoin="round"/>
<text x="513.50" y="456.00" font-size="3.1" fill="#111">model</text>
<line x1="514.30" y1="460.30" x2="518.20" y2="460.30" stroke="#f07f7a" stroke-width="0.8"/>
<text x="520.10" y="461.30" font-size="2.9" fill="#333" textLength="10.00" lengthAdjust="spacingAndGlyphs">N_Stage</text>
<line x1="514.30" y1="465.02" x2="518.20" y2="465.02" stroke="#70d0d8" stroke-width="0.8"/>
<text x="520.10" y="466.02" font-size="2.9" fill="#333" textLength="9.50" lengthAdjust="spacingAndGlyphs">T_Stage</text>
<line x1="514.30" y1="469.74" x2="518.20" y2="469.74" stroke="#3dbf9a" stroke-width="0.8"/>
<text x="520.10" y="470.74" font-size="2.9" fill="#333" textLength="14.60" lengthAdjust="spacingAndGlyphs">Chemotherapy</text>
<line x1="514.30" y1="474.46" x2="518.20" y2="474.46" stroke="#6e78b8" stroke-width="0.8"/>
<text x="520.10" y="475.46" font-size="2.9" fill="#333" textLength="14.60" lengthAdjust="spacingAndGlyphs">Surgery_Type</text>
<line x1="514.30" y1="479.18" x2="518.20" y2="479.18" stroke="#f6a590" stroke-width="0.8"/>
<text x="520.10" y="480.18" font-size="2.9" fill="#333" textLength="11.20" lengthAdjust="spacingAndGlyphs">ML_model</text>
<text x="560.50" y="425.00" font-size="4.4" fill="#000" textLength="34.70" lengthAdjust="spacingAndGlyphs">Time Dependent ROC</text>
<line x1="560.50" y1="427.50" x2="560.50" y2="508.20" stroke="#222" stroke-width="0.5"/>
<line x1="560.50" y1="508.20" x2="636.50" y2="508.20" stroke="#222" stroke-width="0.5"/>
<line x1="559.60" y1="430.40" x2="560.50" y2="430.40" stroke="#333" stroke-width="0.35"/>
<text x="559.00" y="431.30" font-size="2.7" text-anchor="end" fill="#555" textLength="4.40" lengthAdjust="spacingAndGlyphs">1.00</text>
<line x1="559.60" y1="437.67" x2="560.50" y2="437.67" stroke="#333" stroke-width="0.35"/>
<text x="559.00" y="438.57" font-size="2.7" text-anchor="end" fill="#555" textLength="4.40" lengthAdjust="spacingAndGlyphs">0.95</text>
<line x1="559.60" y1="444.94" x2="560.50" y2="444.94" stroke="#333" stroke-width="0.35"/>
<text x="559.00" y="445.84" font-size="2.7" text-anchor="end" fill="#555" textLength="4.40" lengthAdjust="spacingAndGlyphs">0.90</text>
<line x1="559.60" y1="452.21" x2="560.50" y2="452.21" stroke="#333" stroke-width="0.35"/>
<text x="559.00" y="453.11" font-size="2.7" text-anchor="end" fill="#555" textLength="4.40" lengthAdjust="spacingAndGlyphs">0.85</text>
<line x1="559.60" y1="459.48" x2="560.50" y2="459.48" stroke="#333" stroke-width="0.35"/>
<text x="559.00" y="460.38" font-size="2.7" text-anchor="end" fill="#555" textLength="4.40" lengthAdjust="spacingAndGlyphs">0.80</text>
<line x1="559.60" y1="466.75" x2="560.50" y2="466.75" stroke="#333" stroke-width="0.35"/>
<text x="559.00" y="467.65" font-size="2.7" text-anchor="end" fill="#555" textLength="4.40" lengthAdjust="spacingAndGlyphs">0.75</text>
<line x1="559.60" y1="474.02" x2="560.50" y2="474.02" stroke="#333" stroke-width="0.35"/>
<text x="559.00" y="474.92" font-size="2.7" text-anchor="end" fill="#555" textLength="4.40" lengthAdjust="spacingAndGlyphs">0.70</text>
<line x1="559.60" y1="481.29" x2="560.50" y2="481.29" stroke="#333" stroke-width="0.35"/>
<text x="559.00" y="482.19" font-size="2.7" text-anchor="end" fill="#555" textLength="4.40" lengthAdjust="spacingAndGlyphs">0.65</text>
<line x1="559.60" y1="488.56" x2="560.50" y2="488.56" stroke="#333" stroke-width="0.35"/>
<text x="559.00" y="489.46" font-size="2.7" text-anchor="end" fill="#555" textLength="4.40" lengthAdjust="spacingAndGlyphs">0.60</text>
<line x1="559.60" y1="495.83" x2="560.50" y2="495.83" stroke="#333" stroke-width="0.35"/>
<text x="559.00" y="496.73" font-size="2.7" text-anchor="end" fill="#555" textLength="4.40" lengthAdjust="spacingAndGlyphs">0.55</text>
<line x1="559.60" y1="503.10" x2="560.50" y2="503.10" stroke="#333" stroke-width="0.35"/>
<text x="559.00" y="504.00" font-size="2.7" text-anchor="end" fill="#555" textLength="4.40" lengthAdjust="spacingAndGlyphs">0.50</text>
<line x1="564.70" y1="508.20" x2="564.70" y2="509.10" stroke="#333" stroke-width="0.35"/>
<text x="564.70" y="511.80" font-size="2.8" text-anchor="middle" fill="#555">0</text>
<line x1="578.90" y1="508.20" x2="578.90" y2="509.10" stroke="#333" stroke-width="0.35"/>
<text x="578.90" y="511.80" font-size="2.8" text-anchor="middle" fill="#555">25</text>
<line x1="593.20" y1="508.20" x2="593.20" y2="509.10" stroke="#333" stroke-width="0.35"/>
<text x="593.20" y="511.80" font-size="2.8" text-anchor="middle" fill="#555">50</text>
<line x1="607.60" y1="508.20" x2="607.60" y2="509.10" stroke="#333" stroke-width="0.35"/>
<text x="607.60" y="511.80" font-size="2.8" text-anchor="middle" fill="#555">75</text>
<line x1="621.90" y1="508.20" x2="621.90" y2="509.10" stroke="#333" stroke-width="0.35"/>
<text x="621.90" y="511.80" font-size="2.8" text-anchor="middle" fill="#555">100</text>
<line x1="636.10" y1="508.20" x2="636.10" y2="509.10" stroke="#333" stroke-width="0.35"/>
<text x="636.10" y="511.80" font-size="2.8" text-anchor="middle" fill="#555">125</text>
<text x="600.00" y="514.80" font-size="3.3" text-anchor="middle" fill="#111" textLength="18.00" lengthAdjust="spacingAndGlyphs">Time(months)</text>
<text x="552.10" y="468.60" font-size="2.7" text-anchor="middle" fill="#222" transform="rotate(-90 552.10 468.60)">ROC</text>
<line x1="561.00" y1="430.40" x2="636.50" y2="430.40" stroke="#111" stroke-width="1.0" stroke-dasharray="2.4,1.6"/>
<polyline points="564.65,467.83 565.00,467.20 565.34,465.70 565.68,465.25 566.89,466.11 567.32,467.18 567.75,467.38 568.18,469.08 568.60,469.55 569.46,469.02 570.32,467.83 571.18,467.23 572.04,466.11 572.47,465.02 572.90,464.78 573.33,463.15 573.76,462.67 574.62,461.46 575.48,460.96 575.91,461.58 576.34,462.66 576.77,463.21 577.20,464.39 577.77,465.42 578.34,466.11 578.91,466.97 579.56,467.23 580.20,468.04 580.85,469.17 581.49,469.55 582.14,469.90 582.78,471.16 583.42,471.91 584.07,472.12 584.93,472.80 585.79,472.33 586.65,472.98 588.36,472.98 588.41,471.96 588.45,471.34 588.49,470.24 588.54,469.18 588.58,468.33 588.62,467.30 588.66,465.96 588.71,465.25 589.68,465.23 590.66,464.97 591.63,464.99 592.60,465.61 593.58,465.48 594.55,465.73 595.52,465.34 596.50,465.80 597.47,465.78 598.44,465.98 599.42,466.00 600.39,465.77 601.25,466.55 602.11,466.89 602.97,466.97 603.26,468.20 603.54,468.25 603.83,469.55 604.81,469.71 605.79,469.58 606.77,469.70 607.76,469.82 608.74,469.53 609.72,469.88 610.70,469.55 611.13,470.10 611.56,471.56 611.99,472.41 612.42,472.98 613.71,473.19 615.00,472.98 615.28,474.03 615.57,474.90 615.86,476.42 617.14,476.75 618.43,476.42 618.54,475.67 618.65,474.83 618.76,473.23 618.86,472.91 618.97,471.18 619.08,470.17 619.18,470.07 619.29,468.69 619.58,467.94 619.86,466.94 620.15,465.80 620.44,464.37 620.72,463.90 621.01,462.67 621.30,461.69 621.58,460.22 621.87,459.24 622.08,458.09 622.30,457.49 622.51,455.82 622.73,454.94 624.45,454.43 625.39,454.16 626.34,454.72 627.28,454.38 628.23,454.43 628.23,455.61 628.23,456.52 628.23,457.00 628.23,457.92 628.23,459.45 628.23,459.98 628.23,460.74 628.23,461.58 628.23,462.49 628.23,463.35 628.23,464.56 628.23,465.72 628.23,466.96 628.23,467.44 628.23,468.07 628.23,469.02 628.23,469.85 628.23,471.43 628.23,472.12 629.19,471.77 630.15,472.40 631.11,472.44 632.08,471.74 633.04,472.12" fill="none" stroke="#f6a590" stroke-width="0.5" stroke-linejoin="round"/>
<polyline points="564.65,478.14 564.77,476.86 564.88,476.21 565.00,475.60 565.11,474.62 565.23,473.58 565.34,472.21 565.45,471.36 565.57,470.78 565.68,469.55 566.29,468.26 566.89,467.83 567.13,468.56 567.37,470.34 567.61,470.76 567.85,471.55 568.09,472.98 568.43,472.55 568.78,471.16 569.12,470.47 569.46,469.55 570.32,468.44 571.18,467.83 571.43,468.47 571.67,470.06 571.92,470.71 572.16,471.32 572.41,472.94 572.65,474.10 572.90,474.70 573.24,474.23 573.59,473.32 573.93,472.51 574.27,471.37 574.62,470.41 575.48,470.56 576.34,471.26 577.20,470.64 578.05,469.72 578.91,469.55 579.77,469.92 580.63,471.01 581.49,471.26 582.35,472.24 583.21,472.05 584.07,472.98 584.93,473.03 585.79,473.20 586.65,473.84 587.51,473.52 588.36,472.98 588.41,472.41 588.46,470.86 588.51,470.31 588.56,468.93 588.61,467.98 588.66,467.27 588.71,466.11 589.67,465.73 590.63,466.35 591.59,466.34 592.56,466.30 593.52,466.11 594.50,465.95 595.48,466.53 596.46,466.32 597.45,466.80 598.43,466.30 599.41,466.58 600.39,466.97 601.54,467.30 602.68,467.14 603.83,467.83 604.69,468.33 605.55,468.29 606.41,468.90 607.26,469.55 607.61,468.69 608.52,468.96 609.44,469.12 610.36,469.00 611.27,468.81 612.19,468.34 613.11,468.47 614.02,468.81 614.94,468.91 615.86,468.69 615.94,467.49 616.03,467.01 616.11,465.77 616.20,464.69 616.29,463.76 616.37,463.04 616.46,462.15 616.54,461.25 616.63,460.38 616.71,459.24 617.00,458.53 617.29,456.79 617.57,455.80 617.70,456.42 617.82,457.93 617.94,458.50 618.06,459.40 618.19,460.52 618.31,462.14 618.43,462.67 619.29,463.97 620.15,464.39 621.01,464.57 621.87,465.32 622.73,466.11 623.59,466.42 624.45,466.84 625.31,466.65 626.16,467.47 627.02,467.47 627.88,467.83 627.92,466.65 627.96,466.02 628.00,464.83 628.04,463.67 628.07,463.33 628.11,462.53 628.15,461.31 628.19,459.90 628.23,459.24 629.19,459.15 630.15,459.67 631.11,459.01 632.08,458.93 633.04,459.24" fill="none" stroke="#3dbf9a" stroke-width="0.5" stroke-linejoin="round"/>
<polyline points="564.65,483.29 565.34,483.98 566.03,485.01 566.27,486.04 566.52,486.62 566.76,487.71 567.01,489.35 567.25,489.81 567.50,490.83 567.75,491.88 568.07,493.04 568.39,493.79 568.71,494.25 569.03,495.46 569.36,496.29 569.68,497.41 570.00,497.81 570.32,498.76 570.61,499.68 570.90,500.38 571.18,501.63 571.47,502.34 571.75,503.31 572.04,503.91 572.33,503.28 572.61,501.96 572.90,501.05 573.19,500.07 573.47,499.82 573.76,498.76 574.62,497.90 575.48,497.04 576.12,498.06 576.77,498.92 577.41,499.31 578.05,500.47 578.91,499.70 579.77,498.76 580.06,497.91 580.35,497.41 580.63,496.22 580.92,495.07 581.21,494.08 581.49,493.60 582.35,492.95 583.21,492.59 584.07,491.88 584.93,492.52 585.79,492.93 586.65,493.60 587.08,492.76 587.51,491.94 587.93,490.81 588.36,490.16 588.54,488.80 588.71,488.23 588.88,486.74 589.05,485.81 589.22,485.01 590.15,484.90 591.08,484.97 592.02,485.08 592.95,485.36 593.88,484.85 594.81,484.97 595.74,484.97 596.67,485.06 597.60,485.24 598.53,485.25 599.46,485.24 600.39,485.01 601.25,484.35 602.11,483.84 602.97,483.91 603.83,483.29 604.69,482.66 605.55,482.72 606.41,481.98 607.26,481.57 608.98,481.57 609.33,479.86 610.26,480.08 611.19,479.65 612.12,479.56 613.06,479.82 613.99,479.55 614.92,479.50 615.86,479.86 615.90,478.67 615.95,478.13 616.00,477.32 616.05,476.12 616.10,474.86 616.15,473.73 616.20,472.98 617.32,473.06 618.43,472.98 618.53,472.02 618.62,471.04 618.72,470.23 618.81,468.75 618.91,468.05 619.01,467.32 619.10,466.62 619.20,465.28 619.29,464.39 619.72,463.73 620.15,462.35 620.58,461.57 621.01,460.89 621.44,459.75 621.87,459.24 622.78,459.01 623.69,458.97 624.59,458.91 625.50,459.67 626.41,459.11 627.32,459.54 628.23,459.24 628.23,460.07 628.23,461.39 628.23,462.00 628.23,462.77 628.23,463.57 628.23,464.39 628.23,465.35 628.23,466.49 628.23,467.73 628.23,468.23 628.23,469.41 628.23,470.26 628.23,470.76 628.23,472.12 629.19,471.88 630.15,471.75 631.11,471.96 632.08,472.05 633.04,472.12" fill="none" stroke="#70d0d8" stroke-width="0.5" stroke-linejoin="round"/>
<polyline points="564.65,483.29 564.82,484.63 565.00,485.30 565.17,486.73 565.45,487.41 565.74,488.35 566.03,488.86 566.31,490.09 566.60,490.99 566.89,491.88 567.32,492.77 567.75,493.90 568.18,494.28 568.60,494.92 569.03,496.24 569.46,497.04 570.32,496.13 571.18,495.32 572.04,494.84 572.90,494.90 573.76,494.03 574.62,493.60 575.31,494.55 575.99,494.65 576.68,495.71 577.37,496.33 578.05,497.04 578.74,497.59 579.43,498.35 580.12,499.41 580.80,499.49 581.49,500.47 582.52,500.90 583.55,500.86 584.58,500.05 585.62,500.60 586.65,500.47 586.77,499.40 586.89,498.27 587.01,497.95 587.14,496.18 587.26,495.38 587.38,494.59 587.51,493.60 588.54,493.71 589.57,493.73 590.60,493.61 591.63,493.76 592.66,493.60 593.09,493.13 593.52,491.88 594.49,492.02 595.45,491.61 596.42,492.23 597.38,491.97 598.35,491.78 599.32,492.06 600.28,492.04 601.25,491.88 601.50,493.31 601.74,493.40 601.99,494.39 602.23,495.43 602.48,497.18 602.72,497.71 602.97,498.76 604.04,498.31 605.12,498.36 606.19,498.81 607.26,498.76 607.33,497.51 607.40,496.64 607.47,495.43 607.54,494.61 607.61,493.60 608.54,493.20 609.47,494.00 610.41,493.45 611.34,493.95 612.27,493.88 613.20,493.15 614.14,493.60 614.19,492.90 614.24,491.61 614.28,490.55 614.33,489.51 614.38,489.11 614.43,487.37 614.48,486.73 615.60,486.56 616.71,486.73 616.89,485.81 617.06,484.13 617.23,483.29 618.26,482.98 619.29,482.43 619.51,481.32 619.72,480.91 619.94,479.53 620.15,478.65 620.37,478.02 620.58,476.39 620.80,476.02 621.01,474.70 621.87,474.10 622.73,473.84 623.64,473.55 624.56,474.19 625.48,473.87 626.39,473.73 627.31,474.10 628.23,473.84 628.23,474.74 628.23,475.35 628.23,476.32 628.23,477.13 628.23,478.34 628.23,479.19 628.23,480.31 628.23,480.81 628.23,482.01 628.23,483.15 628.23,483.87 628.23,484.60 628.23,485.31 628.23,486.44 628.23,487.77 628.23,488.24 628.23,489.63 628.23,489.95 628.23,491.22 628.23,491.79 628.23,493.28 628.23,493.81 628.23,494.59 628.23,496.15 628.23,496.68 628.23,497.86 628.23,498.46 628.23,499.50 628.23,500.70 628.23,501.54 628.23,501.84 628.23,503.05 629.34,502.94 630.46,503.08 631.58,502.80 632.69,503.05" fill="none" stroke="#6e78b8" stroke-width="0.5" stroke-linejoin="round"/>
<polyline points="564.65,490.16 564.77,489.41 564.88,488.63 565.00,487.21 565.11,486.09 565.23,485.76 565.34,484.28 565.45,483.14 565.57,482.39 565.68,481.57 565.98,480.74 566.29,479.47 566.59,479.37 566.89,478.14 567.17,479.42 567.46,479.75 567.75,480.42 568.03,481.61 568.32,482.00 568.60,483.29 569.03,484.47 569.46,484.61 569.89,485.65 570.32,486.73 570.61,488.00 570.90,488.03 571.18,488.92 571.47,489.89 571.75,490.83 572.04,491.88 572.90,490.99 573.76,490.38 574.62,490.16 575.05,488.97 575.48,488.55 575.91,487.45 576.34,486.73 576.62,487.58 576.91,488.41 577.20,489.54 577.48,490.30 577.77,491.27 578.05,491.88 578.91,493.16 579.77,493.60 580.63,494.53 581.49,494.65 582.35,495.32 583.42,495.30 584.50,495.12 585.57,495.59 586.65,495.32 587.51,494.10 588.36,493.60 588.65,492.06 588.94,491.34 589.22,490.16 590.08,489.62 590.94,489.33 591.80,489.33 592.66,488.58 593.52,488.79 594.38,488.43 595.24,488.02 596.10,487.89 596.96,487.59 597.94,487.40 598.92,487.78 599.90,487.16 600.88,486.80 601.86,487.27 602.85,486.92 603.83,486.73 604.69,485.86 605.55,486.22 606.41,485.54 607.26,485.09 608.12,484.34 608.98,484.03 609.84,484.03 610.70,483.29 611.56,482.96 612.42,482.35 613.28,481.85 614.14,481.24 615.00,480.65 615.86,479.86 616.13,479.21 616.41,478.18 616.68,477.15 616.96,476.05 617.23,474.70 617.31,473.80 617.39,472.99 617.47,471.85 617.55,471.26 617.63,470.34 617.71,469.33 617.79,468.46 617.87,467.79 617.95,466.33 618.03,465.83 618.11,464.45 618.19,463.41 618.27,463.13 618.35,461.80 618.43,460.96 618.86,459.79 619.29,459.27 619.72,457.98 620.15,457.52 621.01,457.25 621.87,456.66 622.30,456.08 622.73,454.94 623.64,454.61 624.56,455.07 625.48,454.62 626.39,455.15 627.31,455.30 628.23,454.94 628.23,456.19 628.23,456.83 628.23,457.40 628.23,458.84 628.23,459.04 628.23,460.47 628.23,460.83 628.23,461.90 628.23,462.89 628.23,464.07 628.23,464.51 628.23,465.62 628.23,466.46 628.23,467.49 628.23,468.91 628.23,469.36 628.23,470.22 628.23,471.37 628.23,472.12 629.34,471.97 630.46,472.01 631.58,471.91 632.69,472.12" fill="none" stroke="#f07f7a" stroke-width="0.5" stroke-linejoin="round"/>
<text x="640.00" y="456.00" font-size="3.1" fill="#111">model</text>
<line x1="640.80" y1="460.30" x2="644.70" y2="460.30" stroke="#f07f7a" stroke-width="0.8"/>
<text x="646.60" y="461.30" font-size="2.9" fill="#333" textLength="10.00" lengthAdjust="spacingAndGlyphs">N_Stage</text>
<line x1="640.80" y1="465.02" x2="644.70" y2="465.02" stroke="#70d0d8" stroke-width="0.8"/>
<text x="646.60" y="466.02" font-size="2.9" fill="#333" textLength="9.50" lengthAdjust="spacingAndGlyphs">T_Stage</text>
<line x1="640.80" y1="469.74" x2="644.70" y2="469.74" stroke="#3dbf9a" stroke-width="0.8"/>
<text x="646.60" y="470.74" font-size="2.9" fill="#333" textLength="14.60" lengthAdjust="spacingAndGlyphs">Chemotherapy</text>
<line x1="640.80" y1="474.46" x2="644.70" y2="474.46" stroke="#6e78b8" stroke-width="0.8"/>
<text x="646.60" y="475.46" font-size="2.9" fill="#333" textLength="14.60" lengthAdjust="spacingAndGlyphs">Surgery_Type</text>
<line x1="640.80" y1="479.18" x2="644.70" y2="479.18" stroke="#f6a590" stroke-width="0.8"/>
<text x="646.60" y="480.18" font-size="2.9" fill="#333" textLength="11.20" lengthAdjust="spacingAndGlyphs">ML_model</text>
<text x="348.30" y="552.80" font-size="4.2" text-anchor="middle" font-weight="bold" fill="#111" textLength="28.00" lengthAdjust="spacingAndGlyphs">calibration plot</text>
<line x1="304.40" y1="638.30" x2="391.60" y2="562.10" stroke="#dadada" stroke-width="0.45"/>
<line x1="304.00" y1="559.90" x2="355.00" y2="559.90" stroke="#333" stroke-width="0.7"/>
<line x1="304.30" y1="559.40" x2="304.30" y2="562.60" stroke="#111" stroke-width="0.8"/>
<line x1="326.38" y1="559.90" x2="326.38" y2="561.08" stroke="#444" stroke-width="0.3"/>
<line x1="304.00" y1="559.90" x2="304.00" y2="561.09" stroke="#444" stroke-width="0.3"/>
<line x1="341.35" y1="559.90" x2="341.35" y2="561.19" stroke="#444" stroke-width="0.3"/>
<line x1="325.32" y1="559.90" x2="325.32" y2="560.83" stroke="#444" stroke-width="0.3"/>
<line x1="317.10" y1="559.90" x2="317.10" y2="561.12" stroke="#444" stroke-width="0.3"/>
<line x1="306.16" y1="559.90" x2="306.16" y2="560.94" stroke="#444" stroke-width="0.3"/>
<line x1="305.17" y1="559.90" x2="305.17" y2="561.82" stroke="#444" stroke-width="0.3"/>
<line x1="320.97" y1="559.90" x2="320.97" y2="561.32" stroke="#444" stroke-width="0.3"/>
<line x1="337.71" y1="559.90" x2="337.71" y2="561.57" stroke="#444" stroke-width="0.3"/>
<line x1="311.30" y1="559.90" x2="311.30" y2="561.84" stroke="#444" stroke-width="0.3"/>
<line x1="323.98" y1="559.90" x2="323.98" y2="561.94" stroke="#444" stroke-width="0.3"/>
<line x1="310.45" y1="559.90" x2="310.45" y2="561.09" stroke="#444" stroke-width="0.3"/>
<line x1="304.66" y1="559.90" x2="304.66" y2="561.73" stroke="#444" stroke-width="0.3"/>
<line x1="327.99" y1="559.90" x2="327.99" y2="561.73" stroke="#444" stroke-width="0.3"/>
<line x1="314.67" y1="559.90" x2="314.67" y2="561.89" stroke="#444" stroke-width="0.3"/>
<line x1="336.29" y1="559.90" x2="336.29" y2="561.74" stroke="#444" stroke-width="0.3"/>
<line x1="304.23" y1="559.90" x2="304.23" y2="561.75" stroke="#444" stroke-width="0.3"/>
<line x1="351.32" y1="559.90" x2="351.32" y2="561.62" stroke="#444" stroke-width="0.3"/>
<line x1="317.92" y1="559.90" x2="317.92" y2="561.47" stroke="#444" stroke-width="0.3"/>
<line x1="310.32" y1="559.90" x2="310.32" y2="560.87" stroke="#444" stroke-width="0.3"/>
<line x1="346.52" y1="559.90" x2="346.52" y2="561.50" stroke="#444" stroke-width="0.3"/>
<line x1="345.26" y1="559.90" x2="345.26" y2="560.93" stroke="#444" stroke-width="0.3"/>
<line x1="316.20" y1="559.90" x2="316.20" y2="561.75" stroke="#444" stroke-width="0.3"/>
<line x1="306.21" y1="559.90" x2="306.21" y2="561.33" stroke="#444" stroke-width="0.3"/>
<line x1="318.43" y1="559.90" x2="318.43" y2="560.94" stroke="#444" stroke-width="0.3"/>
<line x1="336.38" y1="559.90" x2="336.38" y2="561.52" stroke="#444" stroke-width="0.3"/>
<line x1="315.86" y1="559.90" x2="315.86" y2="561.67" stroke="#444" stroke-width="0.3"/>
<line x1="353.16" y1="559.90" x2="353.16" y2="560.73" stroke="#444" stroke-width="0.3"/>
<line x1="354.71" y1="559.90" x2="354.71" y2="560.98" stroke="#444" stroke-width="0.3"/>
<line x1="317.28" y1="559.90" x2="317.28" y2="560.89" stroke="#444" stroke-width="0.3"/>
<line x1="304.46" y1="559.90" x2="304.46" y2="561.39" stroke="#444" stroke-width="0.3"/>
<line x1="305.69" y1="559.90" x2="305.69" y2="561.44" stroke="#444" stroke-width="0.3"/>
<line x1="349.85" y1="559.90" x2="349.85" y2="561.74" stroke="#444" stroke-width="0.3"/>
<line x1="307.17" y1="559.90" x2="307.17" y2="560.87" stroke="#444" stroke-width="0.3"/>
<line x1="344.07" y1="559.90" x2="344.07" y2="561.32" stroke="#444" stroke-width="0.3"/>
<line x1="354.51" y1="559.90" x2="354.51" y2="561.11" stroke="#444" stroke-width="0.3"/>
<line x1="325.08" y1="559.90" x2="325.08" y2="561.16" stroke="#444" stroke-width="0.3"/>
<line x1="305.04" y1="559.90" x2="305.04" y2="561.29" stroke="#444" stroke-width="0.3"/>
<line x1="321.54" y1="559.90" x2="321.54" y2="561.13" stroke="#444" stroke-width="0.3"/>
<line x1="354.40" y1="559.90" x2="354.40" y2="561.59" stroke="#444" stroke-width="0.3"/>
<line x1="307.47" y1="559.90" x2="307.47" y2="560.61" stroke="#444" stroke-width="0.3"/>
<line x1="305.08" y1="559.90" x2="305.08" y2="560.81" stroke="#444" stroke-width="0.3"/>
<line x1="305.75" y1="559.90" x2="305.75" y2="560.68" stroke="#444" stroke-width="0.3"/>
<line x1="338.25" y1="559.90" x2="338.25" y2="561.03" stroke="#444" stroke-width="0.3"/>
<line x1="313.99" y1="559.90" x2="313.99" y2="561.15" stroke="#444" stroke-width="0.3"/>
<line x1="318.08" y1="559.90" x2="318.08" y2="561.08" stroke="#444" stroke-width="0.3"/>
<line x1="321.92" y1="559.90" x2="321.92" y2="561.40" stroke="#444" stroke-width="0.3"/>
<line x1="311.15" y1="559.90" x2="311.15" y2="561.31" stroke="#444" stroke-width="0.3"/>
<line x1="306.57" y1="559.90" x2="306.57" y2="560.89" stroke="#444" stroke-width="0.3"/>
<line x1="312.62" y1="559.90" x2="312.62" y2="561.07" stroke="#444" stroke-width="0.3"/>
<line x1="311.78" y1="559.90" x2="311.78" y2="561.32" stroke="#444" stroke-width="0.3"/>
<line x1="332.29" y1="559.90" x2="332.29" y2="561.41" stroke="#444" stroke-width="0.3"/>
<line x1="305.76" y1="559.90" x2="305.76" y2="560.61" stroke="#444" stroke-width="0.3"/>
<line x1="307.54" y1="559.90" x2="307.54" y2="560.85" stroke="#444" stroke-width="0.3"/>
<line x1="339.39" y1="559.90" x2="339.39" y2="561.76" stroke="#444" stroke-width="0.3"/>
<line x1="307.53" y1="559.90" x2="307.53" y2="561.73" stroke="#444" stroke-width="0.3"/>
<line x1="344.59" y1="559.90" x2="344.59" y2="561.51" stroke="#444" stroke-width="0.3"/>
<line x1="324.56" y1="559.90" x2="324.56" y2="561.07" stroke="#444" stroke-width="0.3"/>
<line x1="327.51" y1="559.90" x2="327.51" y2="560.97" stroke="#444" stroke-width="0.3"/>
<line x1="313.51" y1="559.90" x2="313.51" y2="561.55" stroke="#444" stroke-width="0.3"/>
<line x1="309.53" y1="559.90" x2="309.53" y2="561.89" stroke="#444" stroke-width="0.3"/>
<line x1="312.14" y1="559.90" x2="312.14" y2="560.75" stroke="#444" stroke-width="0.3"/>
<line x1="327.03" y1="559.90" x2="327.03" y2="560.98" stroke="#444" stroke-width="0.3"/>
<line x1="316.63" y1="559.90" x2="316.63" y2="561.37" stroke="#444" stroke-width="0.3"/>
<line x1="307.78" y1="559.90" x2="307.78" y2="560.87" stroke="#444" stroke-width="0.3"/>
<line x1="331.09" y1="559.90" x2="331.09" y2="561.88" stroke="#444" stroke-width="0.3"/>
<line x1="305.12" y1="559.90" x2="305.12" y2="560.74" stroke="#444" stroke-width="0.3"/>
<line x1="305.75" y1="559.90" x2="305.75" y2="560.74" stroke="#444" stroke-width="0.3"/>
<line x1="304.43" y1="559.90" x2="304.43" y2="561.47" stroke="#444" stroke-width="0.3"/>
<line x1="321.28" y1="559.90" x2="321.28" y2="560.99" stroke="#444" stroke-width="0.3"/>
<line x1="314.36" y1="559.90" x2="314.36" y2="561.18" stroke="#444" stroke-width="0.3"/>
<line x1="312.90" y1="559.90" x2="312.90" y2="561.65" stroke="#444" stroke-width="0.3"/>
<line x1="305.39" y1="559.90" x2="305.39" y2="561.11" stroke="#444" stroke-width="0.3"/>
<line x1="318.75" y1="559.90" x2="318.75" y2="560.76" stroke="#444" stroke-width="0.3"/>
<line x1="317.27" y1="559.90" x2="317.27" y2="560.88" stroke="#444" stroke-width="0.3"/>
<line x1="332.47" y1="559.90" x2="332.47" y2="560.74" stroke="#444" stroke-width="0.3"/>
<line x1="307.95" y1="559.90" x2="307.95" y2="560.79" stroke="#444" stroke-width="0.3"/>
<line x1="304.84" y1="559.90" x2="304.84" y2="561.42" stroke="#444" stroke-width="0.3"/>
<line x1="308.32" y1="559.90" x2="308.32" y2="561.77" stroke="#444" stroke-width="0.3"/>
<line x1="320.56" y1="559.90" x2="320.56" y2="560.62" stroke="#444" stroke-width="0.3"/>
<line x1="312.76" y1="559.90" x2="312.76" y2="561.96" stroke="#444" stroke-width="0.3"/>
<polyline points="304.39,637.20 308.88,636.08 311.57,628.23 329.51,617.02 344.75,602.44" fill="none" stroke="#4a5cc8" stroke-width="0.35" stroke-linejoin="round" stroke-opacity="0.7"/>
<circle cx="304.39" cy="637.20" r="0.55" fill="#4a5cc8"/>
<circle cx="308.88" cy="636.08" r="0.55" fill="#4a5cc8"/>
<circle cx="311.57" cy="628.23" r="0.55" fill="#4a5cc8"/>
<circle cx="329.51" cy="617.02" r="0.55" fill="#4a5cc8"/>
<circle cx="344.75" cy="602.44" r="0.55" fill="#4a5cc8"/>
<polyline points="304.39,636.08 311.12,631.59 321.66,624.87" fill="none" stroke="#ee3a30" stroke-width="0.35" stroke-linejoin="round" stroke-opacity="0.7"/>
<circle cx="304.39" cy="636.08" r="0.55" fill="#ee3a30"/>
<circle cx="311.12" cy="631.59" r="0.55" fill="#ee3a30"/>
<circle cx="321.66" cy="624.87" r="0.55" fill="#ee3a30"/>
<polyline points="308.88,635.63 317.17,627.11" fill="none" stroke="#2a9a50" stroke-width="0.35" stroke-linejoin="round" stroke-opacity="0.7"/>
<circle cx="308.88" cy="635.63" r="0.55" fill="#2a9a50"/>
<circle cx="317.17" cy="627.11" r="0.55" fill="#2a9a50"/>
<line x1="311.57" y1="624.87" x2="311.57" y2="632.71" stroke="#4a5cc8" stroke-width="0.65"/>
<line x1="310.67" y1="624.87" x2="312.47" y2="624.87" stroke="#4a5cc8" stroke-width="0.5"/>
<line x1="310.67" y1="632.71" x2="312.47" y2="632.71" stroke="#4a5cc8" stroke-width="0.5"/>
<line x1="329.51" y1="610.29" x2="329.51" y2="621.50" stroke="#4a5cc8" stroke-width="0.65"/>
<line x1="328.61" y1="610.29" x2="330.41" y2="610.29" stroke="#4a5cc8" stroke-width="0.5"/>
<line x1="328.61" y1="621.50" x2="330.41" y2="621.50" stroke="#4a5cc8" stroke-width="0.5"/>
<line x1="344.75" y1="596.17" x2="344.75" y2="608.72" stroke="#4a5cc8" stroke-width="0.65"/>
<line x1="343.85" y1="596.17" x2="345.65" y2="596.17" stroke="#4a5cc8" stroke-width="0.5"/>
<line x1="343.85" y1="608.72" x2="345.65" y2="608.72" stroke="#4a5cc8" stroke-width="0.5"/>
<line x1="304.39" y1="633.83" x2="304.39" y2="638.32" stroke="#ee3a30" stroke-width="0.65"/>
<line x1="303.49" y1="633.83" x2="305.29" y2="633.83" stroke="#ee3a30" stroke-width="0.5"/>
<line x1="303.49" y1="638.32" x2="305.29" y2="638.32" stroke="#ee3a30" stroke-width="0.5"/>
<line x1="311.12" y1="628.23" x2="311.12" y2="636.08" stroke="#ee3a30" stroke-width="0.65"/>
<line x1="310.22" y1="628.23" x2="312.02" y2="628.23" stroke="#ee3a30" stroke-width="0.5"/>
<line x1="310.22" y1="636.08" x2="312.02" y2="636.08" stroke="#ee3a30" stroke-width="0.5"/>
<line x1="321.66" y1="619.26" x2="321.66" y2="628.23" stroke="#ee3a30" stroke-width="0.65"/>
<line x1="320.76" y1="619.26" x2="322.56" y2="619.26" stroke="#ee3a30" stroke-width="0.5"/>
<line x1="320.76" y1="628.23" x2="322.56" y2="628.23" stroke="#ee3a30" stroke-width="0.5"/>
<line x1="308.88" y1="633.39" x2="308.88" y2="637.87" stroke="#2a9a50" stroke-width="0.65"/>
<line x1="307.98" y1="633.39" x2="309.78" y2="633.39" stroke="#2a9a50" stroke-width="0.5"/>
<line x1="307.98" y1="637.87" x2="309.78" y2="637.87" stroke="#2a9a50" stroke-width="0.5"/>
<line x1="317.17" y1="622.17" x2="317.17" y2="630.47" stroke="#2a9a50" stroke-width="0.65"/>
<line x1="316.27" y1="622.17" x2="318.07" y2="622.17" stroke="#2a9a50" stroke-width="0.5"/>
<line x1="316.27" y1="630.47" x2="318.07" y2="630.47" stroke="#2a9a50" stroke-width="0.5"/>
<rect x="300.40" y="559.40" width="94.80" height="82.10" fill="none" stroke="#555" stroke-width="0.45"/>
<line x1="304.40" y1="641.50" x2="304.40" y2="642.80" stroke="#444" stroke-width="0.35"/>
<text x="304.40" y="648.10" font-size="2.9" text-anchor="middle" fill="#444">0.0</text>
<line x1="300.40" y1="638.30" x2="299.10" y2="638.30" stroke="#444" stroke-width="0.35"/>
<text x="296.80" y="638.30" font-size="2.9" text-anchor="middle" fill="#444" transform="rotate(-90 296.80 638.30)">0.0</text>
<line x1="321.84" y1="641.50" x2="321.84" y2="642.80" stroke="#444" stroke-width="0.35"/>
<text x="321.84" y="648.10" font-size="2.9" text-anchor="middle" fill="#444">0.2</text>
<line x1="300.40" y1="623.06" x2="299.10" y2="623.06" stroke="#444" stroke-width="0.35"/>
<text x="296.80" y="623.06" font-size="2.9" text-anchor="middle" fill="#444" transform="rotate(-90 296.80 623.06)">0.2</text>
<line x1="339.28" y1="641.50" x2="339.28" y2="642.80" stroke="#444" stroke-width="0.35"/>
<text x="339.28" y="648.10" font-size="2.9" text-anchor="middle" fill="#444">0.4</text>
<line x1="300.40" y1="607.82" x2="299.10" y2="607.82" stroke="#444" stroke-width="0.35"/>
<text x="296.80" y="607.82" font-size="2.9" text-anchor="middle" fill="#444" transform="rotate(-90 296.80 607.82)">0.4</text>
<line x1="356.72" y1="641.50" x2="356.72" y2="642.80" stroke="#444" stroke-width="0.35"/>
<text x="356.72" y="648.10" font-size="2.9" text-anchor="middle" fill="#444">0.6</text>
<line x1="300.40" y1="592.58" x2="299.10" y2="592.58" stroke="#444" stroke-width="0.35"/>
<text x="296.80" y="592.58" font-size="2.9" text-anchor="middle" fill="#444" transform="rotate(-90 296.80 592.58)">0.6</text>
<line x1="374.16" y1="641.50" x2="374.16" y2="642.80" stroke="#444" stroke-width="0.35"/>
<text x="374.16" y="648.10" font-size="2.9" text-anchor="middle" fill="#444">0.8</text>
<line x1="300.40" y1="577.34" x2="299.10" y2="577.34" stroke="#444" stroke-width="0.35"/>
<text x="296.80" y="577.34" font-size="2.9" text-anchor="middle" fill="#444" transform="rotate(-90 296.80 577.34)">0.8</text>
<line x1="391.60" y1="641.50" x2="391.60" y2="642.80" stroke="#444" stroke-width="0.35"/>
<text x="391.60" y="648.10" font-size="2.9" text-anchor="middle" fill="#444">1.0</text>
<line x1="300.40" y1="562.10" x2="299.10" y2="562.10" stroke="#444" stroke-width="0.35"/>
<text x="296.80" y="562.10" font-size="2.9" text-anchor="middle" fill="#444" transform="rotate(-90 296.80 562.10)">1.0</text>
<text x="347.80" y="656.40" font-size="3.1" text-anchor="middle" fill="#222" textLength="57.80" lengthAdjust="spacingAndGlyphs">Nomogram-Predicted Probability of OS</text>
<text x="286.50" y="600.45" font-size="2.9" text-anchor="middle" fill="#222" textLength="30.00" lengthAdjust="spacingAndGlyphs" transform="rotate(-90 286.50 600.45)">Actual OS (proportion)</text>
<rect x="372.00" y="625.50" width="23.20" height="16.00" fill="#ffffff" stroke="#444" stroke-width="0.4"/>
<line x1="375.20" y1="629.60" x2="382.00" y2="629.60" stroke="#4a5cc8" stroke-width="0.8"/>
<text x="384.20" y="630.60" font-size="3.0" fill="#333" textLength="9.50" lengthAdjust="spacingAndGlyphs">1 year</text>
<line x1="375.20" y1="633.65" x2="382.00" y2="633.65" stroke="#ee3a30" stroke-width="0.8"/>
<text x="384.20" y="634.65" font-size="3.0" fill="#333" textLength="9.50" lengthAdjust="spacingAndGlyphs">3 year</text>
<line x1="375.20" y1="637.70" x2="382.00" y2="637.70" stroke="#2a9a50" stroke-width="0.8"/>
<text x="384.20" y="638.70" font-size="3.0" fill="#333" textLength="9.50" lengthAdjust="spacingAndGlyphs">5 year</text>
<text x="476.85" y="552.80" font-size="4.2" text-anchor="middle" font-weight="bold" fill="#111" textLength="28.00" lengthAdjust="spacingAndGlyphs">calibration plot</text>
<line x1="432.40" y1="638.40" x2="520.90" y2="561.40" stroke="#dadada" stroke-width="0.45"/>
<line x1="432.00" y1="559.00" x2="484.00" y2="559.00" stroke="#333" stroke-width="0.7"/>
<line x1="432.30" y1="558.50" x2="432.30" y2="561.70" stroke="#111" stroke-width="0.8"/>
<line x1="437.84" y1="559.00" x2="437.84" y2="559.77" stroke="#444" stroke-width="0.3"/>
<line x1="446.64" y1="559.00" x2="446.64" y2="560.94" stroke="#444" stroke-width="0.3"/>
<line x1="437.69" y1="559.00" x2="437.69" y2="560.06" stroke="#444" stroke-width="0.3"/>
<line x1="433.21" y1="559.00" x2="433.21" y2="560.36" stroke="#444" stroke-width="0.3"/>
<line x1="432.66" y1="559.00" x2="432.66" y2="560.99" stroke="#444" stroke-width="0.3"/>
<line x1="455.44" y1="559.00" x2="455.44" y2="561.09" stroke="#444" stroke-width="0.3"/>
<line x1="434.76" y1="559.00" x2="434.76" y2="560.49" stroke="#444" stroke-width="0.3"/>
<line x1="457.38" y1="559.00" x2="457.38" y2="560.07" stroke="#444" stroke-width="0.3"/>
<line x1="451.83" y1="559.00" x2="451.83" y2="560.97" stroke="#444" stroke-width="0.3"/>
<line x1="481.00" y1="559.00" x2="481.00" y2="560.10" stroke="#444" stroke-width="0.3"/>
<line x1="454.79" y1="559.00" x2="454.79" y2="560.76" stroke="#444" stroke-width="0.3"/>
<line x1="436.12" y1="559.00" x2="436.12" y2="559.79" stroke="#444" stroke-width="0.3"/>
<line x1="475.56" y1="559.00" x2="475.56" y2="560.84" stroke="#444" stroke-width="0.3"/>
<line x1="458.06" y1="559.00" x2="458.06" y2="560.55" stroke="#444" stroke-width="0.3"/>
<line x1="457.33" y1="559.00" x2="457.33" y2="561.07" stroke="#444" stroke-width="0.3"/>
<line x1="479.66" y1="559.00" x2="479.66" y2="559.83" stroke="#444" stroke-width="0.3"/>
<line x1="440.15" y1="559.00" x2="440.15" y2="560.68" stroke="#444" stroke-width="0.3"/>
<line x1="451.47" y1="559.00" x2="451.47" y2="560.66" stroke="#444" stroke-width="0.3"/>
<line x1="433.38" y1="559.00" x2="433.38" y2="559.83" stroke="#444" stroke-width="0.3"/>
<line x1="455.29" y1="559.00" x2="455.29" y2="559.82" stroke="#444" stroke-width="0.3"/>
<line x1="443.06" y1="559.00" x2="443.06" y2="560.65" stroke="#444" stroke-width="0.3"/>
<line x1="450.72" y1="559.00" x2="450.72" y2="560.93" stroke="#444" stroke-width="0.3"/>
<line x1="461.89" y1="559.00" x2="461.89" y2="559.91" stroke="#444" stroke-width="0.3"/>
<line x1="447.57" y1="559.00" x2="447.57" y2="560.56" stroke="#444" stroke-width="0.3"/>
<line x1="446.68" y1="559.00" x2="446.68" y2="560.80" stroke="#444" stroke-width="0.3"/>
<line x1="452.76" y1="559.00" x2="452.76" y2="560.88" stroke="#444" stroke-width="0.3"/>
<line x1="480.21" y1="559.00" x2="480.21" y2="559.74" stroke="#444" stroke-width="0.3"/>
<line x1="441.55" y1="559.00" x2="441.55" y2="559.89" stroke="#444" stroke-width="0.3"/>
<line x1="471.21" y1="559.00" x2="471.21" y2="560.97" stroke="#444" stroke-width="0.3"/>
<line x1="442.16" y1="559.00" x2="442.16" y2="560.29" stroke="#444" stroke-width="0.3"/>
<line x1="432.71" y1="559.00" x2="432.71" y2="560.24" stroke="#444" stroke-width="0.3"/>
<line x1="461.33" y1="559.00" x2="461.33" y2="560.42" stroke="#444" stroke-width="0.3"/>
<line x1="450.52" y1="559.00" x2="450.52" y2="560.70" stroke="#444" stroke-width="0.3"/>
<line x1="446.10" y1="559.00" x2="446.10" y2="560.55" stroke="#444" stroke-width="0.3"/>
<line x1="439.03" y1="559.00" x2="439.03" y2="560.81" stroke="#444" stroke-width="0.3"/>
<line x1="437.82" y1="559.00" x2="437.82" y2="559.98" stroke="#444" stroke-width="0.3"/>
<line x1="460.82" y1="559.00" x2="460.82" y2="560.17" stroke="#444" stroke-width="0.3"/>
<line x1="456.51" y1="559.00" x2="456.51" y2="560.70" stroke="#444" stroke-width="0.3"/>
<line x1="435.28" y1="559.00" x2="435.28" y2="560.63" stroke="#444" stroke-width="0.3"/>
<line x1="473.57" y1="559.00" x2="473.57" y2="560.00" stroke="#444" stroke-width="0.3"/>
<line x1="459.42" y1="559.00" x2="459.42" y2="560.98" stroke="#444" stroke-width="0.3"/>
<line x1="482.03" y1="559.00" x2="482.03" y2="560.14" stroke="#444" stroke-width="0.3"/>
<line x1="455.14" y1="559.00" x2="455.14" y2="560.89" stroke="#444" stroke-width="0.3"/>
<line x1="447.88" y1="559.00" x2="447.88" y2="559.83" stroke="#444" stroke-width="0.3"/>
<line x1="436.18" y1="559.00" x2="436.18" y2="560.25" stroke="#444" stroke-width="0.3"/>
<line x1="456.12" y1="559.00" x2="456.12" y2="560.07" stroke="#444" stroke-width="0.3"/>
<line x1="446.28" y1="559.00" x2="446.28" y2="559.86" stroke="#444" stroke-width="0.3"/>
<line x1="470.47" y1="559.00" x2="470.47" y2="560.17" stroke="#444" stroke-width="0.3"/>
<line x1="446.61" y1="559.00" x2="446.61" y2="559.78" stroke="#444" stroke-width="0.3"/>
<line x1="435.77" y1="559.00" x2="435.77" y2="560.44" stroke="#444" stroke-width="0.3"/>
<line x1="432.31" y1="559.00" x2="432.31" y2="560.75" stroke="#444" stroke-width="0.3"/>
<line x1="433.32" y1="559.00" x2="433.32" y2="559.79" stroke="#444" stroke-width="0.3"/>
<line x1="483.77" y1="559.00" x2="483.77" y2="560.73" stroke="#444" stroke-width="0.3"/>
<line x1="468.14" y1="559.00" x2="468.14" y2="561.02" stroke="#444" stroke-width="0.3"/>
<line x1="446.95" y1="559.00" x2="446.95" y2="559.92" stroke="#444" stroke-width="0.3"/>
<line x1="433.61" y1="559.00" x2="433.61" y2="561.07" stroke="#444" stroke-width="0.3"/>
<line x1="455.66" y1="559.00" x2="455.66" y2="560.83" stroke="#444" stroke-width="0.3"/>
<line x1="446.27" y1="559.00" x2="446.27" y2="560.37" stroke="#444" stroke-width="0.3"/>
<line x1="437.68" y1="559.00" x2="437.68" y2="560.16" stroke="#444" stroke-width="0.3"/>
<line x1="478.35" y1="559.00" x2="478.35" y2="560.76" stroke="#444" stroke-width="0.3"/>
<line x1="434.73" y1="559.00" x2="434.73" y2="560.21" stroke="#444" stroke-width="0.3"/>
<line x1="469.09" y1="559.00" x2="469.09" y2="559.74" stroke="#444" stroke-width="0.3"/>
<line x1="432.93" y1="559.00" x2="432.93" y2="559.87" stroke="#444" stroke-width="0.3"/>
<line x1="482.66" y1="559.00" x2="482.66" y2="560.12" stroke="#444" stroke-width="0.3"/>
<line x1="446.68" y1="559.00" x2="446.68" y2="560.14" stroke="#444" stroke-width="0.3"/>
<line x1="449.63" y1="559.00" x2="449.63" y2="561.02" stroke="#444" stroke-width="0.3"/>
<line x1="462.97" y1="559.00" x2="462.97" y2="559.72" stroke="#444" stroke-width="0.3"/>
<line x1="441.19" y1="559.00" x2="441.19" y2="560.74" stroke="#444" stroke-width="0.3"/>
<line x1="460.04" y1="559.00" x2="460.04" y2="560.82" stroke="#444" stroke-width="0.3"/>
<line x1="432.18" y1="559.00" x2="432.18" y2="560.32" stroke="#444" stroke-width="0.3"/>
<line x1="434.68" y1="559.00" x2="434.68" y2="560.87" stroke="#444" stroke-width="0.3"/>
<line x1="475.41" y1="559.00" x2="475.41" y2="559.75" stroke="#444" stroke-width="0.3"/>
<line x1="443.24" y1="559.00" x2="443.24" y2="560.39" stroke="#444" stroke-width="0.3"/>
<line x1="478.66" y1="559.00" x2="478.66" y2="560.41" stroke="#444" stroke-width="0.3"/>
<line x1="456.06" y1="559.00" x2="456.06" y2="560.42" stroke="#444" stroke-width="0.3"/>
<line x1="471.02" y1="559.00" x2="471.02" y2="560.00" stroke="#444" stroke-width="0.3"/>
<line x1="461.28" y1="559.00" x2="461.28" y2="559.96" stroke="#444" stroke-width="0.3"/>
<line x1="432.81" y1="559.00" x2="432.81" y2="560.11" stroke="#444" stroke-width="0.3"/>
<line x1="432.94" y1="559.00" x2="432.94" y2="559.82" stroke="#444" stroke-width="0.3"/>
<line x1="436.86" y1="559.00" x2="436.86" y2="561.10" stroke="#444" stroke-width="0.3"/>
<line x1="432.56" y1="559.00" x2="432.56" y2="560.87" stroke="#444" stroke-width="0.3"/>
<line x1="438.82" y1="559.00" x2="438.82" y2="559.77" stroke="#444" stroke-width="0.3"/>
<line x1="432.01" y1="559.00" x2="432.01" y2="561.06" stroke="#444" stroke-width="0.3"/>
<polyline points="433.05,636.76 438.70,635.29 443.93,627.97 460.67,618.56 475.94,595.13" fill="none" stroke="#4a5cc8" stroke-width="0.35" stroke-linejoin="round" stroke-opacity="0.7"/>
<circle cx="433.05" cy="636.76" r="0.55" fill="#4a5cc8"/>
<circle cx="438.70" cy="635.29" r="0.55" fill="#4a5cc8"/>
<circle cx="443.93" cy="627.97" r="0.55" fill="#4a5cc8"/>
<circle cx="460.67" cy="618.56" r="0.55" fill="#4a5cc8"/>
<circle cx="475.94" cy="595.13" r="0.55" fill="#4a5cc8"/>
<polyline points="433.05,635.92 438.70,633.83 448.12,624.83" fill="none" stroke="#ee3a30" stroke-width="0.35" stroke-linejoin="round" stroke-opacity="0.7"/>
<circle cx="433.05" cy="635.92" r="0.55" fill="#ee3a30"/>
<circle cx="438.70" cy="633.83" r="0.55" fill="#ee3a30"/>
<circle cx="448.12" cy="624.83" r="0.55" fill="#ee3a30"/>
<polyline points="437.24,635.92 444.35,627.55" fill="none" stroke="#2a9a50" stroke-width="0.35" stroke-linejoin="round" stroke-opacity="0.7"/>
<circle cx="437.24" cy="635.92" r="0.55" fill="#2a9a50"/>
<circle cx="444.35" cy="627.55" r="0.55" fill="#2a9a50"/>
<line x1="443.93" y1="622.74" x2="443.93" y2="631.11" stroke="#4a5cc8" stroke-width="0.65"/>
<line x1="443.03" y1="622.74" x2="444.83" y2="622.74" stroke="#4a5cc8" stroke-width="0.5"/>
<line x1="443.03" y1="631.11" x2="444.83" y2="631.11" stroke="#4a5cc8" stroke-width="0.5"/>
<line x1="460.67" y1="613.33" x2="460.67" y2="623.79" stroke="#4a5cc8" stroke-width="0.65"/>
<line x1="459.77" y1="613.33" x2="461.57" y2="613.33" stroke="#4a5cc8" stroke-width="0.5"/>
<line x1="459.77" y1="623.79" x2="461.57" y2="623.79" stroke="#4a5cc8" stroke-width="0.5"/>
<line x1="475.94" y1="589.27" x2="475.94" y2="600.77" stroke="#4a5cc8" stroke-width="0.65"/>
<line x1="475.04" y1="589.27" x2="476.84" y2="589.27" stroke="#4a5cc8" stroke-width="0.5"/>
<line x1="475.04" y1="600.77" x2="476.84" y2="600.77" stroke="#4a5cc8" stroke-width="0.5"/>
<line x1="433.05" y1="633.83" x2="433.05" y2="638.43" stroke="#ee3a30" stroke-width="0.65"/>
<line x1="432.15" y1="633.83" x2="433.95" y2="633.83" stroke="#ee3a30" stroke-width="0.5"/>
<line x1="432.15" y1="638.43" x2="433.95" y2="638.43" stroke="#ee3a30" stroke-width="0.5"/>
<line x1="438.70" y1="631.74" x2="438.70" y2="636.34" stroke="#ee3a30" stroke-width="0.65"/>
<line x1="437.80" y1="631.74" x2="439.60" y2="631.74" stroke="#ee3a30" stroke-width="0.5"/>
<line x1="437.80" y1="636.34" x2="439.60" y2="636.34" stroke="#ee3a30" stroke-width="0.5"/>
<line x1="448.12" y1="620.65" x2="448.12" y2="629.64" stroke="#ee3a30" stroke-width="0.65"/>
<line x1="447.22" y1="620.65" x2="449.02" y2="620.65" stroke="#ee3a30" stroke-width="0.5"/>
<line x1="447.22" y1="629.64" x2="449.02" y2="629.64" stroke="#ee3a30" stroke-width="0.5"/>
<line x1="437.24" y1="634.25" x2="437.24" y2="638.01" stroke="#2a9a50" stroke-width="0.65"/>
<line x1="436.34" y1="634.25" x2="438.14" y2="634.25" stroke="#2a9a50" stroke-width="0.5"/>
<line x1="436.34" y1="638.01" x2="438.14" y2="638.01" stroke="#2a9a50" stroke-width="0.5"/>
<line x1="444.35" y1="623.37" x2="444.35" y2="631.11" stroke="#2a9a50" stroke-width="0.65"/>
<line x1="443.45" y1="623.37" x2="445.25" y2="623.37" stroke="#2a9a50" stroke-width="0.5"/>
<line x1="443.45" y1="631.11" x2="445.25" y2="631.11" stroke="#2a9a50" stroke-width="0.5"/>
<rect x="428.20" y="558.50" width="96.30" height="82.70" fill="none" stroke="#555" stroke-width="0.45"/>
<line x1="432.40" y1="641.20" x2="432.40" y2="642.50" stroke="#444" stroke-width="0.35"/>
<text x="432.40" y="647.80" font-size="2.9" text-anchor="middle" fill="#444">0.0</text>
<line x1="428.20" y1="638.40" x2="426.90" y2="638.40" stroke="#444" stroke-width="0.35"/>
<text x="424.60" y="638.40" font-size="2.9" text-anchor="middle" fill="#444" transform="rotate(-90 424.60 638.40)">0.0</text>
<line x1="450.10" y1="641.20" x2="450.10" y2="642.50" stroke="#444" stroke-width="0.35"/>
<text x="450.10" y="647.80" font-size="2.9" text-anchor="middle" fill="#444">0.2</text>
<line x1="428.20" y1="623.00" x2="426.90" y2="623.00" stroke="#444" stroke-width="0.35"/>
<text x="424.60" y="623.00" font-size="2.9" text-anchor="middle" fill="#444" transform="rotate(-90 424.60 623.00)">0.2</text>
<line x1="467.80" y1="641.20" x2="467.80" y2="642.50" stroke="#444" stroke-width="0.35"/>
<text x="467.80" y="647.80" font-size="2.9" text-anchor="middle" fill="#444">0.4</text>
<line x1="428.20" y1="607.60" x2="426.90" y2="607.60" stroke="#444" stroke-width="0.35"/>
<text x="424.60" y="607.60" font-size="2.9" text-anchor="middle" fill="#444" transform="rotate(-90 424.60 607.60)">0.4</text>
<line x1="485.50" y1="641.20" x2="485.50" y2="642.50" stroke="#444" stroke-width="0.35"/>
<text x="485.50" y="647.80" font-size="2.9" text-anchor="middle" fill="#444">0.6</text>
<line x1="428.20" y1="592.20" x2="426.90" y2="592.20" stroke="#444" stroke-width="0.35"/>
<text x="424.60" y="592.20" font-size="2.9" text-anchor="middle" fill="#444" transform="rotate(-90 424.60 592.20)">0.6</text>
<line x1="503.20" y1="641.20" x2="503.20" y2="642.50" stroke="#444" stroke-width="0.35"/>
<text x="503.20" y="647.80" font-size="2.9" text-anchor="middle" fill="#444">0.8</text>
<line x1="428.20" y1="576.80" x2="426.90" y2="576.80" stroke="#444" stroke-width="0.35"/>
<text x="424.60" y="576.80" font-size="2.9" text-anchor="middle" fill="#444" transform="rotate(-90 424.60 576.80)">0.8</text>
<line x1="520.90" y1="641.20" x2="520.90" y2="642.50" stroke="#444" stroke-width="0.35"/>
<text x="520.90" y="647.80" font-size="2.9" text-anchor="middle" fill="#444">1.0</text>
<line x1="428.20" y1="561.40" x2="426.90" y2="561.40" stroke="#444" stroke-width="0.35"/>
<text x="424.60" y="561.40" font-size="2.9" text-anchor="middle" fill="#444" transform="rotate(-90 424.60 561.40)">1.0</text>
<text x="476.35" y="656.40" font-size="3.1" text-anchor="middle" fill="#222" textLength="57.80" lengthAdjust="spacingAndGlyphs">Nomogram-Predicted Probability of OS</text>
<text x="415.70" y="599.85" font-size="2.9" text-anchor="middle" fill="#222" textLength="30.00" lengthAdjust="spacingAndGlyphs" transform="rotate(-90 415.70 599.85)">Actual OS (proportion)</text>
<rect x="501.50" y="625.50" width="23.00" height="15.70" fill="#ffffff" stroke="#444" stroke-width="0.4"/>
<line x1="504.70" y1="629.60" x2="511.50" y2="629.60" stroke="#4a5cc8" stroke-width="0.8"/>
<text x="513.70" y="630.60" font-size="3.0" fill="#333" textLength="9.50" lengthAdjust="spacingAndGlyphs">1 year</text>
<line x1="504.70" y1="633.65" x2="511.50" y2="633.65" stroke="#ee3a30" stroke-width="0.8"/>
<text x="513.70" y="634.65" font-size="3.0" fill="#333" textLength="9.50" lengthAdjust="spacingAndGlyphs">3 year</text>
<line x1="504.70" y1="637.70" x2="511.50" y2="637.70" stroke="#2a9a50" stroke-width="0.8"/>
<text x="513.70" y="638.70" font-size="3.0" fill="#333" textLength="9.50" lengthAdjust="spacingAndGlyphs">5 year</text>
<text x="605.50" y="552.80" font-size="4.2" text-anchor="middle" font-weight="bold" fill="#111" textLength="28.00" lengthAdjust="spacingAndGlyphs">calibration plot</text>
<line x1="561.40" y1="638.80" x2="649.90" y2="562.00" stroke="#dadada" stroke-width="0.45"/>
<line x1="561.00" y1="559.50" x2="612.00" y2="559.50" stroke="#333" stroke-width="0.7"/>
<line x1="561.30" y1="559.00" x2="561.30" y2="562.20" stroke="#111" stroke-width="0.8"/>
<line x1="561.14" y1="559.50" x2="561.14" y2="560.34" stroke="#444" stroke-width="0.3"/>
<line x1="581.04" y1="559.50" x2="581.04" y2="561.28" stroke="#444" stroke-width="0.3"/>
<line x1="584.30" y1="559.50" x2="584.30" y2="560.95" stroke="#444" stroke-width="0.3"/>
<line x1="566.79" y1="559.50" x2="566.79" y2="560.91" stroke="#444" stroke-width="0.3"/>
<line x1="564.61" y1="559.50" x2="564.61" y2="561.13" stroke="#444" stroke-width="0.3"/>
<line x1="593.82" y1="559.50" x2="593.82" y2="560.75" stroke="#444" stroke-width="0.3"/>
<line x1="562.76" y1="559.50" x2="562.76" y2="561.46" stroke="#444" stroke-width="0.3"/>
<line x1="591.81" y1="559.50" x2="591.81" y2="561.60" stroke="#444" stroke-width="0.3"/>
<line x1="595.67" y1="559.50" x2="595.67" y2="560.99" stroke="#444" stroke-width="0.3"/>
<line x1="601.75" y1="559.50" x2="601.75" y2="560.79" stroke="#444" stroke-width="0.3"/>
<line x1="578.40" y1="559.50" x2="578.40" y2="561.12" stroke="#444" stroke-width="0.3"/>
<line x1="566.21" y1="559.50" x2="566.21" y2="560.41" stroke="#444" stroke-width="0.3"/>
<line x1="600.36" y1="559.50" x2="600.36" y2="561.50" stroke="#444" stroke-width="0.3"/>
<line x1="574.77" y1="559.50" x2="574.77" y2="561.31" stroke="#444" stroke-width="0.3"/>
<line x1="567.90" y1="559.50" x2="567.90" y2="560.80" stroke="#444" stroke-width="0.3"/>
<line x1="603.88" y1="559.50" x2="603.88" y2="560.67" stroke="#444" stroke-width="0.3"/>
<line x1="566.71" y1="559.50" x2="566.71" y2="561.20" stroke="#444" stroke-width="0.3"/>
<line x1="595.22" y1="559.50" x2="595.22" y2="560.72" stroke="#444" stroke-width="0.3"/>
<line x1="561.07" y1="559.50" x2="561.07" y2="561.04" stroke="#444" stroke-width="0.3"/>
<line x1="610.08" y1="559.50" x2="610.08" y2="561.00" stroke="#444" stroke-width="0.3"/>
<line x1="565.40" y1="559.50" x2="565.40" y2="561.11" stroke="#444" stroke-width="0.3"/>
<line x1="576.75" y1="559.50" x2="576.75" y2="561.25" stroke="#444" stroke-width="0.3"/>
<line x1="561.18" y1="559.50" x2="561.18" y2="560.90" stroke="#444" stroke-width="0.3"/>
<line x1="594.82" y1="559.50" x2="594.82" y2="561.25" stroke="#444" stroke-width="0.3"/>
<line x1="571.58" y1="559.50" x2="571.58" y2="561.51" stroke="#444" stroke-width="0.3"/>
<line x1="567.24" y1="559.50" x2="567.24" y2="560.84" stroke="#444" stroke-width="0.3"/>
<line x1="589.41" y1="559.50" x2="589.41" y2="560.94" stroke="#444" stroke-width="0.3"/>
<line x1="589.83" y1="559.50" x2="589.83" y2="560.30" stroke="#444" stroke-width="0.3"/>
<line x1="561.33" y1="559.50" x2="561.33" y2="561.16" stroke="#444" stroke-width="0.3"/>
<line x1="564.46" y1="559.50" x2="564.46" y2="561.22" stroke="#444" stroke-width="0.3"/>
<line x1="561.60" y1="559.50" x2="561.60" y2="561.53" stroke="#444" stroke-width="0.3"/>
<line x1="567.58" y1="559.50" x2="567.58" y2="561.15" stroke="#444" stroke-width="0.3"/>
<line x1="595.16" y1="559.50" x2="595.16" y2="561.12" stroke="#444" stroke-width="0.3"/>
<line x1="572.48" y1="559.50" x2="572.48" y2="561.16" stroke="#444" stroke-width="0.3"/>
<line x1="611.89" y1="559.50" x2="611.89" y2="561.02" stroke="#444" stroke-width="0.3"/>
<line x1="600.81" y1="559.50" x2="600.81" y2="560.49" stroke="#444" stroke-width="0.3"/>
<line x1="564.74" y1="559.50" x2="564.74" y2="560.45" stroke="#444" stroke-width="0.3"/>
<line x1="583.74" y1="559.50" x2="583.74" y2="560.57" stroke="#444" stroke-width="0.3"/>
<line x1="574.42" y1="559.50" x2="574.42" y2="560.33" stroke="#444" stroke-width="0.3"/>
<line x1="589.34" y1="559.50" x2="589.34" y2="561.35" stroke="#444" stroke-width="0.3"/>
<line x1="573.93" y1="559.50" x2="573.93" y2="561.32" stroke="#444" stroke-width="0.3"/>
<line x1="591.79" y1="559.50" x2="591.79" y2="560.39" stroke="#444" stroke-width="0.3"/>
<line x1="562.00" y1="559.50" x2="562.00" y2="561.40" stroke="#444" stroke-width="0.3"/>
<line x1="568.72" y1="559.50" x2="568.72" y2="561.14" stroke="#444" stroke-width="0.3"/>
<line x1="570.47" y1="559.50" x2="570.47" y2="560.31" stroke="#444" stroke-width="0.3"/>
<line x1="594.34" y1="559.50" x2="594.34" y2="560.57" stroke="#444" stroke-width="0.3"/>
<line x1="571.58" y1="559.50" x2="571.58" y2="560.43" stroke="#444" stroke-width="0.3"/>
<line x1="600.09" y1="559.50" x2="600.09" y2="560.21" stroke="#444" stroke-width="0.3"/>
<line x1="585.33" y1="559.50" x2="585.33" y2="561.49" stroke="#444" stroke-width="0.3"/>
<line x1="563.17" y1="559.50" x2="563.17" y2="560.75" stroke="#444" stroke-width="0.3"/>
<line x1="607.93" y1="559.50" x2="607.93" y2="561.35" stroke="#444" stroke-width="0.3"/>
<line x1="565.13" y1="559.50" x2="565.13" y2="560.41" stroke="#444" stroke-width="0.3"/>
<line x1="609.11" y1="559.50" x2="609.11" y2="560.78" stroke="#444" stroke-width="0.3"/>
<line x1="608.02" y1="559.50" x2="608.02" y2="561.17" stroke="#444" stroke-width="0.3"/>
<line x1="561.60" y1="559.50" x2="561.60" y2="561.17" stroke="#444" stroke-width="0.3"/>
<line x1="562.28" y1="559.50" x2="562.28" y2="560.87" stroke="#444" stroke-width="0.3"/>
<line x1="574.08" y1="559.50" x2="574.08" y2="560.22" stroke="#444" stroke-width="0.3"/>
<line x1="599.64" y1="559.50" x2="599.64" y2="560.81" stroke="#444" stroke-width="0.3"/>
<line x1="567.06" y1="559.50" x2="567.06" y2="561.58" stroke="#444" stroke-width="0.3"/>
<line x1="562.54" y1="559.50" x2="562.54" y2="560.46" stroke="#444" stroke-width="0.3"/>
<line x1="561.16" y1="559.50" x2="561.16" y2="560.62" stroke="#444" stroke-width="0.3"/>
<line x1="609.16" y1="559.50" x2="609.16" y2="561.07" stroke="#444" stroke-width="0.3"/>
<line x1="561.72" y1="559.50" x2="561.72" y2="561.57" stroke="#444" stroke-width="0.3"/>
<line x1="607.67" y1="559.50" x2="607.67" y2="560.95" stroke="#444" stroke-width="0.3"/>
<line x1="593.95" y1="559.50" x2="593.95" y2="560.60" stroke="#444" stroke-width="0.3"/>
<line x1="582.45" y1="559.50" x2="582.45" y2="561.19" stroke="#444" stroke-width="0.3"/>
<line x1="590.89" y1="559.50" x2="590.89" y2="561.27" stroke="#444" stroke-width="0.3"/>
<line x1="575.33" y1="559.50" x2="575.33" y2="560.26" stroke="#444" stroke-width="0.3"/>
<line x1="592.44" y1="559.50" x2="592.44" y2="561.18" stroke="#444" stroke-width="0.3"/>
<line x1="610.38" y1="559.50" x2="610.38" y2="560.26" stroke="#444" stroke-width="0.3"/>
<line x1="581.90" y1="559.50" x2="581.90" y2="560.79" stroke="#444" stroke-width="0.3"/>
<line x1="607.32" y1="559.50" x2="607.32" y2="561.19" stroke="#444" stroke-width="0.3"/>
<line x1="572.24" y1="559.50" x2="572.24" y2="560.31" stroke="#444" stroke-width="0.3"/>
<line x1="564.15" y1="559.50" x2="564.15" y2="560.21" stroke="#444" stroke-width="0.3"/>
<line x1="564.32" y1="559.50" x2="564.32" y2="560.21" stroke="#444" stroke-width="0.3"/>
<line x1="588.76" y1="559.50" x2="588.76" y2="560.93" stroke="#444" stroke-width="0.3"/>
<line x1="567.11" y1="559.50" x2="567.11" y2="560.38" stroke="#444" stroke-width="0.3"/>
<line x1="561.59" y1="559.50" x2="561.59" y2="561.12" stroke="#444" stroke-width="0.3"/>
<line x1="588.42" y1="559.50" x2="588.42" y2="561.41" stroke="#444" stroke-width="0.3"/>
<line x1="564.13" y1="559.50" x2="564.13" y2="560.94" stroke="#444" stroke-width="0.3"/>
<line x1="595.61" y1="559.50" x2="595.61" y2="560.56" stroke="#444" stroke-width="0.3"/>
<polyline points="562.47,638.43 566.66,636.34 575.44,623.37 579.63,621.69 589.25,617.51 605.36,598.68" fill="none" stroke="#4a5cc8" stroke-width="0.35" stroke-linejoin="round" stroke-opacity="0.7"/>
<circle cx="562.47" cy="638.43" r="0.55" fill="#4a5cc8"/>
<circle cx="566.66" cy="636.34" r="0.55" fill="#4a5cc8"/>
<circle cx="575.44" cy="623.37" r="0.55" fill="#4a5cc8"/>
<circle cx="579.63" cy="621.69" r="0.55" fill="#4a5cc8"/>
<circle cx="589.25" cy="617.51" r="0.55" fill="#4a5cc8"/>
<circle cx="605.36" cy="598.68" r="0.55" fill="#4a5cc8"/>
<polyline points="562.89,636.34 568.33,635.92 579.63,621.69" fill="none" stroke="#ee3a30" stroke-width="0.35" stroke-linejoin="round" stroke-opacity="0.7"/>
<circle cx="562.89" cy="636.34" r="0.55" fill="#ee3a30"/>
<circle cx="568.33" cy="635.92" r="0.55" fill="#ee3a30"/>
<circle cx="579.63" cy="621.69" r="0.55" fill="#ee3a30"/>
<polyline points="566.24,635.92 575.03,624.21" fill="none" stroke="#2a9a50" stroke-width="0.35" stroke-linejoin="round" stroke-opacity="0.7"/>
<circle cx="566.24" cy="635.92" r="0.55" fill="#2a9a50"/>
<circle cx="575.03" cy="624.21" r="0.55" fill="#2a9a50"/>
<line x1="575.44" y1="607.05" x2="575.44" y2="631.11" stroke="#4a5cc8" stroke-width="0.65"/>
<line x1="574.54" y1="607.05" x2="576.34" y2="607.05" stroke="#4a5cc8" stroke-width="0.5"/>
<line x1="574.54" y1="631.11" x2="576.34" y2="631.11" stroke="#4a5cc8" stroke-width="0.5"/>
<line x1="589.25" y1="602.87" x2="589.25" y2="627.55" stroke="#4a5cc8" stroke-width="0.65"/>
<line x1="588.35" y1="602.87" x2="590.15" y2="602.87" stroke="#4a5cc8" stroke-width="0.5"/>
<line x1="588.35" y1="627.55" x2="590.15" y2="627.55" stroke="#4a5cc8" stroke-width="0.5"/>
<line x1="605.36" y1="582.99" x2="605.36" y2="610.82" stroke="#4a5cc8" stroke-width="0.65"/>
<line x1="604.46" y1="582.99" x2="606.26" y2="582.99" stroke="#4a5cc8" stroke-width="0.5"/>
<line x1="604.46" y1="610.82" x2="606.26" y2="610.82" stroke="#4a5cc8" stroke-width="0.5"/>
<line x1="562.89" y1="622.11" x2="562.89" y2="638.43" stroke="#ee3a30" stroke-width="0.65"/>
<line x1="561.99" y1="622.11" x2="563.79" y2="622.11" stroke="#ee3a30" stroke-width="0.5"/>
<line x1="561.99" y1="638.43" x2="563.79" y2="638.43" stroke="#ee3a30" stroke-width="0.5"/>
<line x1="568.33" y1="623.37" x2="568.33" y2="638.43" stroke="#ee3a30" stroke-width="0.65"/>
<line x1="567.43" y1="623.37" x2="569.23" y2="623.37" stroke="#ee3a30" stroke-width="0.5"/>
<line x1="567.43" y1="638.43" x2="569.23" y2="638.43" stroke="#ee3a30" stroke-width="0.5"/>
<line x1="579.63" y1="607.05" x2="579.63" y2="630.48" stroke="#ee3a30" stroke-width="0.65"/>
<line x1="578.73" y1="607.05" x2="580.53" y2="607.05" stroke="#ee3a30" stroke-width="0.5"/>
<line x1="578.73" y1="630.48" x2="580.53" y2="630.48" stroke="#ee3a30" stroke-width="0.5"/>
<line x1="566.24" y1="623.37" x2="566.24" y2="638.43" stroke="#2a9a50" stroke-width="0.65"/>
<line x1="565.34" y1="623.37" x2="567.14" y2="623.37" stroke="#2a9a50" stroke-width="0.5"/>
<line x1="565.34" y1="638.43" x2="567.14" y2="638.43" stroke="#2a9a50" stroke-width="0.5"/>
<line x1="575.03" y1="609.14" x2="575.03" y2="632.15" stroke="#2a9a50" stroke-width="0.65"/>
<line x1="574.13" y1="609.14" x2="575.93" y2="609.14" stroke="#2a9a50" stroke-width="0.5"/>
<line x1="574.13" y1="632.15" x2="575.93" y2="632.15" stroke="#2a9a50" stroke-width="0.5"/>
<rect x="557.20" y="559.00" width="95.60" height="82.20" fill="none" stroke="#555" stroke-width="0.45"/>
<line x1="561.40" y1="641.20" x2="561.40" y2="642.50" stroke="#444" stroke-width="0.35"/>
<text x="561.40" y="647.80" font-size="2.9" text-anchor="middle" fill="#444">0.0</text>
<line x1="557.20" y1="638.80" x2="555.90" y2="638.80" stroke="#444" stroke-width="0.35"/>
<text x="553.60" y="638.80" font-size="2.9" text-anchor="middle" fill="#444" transform="rotate(-90 553.60 638.80)">0.0</text>
<line x1="579.10" y1="641.20" x2="579.10" y2="642.50" stroke="#444" stroke-width="0.35"/>
<text x="579.10" y="647.80" font-size="2.9" text-anchor="middle" fill="#444">0.2</text>
<line x1="557.20" y1="623.44" x2="555.90" y2="623.44" stroke="#444" stroke-width="0.35"/>
<text x="553.60" y="623.44" font-size="2.9" text-anchor="middle" fill="#444" transform="rotate(-90 553.60 623.44)">0.2</text>
<line x1="596.80" y1="641.20" x2="596.80" y2="642.50" stroke="#444" stroke-width="0.35"/>
<text x="596.80" y="647.80" font-size="2.9" text-anchor="middle" fill="#444">0.4</text>
<line x1="557.20" y1="608.08" x2="555.90" y2="608.08" stroke="#444" stroke-width="0.35"/>
<text x="553.60" y="608.08" font-size="2.9" text-anchor="middle" fill="#444" transform="rotate(-90 553.60 608.08)">0.4</text>
<line x1="614.50" y1="641.20" x2="614.50" y2="642.50" stroke="#444" stroke-width="0.35"/>
<text x="614.50" y="647.80" font-size="2.9" text-anchor="middle" fill="#444">0.6</text>
<line x1="557.20" y1="592.72" x2="555.90" y2="592.72" stroke="#444" stroke-width="0.35"/>
<text x="553.60" y="592.72" font-size="2.9" text-anchor="middle" fill="#444" transform="rotate(-90 553.60 592.72)">0.6</text>
<line x1="632.20" y1="641.20" x2="632.20" y2="642.50" stroke="#444" stroke-width="0.35"/>
<text x="632.20" y="647.80" font-size="2.9" text-anchor="middle" fill="#444">0.8</text>
<line x1="557.20" y1="577.36" x2="555.90" y2="577.36" stroke="#444" stroke-width="0.35"/>
<text x="553.60" y="577.36" font-size="2.9" text-anchor="middle" fill="#444" transform="rotate(-90 553.60 577.36)">0.8</text>
<line x1="649.90" y1="641.20" x2="649.90" y2="642.50" stroke="#444" stroke-width="0.35"/>
<text x="649.90" y="647.80" font-size="2.9" text-anchor="middle" fill="#444">1.0</text>
<line x1="557.20" y1="562.00" x2="555.90" y2="562.00" stroke="#444" stroke-width="0.35"/>
<text x="553.60" y="562.00" font-size="2.9" text-anchor="middle" fill="#444" transform="rotate(-90 553.60 562.00)">1.0</text>
<text x="605.00" y="656.40" font-size="3.1" text-anchor="middle" fill="#222" textLength="57.80" lengthAdjust="spacingAndGlyphs">Nomogram-Predicted Probability of OS</text>
<text x="544.70" y="600.10" font-size="2.9" text-anchor="middle" fill="#222" textLength="30.00" lengthAdjust="spacingAndGlyphs" transform="rotate(-90 544.70 600.10)">Actual OS (proportion)</text>
<rect x="630.50" y="625.50" width="22.30" height="15.70" fill="#ffffff" stroke="#444" stroke-width="0.4"/>
<line x1="633.70" y1="629.60" x2="640.50" y2="629.60" stroke="#4a5cc8" stroke-width="0.8"/>
<text x="642.70" y="630.60" font-size="3.0" fill="#333" textLength="9.50" lengthAdjust="spacingAndGlyphs">1 year</text>
<line x1="633.70" y1="633.65" x2="640.50" y2="633.65" stroke="#ee3a30" stroke-width="0.8"/>
<text x="642.70" y="634.65" font-size="3.0" fill="#333" textLength="9.50" lengthAdjust="spacingAndGlyphs">3 year</text>
<line x1="633.70" y1="637.70" x2="640.50" y2="637.70" stroke="#2a9a50" stroke-width="0.8"/>
<text x="642.70" y="638.70" font-size="3.0" fill="#333" textLength="9.50" lengthAdjust="spacingAndGlyphs">5 year</text>
<line x1="301.40" y1="689.70" x2="301.40" y2="777.00" stroke="#333" stroke-width="0.5"/>
<line x1="301.40" y1="777.00" x2="376.00" y2="777.00" stroke="#333" stroke-width="0.5"/>
<line x1="300.50" y1="707.80" x2="301.40" y2="707.80" stroke="#333" stroke-width="0.35"/>
<text x="299.80" y="708.80" font-size="2.8" text-anchor="end" fill="#444">0.6</text>
<line x1="300.50" y1="729.30" x2="301.40" y2="729.30" stroke="#333" stroke-width="0.35"/>
<text x="299.80" y="730.30" font-size="2.8" text-anchor="end" fill="#444">0.3</text>
<line x1="300.50" y1="750.80" x2="301.40" y2="750.80" stroke="#333" stroke-width="0.35"/>
<text x="299.80" y="751.80" font-size="2.8" text-anchor="end" fill="#444">0.0</text>
<line x1="300.50" y1="772.30" x2="301.40" y2="772.30" stroke="#333" stroke-width="0.35"/>
<text x="299.80" y="773.30" font-size="2.8" text-anchor="end" fill="#444">-0.3</text>
<line x1="312.70" y1="777.00" x2="312.70" y2="777.90" stroke="#333" stroke-width="0.35"/>
<text x="312.70" y="780.90" font-size="2.8" text-anchor="middle" fill="#444">0.6</text>
<line x1="328.00" y1="777.00" x2="328.00" y2="777.90" stroke="#333" stroke-width="0.35"/>
<text x="328.00" y="780.90" font-size="2.8" text-anchor="middle" fill="#444">0.7</text>
<line x1="344.40" y1="777.00" x2="344.40" y2="777.90" stroke="#333" stroke-width="0.35"/>
<text x="344.40" y="780.90" font-size="2.8" text-anchor="middle" fill="#444">0.8</text>
<line x1="359.80" y1="777.00" x2="359.80" y2="777.90" stroke="#333" stroke-width="0.35"/>
<text x="359.80" y="780.90" font-size="2.8" text-anchor="middle" fill="#444">0.9</text>
<line x1="375.30" y1="777.00" x2="375.30" y2="777.90" stroke="#333" stroke-width="0.35"/>
<text x="375.30" y="780.90" font-size="2.8" text-anchor="middle" fill="#444">1.0</text>
<text x="339.70" y="783.80" font-size="3.6" text-anchor="middle" fill="#111" textLength="21.40" lengthAdjust="spacingAndGlyphs">Risk Threshold</text>
<text x="291.50" y="731.85" font-size="3.4" text-anchor="middle" fill="#111" textLength="17.00" lengthAdjust="spacingAndGlyphs" transform="rotate(-90 291.50 731.85)">Net Benefit</text>
<line x1="305.19" y1="750.79" x2="375.00" y2="750.79" stroke="#fbdca8" stroke-width="0.9"/>
<polyline points="344.81,714.91 348.55,720.51 351.36,727.99 354.16,735.47 356.96,744.81 358.83,752.29 360.70,759.77 362.57,771.92" fill="none" stroke="#6aaad0" stroke-width="0.6" stroke-linejoin="round"/>
<polyline points="351.36,731.73 354.16,737.34 356.03,741.07 357.90,748.55 358.83,751.36 359.77,750.42 363.50,750.42 363.50,754.16" fill="none" stroke="#f0a040" stroke-width="0.8" stroke-linejoin="round"/>
<polyline points="358.83,749.49 359.39,756.03 359.77,759.77" fill="none" stroke="#e4572e" stroke-width="0.9" stroke-linejoin="round"/>
<polyline points="357.90,739.21 358.83,748.55 359.77,741.07 360.70,746.68 361.26,741.07 361.26,748.55" fill="none" stroke="#2f7fc8" stroke-width="0.8" stroke-linejoin="round"/>
<polyline points="305.19,693.97 313.04,695.84 320.51,698.08 327.99,700.89 333.60,703.69 339.21,707.43 342.94,711.17 346.68,714.91 349.49,717.71 352.29,720.51 355.09,723.32 357.90,727.06 359.77,727.99 361.64,727.62 363.50,731.73 365.37,737.34 367.24,744.81 369.11,752.29 370.61,757.90 371.36,763.50 372.85,771.92" fill="none" stroke="#5a66c0" stroke-width="1.0" stroke-linejoin="round"/>
<polyline points="305.19,693.97 313.04,695.84 320.51,698.08 327.99,700.89 333.60,703.69 339.21,707.62 342.94,711.36 346.68,715.09 349.49,717.90 352.66,721.07 355.47,723.69 358.27,727.62 360.14,728.36 362.01,727.99 363.88,732.10 365.75,737.71 367.62,745.19 369.49,752.66 370.98,758.27 371.73,763.88 372.85,771.92" fill="none" stroke="#2e9a62" stroke-width="0.7" stroke-linejoin="round"/>
<polyline points="373.22,742.94 374.72,749.49" fill="none" stroke="#6aaad0" stroke-width="0.6" stroke-linejoin="round"/>
<text x="380.70" y="721.10" font-size="3.1" fill="#111">model</text>
<line x1="381.10" y1="725.10" x2="383.70" y2="725.10" stroke="#e4572e" stroke-width="0.9" stroke-opacity="0.45"/>
<text x="385.70" y="726.10" font-size="2.9" fill="#333">N_Stage</text>
<line x1="381.10" y1="728.60" x2="383.70" y2="728.60" stroke="#2f7fc8" stroke-width="0.9"/>
<text x="385.70" y="729.60" font-size="2.9" fill="#333">T_Stage</text>
<line x1="381.10" y1="732.10" x2="383.70" y2="732.10" stroke="#f0a040" stroke-width="0.9" stroke-opacity="0.45"/>
<text x="385.70" y="733.10" font-size="2.9" fill="#333" textLength="16.80" lengthAdjust="spacingAndGlyphs">Surgery_Type</text>
<line x1="381.10" y1="735.60" x2="383.70" y2="735.60" stroke="#2e9a62" stroke-width="0.9"/>
<text x="385.70" y="736.60" font-size="2.9" fill="#333">Cox_model</text>
<line x1="381.10" y1="739.10" x2="383.70" y2="739.10" stroke="#5a66c0" stroke-width="0.9" stroke-opacity="0.45"/>
<text x="385.70" y="740.10" font-size="2.9" fill="#333">ML_model</text>
<line x1="381.10" y1="742.60" x2="383.70" y2="742.60" stroke="#6aaad0" stroke-width="0.9"/>
<text x="385.70" y="743.60" font-size="2.9" fill="#333">All</text>
<line x1="381.10" y1="746.10" x2="383.70" y2="746.10" stroke="#fbdca8" stroke-width="0.9"/>
<text x="385.70" y="747.10" font-size="2.9" fill="#333">None</text>
<line x1="432.80" y1="689.70" x2="432.80" y2="777.00" stroke="#333" stroke-width="0.5"/>
<line x1="432.80" y1="777.00" x2="507.00" y2="777.00" stroke="#333" stroke-width="0.5"/>
<line x1="431.90" y1="707.80" x2="432.80" y2="707.80" stroke="#333" stroke-width="0.35"/>
<text x="431.20" y="708.80" font-size="2.8" text-anchor="end" fill="#444">0.6</text>
<line x1="431.90" y1="729.30" x2="432.80" y2="729.30" stroke="#333" stroke-width="0.35"/>
<text x="431.20" y="730.30" font-size="2.8" text-anchor="end" fill="#444">0.3</text>
<line x1="431.90" y1="750.80" x2="432.80" y2="750.80" stroke="#333" stroke-width="0.35"/>
<text x="431.20" y="751.80" font-size="2.8" text-anchor="end" fill="#444">0.0</text>
<line x1="431.90" y1="772.30" x2="432.80" y2="772.30" stroke="#333" stroke-width="0.35"/>
<text x="431.20" y="773.30" font-size="2.8" text-anchor="end" fill="#444">-0.3</text>
<line x1="444.90" y1="777.00" x2="444.90" y2="777.90" stroke="#333" stroke-width="0.35"/>
<text x="444.90" y="780.90" font-size="2.8" text-anchor="middle" fill="#444">0.7</text>
<line x1="464.50" y1="777.00" x2="464.50" y2="777.90" stroke="#333" stroke-width="0.35"/>
<text x="464.50" y="780.90" font-size="2.8" text-anchor="middle" fill="#444">0.8</text>
<line x1="484.50" y1="777.00" x2="484.50" y2="777.90" stroke="#333" stroke-width="0.35"/>
<text x="484.50" y="780.90" font-size="2.8" text-anchor="middle" fill="#444">0.9</text>
<line x1="504.30" y1="777.00" x2="504.30" y2="777.90" stroke="#333" stroke-width="0.35"/>
<text x="504.30" y="780.90" font-size="2.8" text-anchor="middle" fill="#444">1.0</text>
<text x="470.60" y="783.80" font-size="3.6" text-anchor="middle" fill="#111" textLength="23.40" lengthAdjust="spacingAndGlyphs">Risk Threshold</text>
<text x="422.50" y="731.85" font-size="3.4" text-anchor="middle" fill="#111" textLength="17.00" lengthAdjust="spacingAndGlyphs" transform="rotate(-90 422.50 731.85)">Net Benefit</text>
<line x1="435.56" y1="750.79" x2="506.00" y2="750.79" stroke="#fbdca8" stroke-width="0.9"/>
<polyline points="469.21,709.30 474.81,714.91 480.42,722.38 484.16,729.86 486.96,737.34 488.83,744.81 490.70,756.03 492.57,770.98" fill="none" stroke="#6aaad0" stroke-width="0.6" stroke-linejoin="round"/>
<polyline points="471.07,711.17 472.01,716.78 474.81,715.84 478.55,719.58 484.16,724.25 486.96,729.86 489.77,737.34 492.57,744.81 494.44,754.16 495.37,748.55 497.24,742.94 498.18,748.55 500.05,751.36 500.98,750.42" fill="none" stroke="#f0a040" stroke-width="0.8" stroke-linejoin="round"/>
<polyline points="488.83,737.34 489.39,748.55 489.77,756.03 488.27,754.16" fill="none" stroke="#2f7fc8" stroke-width="0.9" stroke-linejoin="round"/>
<polyline points="435.56,695.28 444.91,698.08 452.38,700.89 459.86,703.69 465.47,706.50 471.07,709.30 474.81,710.23 478.55,713.04 480.42,715.84 483.22,717.71 486.03,722.38 489.77,727.06 493.50,731.73 497.24,738.27 500.05,744.81 500.98,750.42 501.92,759.77 502.85,770.98" fill="none" stroke="#5a66c0" stroke-width="0.7" stroke-linejoin="round"/>
<polyline points="435.56,695.28 443.04,696.59 448.64,698.08 452.38,699.02 457.99,701.82 463.60,704.63 469.21,707.43 474.81,710.23 479.49,712.66 484.16,716.78 487.90,721.45 491.64,727.06 494.44,732.66 497.24,737.34 499.11,741.07 500.98,745.75 501.92,749.49 502.85,759.77 503.22,770.98" fill="none" stroke="#2e9a62" stroke-width="0.9" stroke-linejoin="round"/>
<polyline points="504.35,744.81 504.72,750.42" fill="none" stroke="#2e9a62" stroke-width="0.7" stroke-linejoin="round"/>
<text x="511.30" y="721.10" font-size="3.1" fill="#111">model</text>
<line x1="511.70" y1="725.10" x2="514.30" y2="725.10" stroke="#e4572e" stroke-width="0.9" stroke-opacity="0.45"/>
<text x="516.30" y="726.10" font-size="2.9" fill="#333">N_Stage</text>
<line x1="511.70" y1="728.60" x2="514.30" y2="728.60" stroke="#2f7fc8" stroke-width="0.9"/>
<text x="516.30" y="729.60" font-size="2.9" fill="#333">T_Stage</text>
<line x1="511.70" y1="732.10" x2="514.30" y2="732.10" stroke="#f0a040" stroke-width="0.9" stroke-opacity="0.45"/>
<text x="516.30" y="733.10" font-size="2.9" fill="#333" textLength="16.80" lengthAdjust="spacingAndGlyphs">Surgery_Type</text>
<line x1="511.70" y1="735.60" x2="514.30" y2="735.60" stroke="#2e9a62" stroke-width="0.9"/>
<text x="516.30" y="736.60" font-size="2.9" fill="#333">Cox_model</text>
<line x1="511.70" y1="739.10" x2="514.30" y2="739.10" stroke="#5a66c0" stroke-width="0.9" stroke-opacity="0.45"/>
<text x="516.30" y="740.10" font-size="2.9" fill="#333">ML_model</text>
<line x1="511.70" y1="742.60" x2="514.30" y2="742.60" stroke="#6aaad0" stroke-width="0.9"/>
<text x="516.30" y="743.60" font-size="2.9" fill="#333">All</text>
<line x1="511.70" y1="746.10" x2="514.30" y2="746.10" stroke="#fbdca8" stroke-width="0.9"/>
<text x="516.30" y="747.10" font-size="2.9" fill="#333">None</text>
<line x1="558.60" y1="689.70" x2="558.60" y2="777.00" stroke="#333" stroke-width="0.5"/>
<line x1="558.60" y1="777.00" x2="636.00" y2="777.00" stroke="#333" stroke-width="0.5"/>
<line x1="557.70" y1="718.60" x2="558.60" y2="718.60" stroke="#333" stroke-width="0.35"/>
<text x="557.00" y="719.60" font-size="2.8" text-anchor="end" fill="#444">0.3</text>
<line x1="557.70" y1="750.80" x2="558.60" y2="750.80" stroke="#333" stroke-width="0.35"/>
<text x="557.00" y="751.80" font-size="2.8" text-anchor="end" fill="#444">0.0</text>
<line x1="561.20" y1="777.00" x2="561.20" y2="777.90" stroke="#333" stroke-width="0.35"/>
<text x="561.20" y="780.90" font-size="2.8" text-anchor="middle" fill="#444">0.4</text>
<line x1="584.70" y1="777.00" x2="584.70" y2="777.90" stroke="#333" stroke-width="0.35"/>
<text x="584.70" y="780.90" font-size="2.8" text-anchor="middle" fill="#444">0.6</text>
<line x1="608.50" y1="777.00" x2="608.50" y2="777.90" stroke="#333" stroke-width="0.35"/>
<text x="608.50" y="780.90" font-size="2.8" text-anchor="middle" fill="#444">0.8</text>
<line x1="632.80" y1="777.00" x2="632.80" y2="777.90" stroke="#333" stroke-width="0.35"/>
<text x="632.80" y="780.90" font-size="2.8" text-anchor="middle" fill="#444">1.0</text>
<text x="597.20" y="783.80" font-size="3.6" text-anchor="middle" fill="#111" textLength="22.50" lengthAdjust="spacingAndGlyphs">Risk Threshold</text>
<text x="550.00" y="731.85" font-size="3.4" text-anchor="middle" fill="#111" textLength="17.00" lengthAdjust="spacingAndGlyphs" transform="rotate(-90 550.00 731.85)">Net Benefit</text>
<line x1="561.76" y1="750.79" x2="635.00" y2="750.79" stroke="#fbdca8" stroke-width="0.9"/>
<polyline points="596.34,705.56 603.81,711.17 609.42,717.71 615.03,726.12 618.77,735.47 621.57,744.81 623.44,756.03 624.75,770.98" fill="none" stroke="#6aaad0" stroke-width="0.6" stroke-linejoin="round"/>
<polyline points="610.36,722.38 611.29,717.71 615.03,721.45 618.77,727.99 621.57,735.47 623.44,741.07 624.37,748.55 623.44,759.77" fill="none" stroke="#f0a040" stroke-width="0.8" stroke-linejoin="round"/>
<polyline points="620.64,741.07 621.01,752.29 621.57,763.50" fill="none" stroke="#2f7fc8" stroke-width="0.9" stroke-linejoin="round"/>
<polyline points="561.76,696.21 581.38,699.58 590.73,702.76 598.21,707.43 603.81,709.30 609.42,711.17 614.09,714.91 618.77,722.38 622.50,729.86 626.24,739.21 628.11,746.68 629.61,756.03 630.36,763.50 630.92,767.24" fill="none" stroke="#5a66c0" stroke-width="0.7" stroke-linejoin="round"/>
<polyline points="561.76,696.21 572.04,697.71 581.38,699.02 585.12,699.95 590.73,701.45 594.47,702.20 600.07,703.69 603.81,705.93 609.42,710.23 614.09,714.91 616.90,718.64 619.70,723.32 622.50,729.86 625.31,736.40 627.18,741.07 629.05,746.68 629.98,752.29 630.92,759.77 631.85,769.11" fill="none" stroke="#2e9a62" stroke-width="0.9" stroke-linejoin="round"/>
<polyline points="630.92,731.73 631.85,741.07 632.79,750.42" fill="none" stroke="#2e9a62" stroke-width="0.7" stroke-linejoin="round"/>
<text x="639.30" y="721.10" font-size="3.1" fill="#111">model</text>
<line x1="639.70" y1="725.10" x2="642.30" y2="725.10" stroke="#e4572e" stroke-width="0.9" stroke-opacity="0.45"/>
<text x="644.30" y="726.10" font-size="2.9" fill="#333">N_Stage</text>
<line x1="639.70" y1="728.60" x2="642.30" y2="728.60" stroke="#2f7fc8" stroke-width="0.9"/>
<text x="644.30" y="729.60" font-size="2.9" fill="#333">T_Stage</text>
<line x1="639.70" y1="732.10" x2="642.30" y2="732.10" stroke="#f0a040" stroke-width="0.9" stroke-opacity="0.45"/>
<text x="644.30" y="733.10" font-size="2.9" fill="#333" textLength="16.80" lengthAdjust="spacingAndGlyphs">Surgery_Type</text>
<line x1="639.70" y1="735.60" x2="642.30" y2="735.60" stroke="#2e9a62" stroke-width="0.9"/>
<text x="644.30" y="736.60" font-size="2.9" fill="#333">Cox_model</text>
<line x1="639.70" y1="739.10" x2="642.30" y2="739.10" stroke="#5a66c0" stroke-width="0.9" stroke-opacity="0.45"/>
<text x="644.30" y="740.10" font-size="2.9" fill="#333">ML_model</text>
<line x1="639.70" y1="742.60" x2="642.30" y2="742.60" stroke="#6aaad0" stroke-width="0.9"/>
<text x="644.30" y="743.60" font-size="2.9" fill="#333">All</text>
<line x1="639.70" y1="746.10" x2="642.30" y2="746.10" stroke="#fbdca8" stroke-width="0.9"/>
<text x="644.30" y="747.10" font-size="2.9" fill="#333">None</text>
</svg></body></html>
